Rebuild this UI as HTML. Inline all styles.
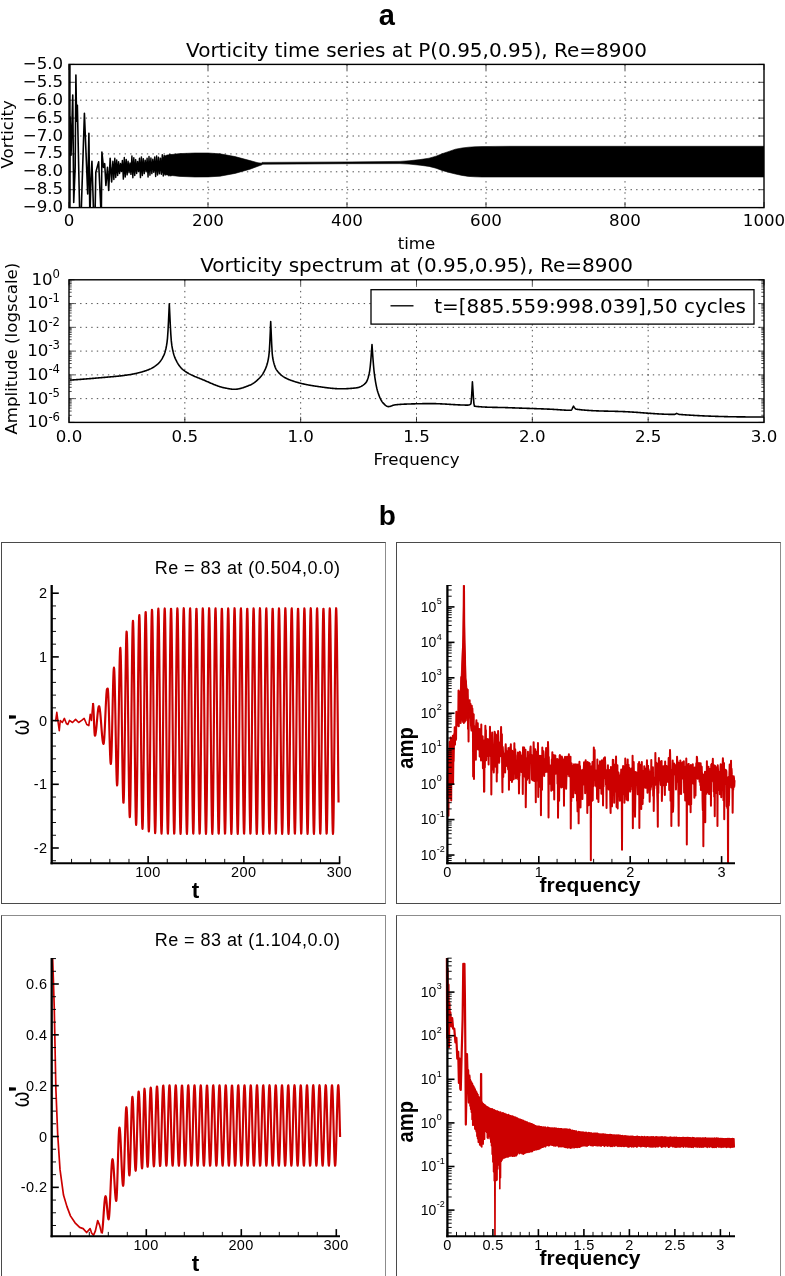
<!DOCTYPE html>
<html lang="en">
<head>
<meta charset="utf-8">
<title>Vorticity time series and spectra</title>
<style>
html,body{margin:0;padding:0;background:#fff;}
body{width:785px;height:1276px;overflow:hidden;}
svg{display:block;}
text{white-space:pre;}
</style>
</head>
<body>
<svg width="785" height="1276" viewBox="0 0 785 1276">
<rect x="0" y="0" width="785" height="1276" fill="#ffffff"/>
<text x="386.8" y="24.9" font-family="'Liberation Sans','DejaVu Sans',sans-serif" font-weight="bold" font-size="29" text-anchor="middle" fill="#000">a</text>
<text x="387.3" y="524.7" font-family="'Liberation Sans','DejaVu Sans',sans-serif" font-weight="bold" font-size="28" text-anchor="middle" fill="#000">b</text>
<g id="a1">
<line x1="69" y1="82.3" x2="764" y2="82.3" stroke="#000" stroke-width="0.7" stroke-dasharray="1.39 4.17"/>
<line x1="69" y1="100.2" x2="764" y2="100.2" stroke="#000" stroke-width="0.7" stroke-dasharray="1.39 4.17"/>
<line x1="69" y1="118.1" x2="764" y2="118.1" stroke="#000" stroke-width="0.7" stroke-dasharray="1.39 4.17"/>
<line x1="69" y1="136" x2="764" y2="136" stroke="#000" stroke-width="0.7" stroke-dasharray="1.39 4.17"/>
<line x1="69" y1="153.9" x2="764" y2="153.9" stroke="#000" stroke-width="0.7" stroke-dasharray="1.39 4.17"/>
<line x1="69" y1="171.8" x2="764" y2="171.8" stroke="#000" stroke-width="0.7" stroke-dasharray="1.39 4.17"/>
<line x1="69" y1="189.7" x2="764" y2="189.7" stroke="#000" stroke-width="0.7" stroke-dasharray="1.39 4.17"/>
<line x1="208" y1="64.4" x2="208" y2="207.6" stroke="#000" stroke-width="0.7" stroke-dasharray="1.39 4.17"/>
<line x1="347" y1="64.4" x2="347" y2="207.6" stroke="#000" stroke-width="0.7" stroke-dasharray="1.39 4.17"/>
<line x1="486" y1="64.4" x2="486" y2="207.6" stroke="#000" stroke-width="0.7" stroke-dasharray="1.39 4.17"/>
<line x1="625" y1="64.4" x2="625" y2="207.6" stroke="#000" stroke-width="0.7" stroke-dasharray="1.39 4.17"/>
<line x1="69" y1="64.4" x2="74.56" y2="64.4" stroke="#000" stroke-width="0.7"/>
<line x1="764" y1="64.4" x2="758.44" y2="64.4" stroke="#000" stroke-width="0.7"/>
<line x1="69" y1="82.3" x2="74.56" y2="82.3" stroke="#000" stroke-width="0.7"/>
<line x1="764" y1="82.3" x2="758.44" y2="82.3" stroke="#000" stroke-width="0.7"/>
<line x1="69" y1="100.2" x2="74.56" y2="100.2" stroke="#000" stroke-width="0.7"/>
<line x1="764" y1="100.2" x2="758.44" y2="100.2" stroke="#000" stroke-width="0.7"/>
<line x1="69" y1="118.1" x2="74.56" y2="118.1" stroke="#000" stroke-width="0.7"/>
<line x1="764" y1="118.1" x2="758.44" y2="118.1" stroke="#000" stroke-width="0.7"/>
<line x1="69" y1="136" x2="74.56" y2="136" stroke="#000" stroke-width="0.7"/>
<line x1="764" y1="136" x2="758.44" y2="136" stroke="#000" stroke-width="0.7"/>
<line x1="69" y1="153.9" x2="74.56" y2="153.9" stroke="#000" stroke-width="0.7"/>
<line x1="764" y1="153.9" x2="758.44" y2="153.9" stroke="#000" stroke-width="0.7"/>
<line x1="69" y1="171.8" x2="74.56" y2="171.8" stroke="#000" stroke-width="0.7"/>
<line x1="764" y1="171.8" x2="758.44" y2="171.8" stroke="#000" stroke-width="0.7"/>
<line x1="69" y1="189.7" x2="74.56" y2="189.7" stroke="#000" stroke-width="0.7"/>
<line x1="764" y1="189.7" x2="758.44" y2="189.7" stroke="#000" stroke-width="0.7"/>
<line x1="69" y1="207.6" x2="74.56" y2="207.6" stroke="#000" stroke-width="0.7"/>
<line x1="764" y1="207.6" x2="758.44" y2="207.6" stroke="#000" stroke-width="0.7"/>
<line x1="69" y1="207.6" x2="69" y2="202.04" stroke="#000" stroke-width="0.7"/>
<line x1="69" y1="64.4" x2="69" y2="69.96" stroke="#000" stroke-width="0.7"/>
<line x1="208" y1="207.6" x2="208" y2="202.04" stroke="#000" stroke-width="0.7"/>
<line x1="208" y1="64.4" x2="208" y2="69.96" stroke="#000" stroke-width="0.7"/>
<line x1="347" y1="207.6" x2="347" y2="202.04" stroke="#000" stroke-width="0.7"/>
<line x1="347" y1="64.4" x2="347" y2="69.96" stroke="#000" stroke-width="0.7"/>
<line x1="486" y1="207.6" x2="486" y2="202.04" stroke="#000" stroke-width="0.7"/>
<line x1="486" y1="64.4" x2="486" y2="69.96" stroke="#000" stroke-width="0.7"/>
<line x1="625" y1="207.6" x2="625" y2="202.04" stroke="#000" stroke-width="0.7"/>
<line x1="625" y1="64.4" x2="625" y2="69.96" stroke="#000" stroke-width="0.7"/>
<line x1="764" y1="207.6" x2="764" y2="202.04" stroke="#000" stroke-width="0.7"/>
<line x1="764" y1="64.4" x2="764" y2="69.96" stroke="#000" stroke-width="0.7"/>
<clipPath id="ca1"><rect x="69" y="64.4" width="695" height="143.2"/></clipPath>
<g clip-path="url(#ca1)" stroke="#000" fill="none" stroke-width="1.6" stroke-linejoin="round">
<path d="M69.9 64.4 L69.9 207.6 L70.2 118 L70.07 116.31 L71.05 155.18 L72.75 95.05 L73.72 202.56 L75.18 167.33 L75.9 75.01 L76.63 121.17 L77.36 105.38 L79.79 218.35 L81.01 218.35 L84.41 113.27 L87.69 194.05 L88.9 133.32 L89.87 218.35 L90.97 179.48 L91.94 161.26 L93.76 218.35 L94.98 218.35 L95.83 172.19 L98.62 161.86 L101.29 218.35 L101.9 152.14 L103.48 167.33 L104.69 163.69 L105.91 185.55 L107.49 167.33 L108.7 190.41 L110.16 158.22 L111.62 181.91 L112.59 167.33"/>
<path d="M111 169.35 L111.95 171.81 L112.9 161.33 L113.85 179.51 L114.8 158.33 L115.75 177.49 L116.7 160.09 L117.65 175.48 L118.6 161.83 L119.55 173.5 L120.5 163.54 L121.45 171.55 L122.4 160.36 L123.35 179.12 L124.3 157.51 L125.25 176.98 L126.2 159.39 L127.15 174.86 L128.1 161.24 L129.05 172.76 L130 163.08 L130.95 174.35 L131.9 156.03 L132.85 177.74 L133.8 157.71 L134.75 175.56 L135.7 159.6 L136.65 173.51 L137.6 161.36 L138.55 171.58 L139.5 158.31 L140.45 177.63 L141.4 156.86 L142.35 175.55 L143.3 158.65 L144.25 173.6 L145.2 160.3 L146.15 171.78 L147.1 158.13 L148.05 176.99 L149 156.47 L149.95 175.15 L150.9 157.96 L151.85 173.61 L152.8 159.21 L153.75 172.25 L154.7 157.07 L155.65 176.5 L156.6 155.99 L157.55 175.04 L158.5 157.16 L159.45 173.79 L160.4 158.12 L161.35 174.16 L162.3 154.66 L163.25 175.92 L164.2 155.59 L165.15 174.91 L166.1 156.23 L167.05 174.3 L168 156.29 L168.95 175.78 L169.9 154.38 L170.85 175.83 L171.8 154.67" stroke-width="1.45"/>
</g>
<path d="M162 158.5 L164 156.5 L167 155 L180 153.6 L195 153 L208 153 L220 153.8 L235 156.6 L250 160.6 L258 162.8 L262 163.2 L262 164.8 L258 166.2 L250 169.2 L235 173.4 L220 176.2 L208 176.9 L195 177 L180 176.4 L167 175 L164 174 L162 172Z" fill="#000" stroke="#000" stroke-width="0.6" stroke-linejoin="round"/>
<g clip-path="url(#ca1)">
<path d="M262 162.4 L300 162.2 L350 161.9 L400 161.4 L409 160.8 L420 159.6 L429 158.2 L436 156.2 L442 153.8 L449 151.4 L455.4 149.2 L462 148 L468.6 147.2 L475 146.8 L482 146.6 L495 146.4 L510 146.3 L764.6 146.3 L764.6 177 L510 177 L495 177 L482 177 L475 176.8 L468.6 176.4 L462 175.4 L455.4 174 L449 172.4 L442 170.4 L436 168.2 L429 166.4 L420 165.2 L409 164.1 L400 163.6 L350 163.7 L300 164 L262 164.2Z" fill="#000" stroke="#000" stroke-width="0.6" stroke-linejoin="round"/>
</g>
<rect x="69" y="64.4" width="695" height="143.2" fill="none" stroke="#000" stroke-width="1.4"/>
<text x="63.2" y="68.9" font-family="'DejaVu Sans','Liberation Sans',sans-serif" font-size="16.67" text-anchor="end" fill="#000">−5.0</text>
<text x="63.2" y="86.8" font-family="'DejaVu Sans','Liberation Sans',sans-serif" font-size="16.67" text-anchor="end" fill="#000">−5.5</text>
<text x="63.2" y="104.7" font-family="'DejaVu Sans','Liberation Sans',sans-serif" font-size="16.67" text-anchor="end" fill="#000">−6.0</text>
<text x="63.2" y="122.6" font-family="'DejaVu Sans','Liberation Sans',sans-serif" font-size="16.67" text-anchor="end" fill="#000">−6.5</text>
<text x="63.2" y="140.5" font-family="'DejaVu Sans','Liberation Sans',sans-serif" font-size="16.67" text-anchor="end" fill="#000">−7.0</text>
<text x="63.2" y="158.4" font-family="'DejaVu Sans','Liberation Sans',sans-serif" font-size="16.67" text-anchor="end" fill="#000">−7.5</text>
<text x="63.2" y="176.3" font-family="'DejaVu Sans','Liberation Sans',sans-serif" font-size="16.67" text-anchor="end" fill="#000">−8.0</text>
<text x="63.2" y="194.2" font-family="'DejaVu Sans','Liberation Sans',sans-serif" font-size="16.67" text-anchor="end" fill="#000">−8.5</text>
<text x="63.2" y="212.1" font-family="'DejaVu Sans','Liberation Sans',sans-serif" font-size="16.67" text-anchor="end" fill="#000">−9.0</text>
<text x="69" y="226" font-family="'DejaVu Sans','Liberation Sans',sans-serif" font-size="16.67" text-anchor="middle" fill="#000">0</text>
<text x="208" y="226" font-family="'DejaVu Sans','Liberation Sans',sans-serif" font-size="16.67" text-anchor="middle" fill="#000">200</text>
<text x="347" y="226" font-family="'DejaVu Sans','Liberation Sans',sans-serif" font-size="16.67" text-anchor="middle" fill="#000">400</text>
<text x="486" y="226" font-family="'DejaVu Sans','Liberation Sans',sans-serif" font-size="16.67" text-anchor="middle" fill="#000">600</text>
<text x="625" y="226" font-family="'DejaVu Sans','Liberation Sans',sans-serif" font-size="16.67" text-anchor="middle" fill="#000">800</text>
<text x="764" y="226" font-family="'DejaVu Sans','Liberation Sans',sans-serif" font-size="16.67" text-anchor="middle" fill="#000">1000</text>
<text x="416.5" y="57" font-family="'DejaVu Sans','Liberation Sans',sans-serif" font-size="20" text-anchor="middle" fill="#000">Vorticity time series at P(0.95,0.95), Re=8900</text>
<text x="416.5" y="248.6" font-family="'DejaVu Sans','Liberation Sans',sans-serif" font-size="16.67" text-anchor="middle" fill="#000">time</text>
<text transform="translate(12.8 134.3) rotate(-90)" font-family="'DejaVu Sans','Liberation Sans',sans-serif" font-size="16.67" text-anchor="middle" fill="#000">Vorticity</text>
</g>
<g id="a2">
<line x1="69" y1="303.57" x2="764" y2="303.57" stroke="#000" stroke-width="0.7" stroke-dasharray="1.39 4.17"/>
<line x1="69" y1="327.33" x2="764" y2="327.33" stroke="#000" stroke-width="0.7" stroke-dasharray="1.39 4.17"/>
<line x1="69" y1="351.1" x2="764" y2="351.1" stroke="#000" stroke-width="0.7" stroke-dasharray="1.39 4.17"/>
<line x1="69" y1="374.87" x2="764" y2="374.87" stroke="#000" stroke-width="0.7" stroke-dasharray="1.39 4.17"/>
<line x1="69" y1="398.63" x2="764" y2="398.63" stroke="#000" stroke-width="0.7" stroke-dasharray="1.39 4.17"/>
<line x1="184.83" y1="279.8" x2="184.83" y2="422.4" stroke="#000" stroke-width="0.7" stroke-dasharray="1.39 4.17"/>
<line x1="300.67" y1="279.8" x2="300.67" y2="422.4" stroke="#000" stroke-width="0.7" stroke-dasharray="1.39 4.17"/>
<line x1="416.5" y1="279.8" x2="416.5" y2="422.4" stroke="#000" stroke-width="0.7" stroke-dasharray="1.39 4.17"/>
<line x1="532.33" y1="279.8" x2="532.33" y2="422.4" stroke="#000" stroke-width="0.7" stroke-dasharray="1.39 4.17"/>
<line x1="648.17" y1="279.8" x2="648.17" y2="422.4" stroke="#000" stroke-width="0.7" stroke-dasharray="1.39 4.17"/>
<line x1="69" y1="279.8" x2="74.56" y2="279.8" stroke="#000" stroke-width="0.7"/>
<line x1="764" y1="279.8" x2="758.44" y2="279.8" stroke="#000" stroke-width="0.7"/>
<line x1="69" y1="296.41" x2="71.7" y2="296.41" stroke="#000" stroke-width="0.7"/>
<line x1="764" y1="296.41" x2="761.3" y2="296.41" stroke="#000" stroke-width="0.7"/>
<line x1="69" y1="292.23" x2="71.7" y2="292.23" stroke="#000" stroke-width="0.7"/>
<line x1="764" y1="292.23" x2="761.3" y2="292.23" stroke="#000" stroke-width="0.7"/>
<line x1="69" y1="289.26" x2="71.7" y2="289.26" stroke="#000" stroke-width="0.7"/>
<line x1="764" y1="289.26" x2="761.3" y2="289.26" stroke="#000" stroke-width="0.7"/>
<line x1="69" y1="286.95" x2="71.7" y2="286.95" stroke="#000" stroke-width="0.7"/>
<line x1="764" y1="286.95" x2="761.3" y2="286.95" stroke="#000" stroke-width="0.7"/>
<line x1="69" y1="285.07" x2="71.7" y2="285.07" stroke="#000" stroke-width="0.7"/>
<line x1="764" y1="285.07" x2="761.3" y2="285.07" stroke="#000" stroke-width="0.7"/>
<line x1="69" y1="283.48" x2="71.7" y2="283.48" stroke="#000" stroke-width="0.7"/>
<line x1="764" y1="283.48" x2="761.3" y2="283.48" stroke="#000" stroke-width="0.7"/>
<line x1="69" y1="282.1" x2="71.7" y2="282.1" stroke="#000" stroke-width="0.7"/>
<line x1="764" y1="282.1" x2="761.3" y2="282.1" stroke="#000" stroke-width="0.7"/>
<line x1="69" y1="280.89" x2="71.7" y2="280.89" stroke="#000" stroke-width="0.7"/>
<line x1="764" y1="280.89" x2="761.3" y2="280.89" stroke="#000" stroke-width="0.7"/>
<line x1="69" y1="303.57" x2="74.56" y2="303.57" stroke="#000" stroke-width="0.7"/>
<line x1="764" y1="303.57" x2="758.44" y2="303.57" stroke="#000" stroke-width="0.7"/>
<line x1="69" y1="320.18" x2="71.7" y2="320.18" stroke="#000" stroke-width="0.7"/>
<line x1="764" y1="320.18" x2="761.3" y2="320.18" stroke="#000" stroke-width="0.7"/>
<line x1="69" y1="315.99" x2="71.7" y2="315.99" stroke="#000" stroke-width="0.7"/>
<line x1="764" y1="315.99" x2="761.3" y2="315.99" stroke="#000" stroke-width="0.7"/>
<line x1="69" y1="313.02" x2="71.7" y2="313.02" stroke="#000" stroke-width="0.7"/>
<line x1="764" y1="313.02" x2="761.3" y2="313.02" stroke="#000" stroke-width="0.7"/>
<line x1="69" y1="310.72" x2="71.7" y2="310.72" stroke="#000" stroke-width="0.7"/>
<line x1="764" y1="310.72" x2="761.3" y2="310.72" stroke="#000" stroke-width="0.7"/>
<line x1="69" y1="308.84" x2="71.7" y2="308.84" stroke="#000" stroke-width="0.7"/>
<line x1="764" y1="308.84" x2="761.3" y2="308.84" stroke="#000" stroke-width="0.7"/>
<line x1="69" y1="307.25" x2="71.7" y2="307.25" stroke="#000" stroke-width="0.7"/>
<line x1="764" y1="307.25" x2="761.3" y2="307.25" stroke="#000" stroke-width="0.7"/>
<line x1="69" y1="305.87" x2="71.7" y2="305.87" stroke="#000" stroke-width="0.7"/>
<line x1="764" y1="305.87" x2="761.3" y2="305.87" stroke="#000" stroke-width="0.7"/>
<line x1="69" y1="304.65" x2="71.7" y2="304.65" stroke="#000" stroke-width="0.7"/>
<line x1="764" y1="304.65" x2="761.3" y2="304.65" stroke="#000" stroke-width="0.7"/>
<line x1="69" y1="327.33" x2="74.56" y2="327.33" stroke="#000" stroke-width="0.7"/>
<line x1="764" y1="327.33" x2="758.44" y2="327.33" stroke="#000" stroke-width="0.7"/>
<line x1="69" y1="343.95" x2="71.7" y2="343.95" stroke="#000" stroke-width="0.7"/>
<line x1="764" y1="343.95" x2="761.3" y2="343.95" stroke="#000" stroke-width="0.7"/>
<line x1="69" y1="339.76" x2="71.7" y2="339.76" stroke="#000" stroke-width="0.7"/>
<line x1="764" y1="339.76" x2="761.3" y2="339.76" stroke="#000" stroke-width="0.7"/>
<line x1="69" y1="336.79" x2="71.7" y2="336.79" stroke="#000" stroke-width="0.7"/>
<line x1="764" y1="336.79" x2="761.3" y2="336.79" stroke="#000" stroke-width="0.7"/>
<line x1="69" y1="334.49" x2="71.7" y2="334.49" stroke="#000" stroke-width="0.7"/>
<line x1="764" y1="334.49" x2="761.3" y2="334.49" stroke="#000" stroke-width="0.7"/>
<line x1="69" y1="332.61" x2="71.7" y2="332.61" stroke="#000" stroke-width="0.7"/>
<line x1="764" y1="332.61" x2="761.3" y2="332.61" stroke="#000" stroke-width="0.7"/>
<line x1="69" y1="331.01" x2="71.7" y2="331.01" stroke="#000" stroke-width="0.7"/>
<line x1="764" y1="331.01" x2="761.3" y2="331.01" stroke="#000" stroke-width="0.7"/>
<line x1="69" y1="329.64" x2="71.7" y2="329.64" stroke="#000" stroke-width="0.7"/>
<line x1="764" y1="329.64" x2="761.3" y2="329.64" stroke="#000" stroke-width="0.7"/>
<line x1="69" y1="328.42" x2="71.7" y2="328.42" stroke="#000" stroke-width="0.7"/>
<line x1="764" y1="328.42" x2="761.3" y2="328.42" stroke="#000" stroke-width="0.7"/>
<line x1="69" y1="351.1" x2="74.56" y2="351.1" stroke="#000" stroke-width="0.7"/>
<line x1="764" y1="351.1" x2="758.44" y2="351.1" stroke="#000" stroke-width="0.7"/>
<line x1="69" y1="367.71" x2="71.7" y2="367.71" stroke="#000" stroke-width="0.7"/>
<line x1="764" y1="367.71" x2="761.3" y2="367.71" stroke="#000" stroke-width="0.7"/>
<line x1="69" y1="363.53" x2="71.7" y2="363.53" stroke="#000" stroke-width="0.7"/>
<line x1="764" y1="363.53" x2="761.3" y2="363.53" stroke="#000" stroke-width="0.7"/>
<line x1="69" y1="360.56" x2="71.7" y2="360.56" stroke="#000" stroke-width="0.7"/>
<line x1="764" y1="360.56" x2="761.3" y2="360.56" stroke="#000" stroke-width="0.7"/>
<line x1="69" y1="358.25" x2="71.7" y2="358.25" stroke="#000" stroke-width="0.7"/>
<line x1="764" y1="358.25" x2="761.3" y2="358.25" stroke="#000" stroke-width="0.7"/>
<line x1="69" y1="356.37" x2="71.7" y2="356.37" stroke="#000" stroke-width="0.7"/>
<line x1="764" y1="356.37" x2="761.3" y2="356.37" stroke="#000" stroke-width="0.7"/>
<line x1="69" y1="354.78" x2="71.7" y2="354.78" stroke="#000" stroke-width="0.7"/>
<line x1="764" y1="354.78" x2="761.3" y2="354.78" stroke="#000" stroke-width="0.7"/>
<line x1="69" y1="353.4" x2="71.7" y2="353.4" stroke="#000" stroke-width="0.7"/>
<line x1="764" y1="353.4" x2="761.3" y2="353.4" stroke="#000" stroke-width="0.7"/>
<line x1="69" y1="352.19" x2="71.7" y2="352.19" stroke="#000" stroke-width="0.7"/>
<line x1="764" y1="352.19" x2="761.3" y2="352.19" stroke="#000" stroke-width="0.7"/>
<line x1="69" y1="374.87" x2="74.56" y2="374.87" stroke="#000" stroke-width="0.7"/>
<line x1="764" y1="374.87" x2="758.44" y2="374.87" stroke="#000" stroke-width="0.7"/>
<line x1="69" y1="391.48" x2="71.7" y2="391.48" stroke="#000" stroke-width="0.7"/>
<line x1="764" y1="391.48" x2="761.3" y2="391.48" stroke="#000" stroke-width="0.7"/>
<line x1="69" y1="387.29" x2="71.7" y2="387.29" stroke="#000" stroke-width="0.7"/>
<line x1="764" y1="387.29" x2="761.3" y2="387.29" stroke="#000" stroke-width="0.7"/>
<line x1="69" y1="384.32" x2="71.7" y2="384.32" stroke="#000" stroke-width="0.7"/>
<line x1="764" y1="384.32" x2="761.3" y2="384.32" stroke="#000" stroke-width="0.7"/>
<line x1="69" y1="382.02" x2="71.7" y2="382.02" stroke="#000" stroke-width="0.7"/>
<line x1="764" y1="382.02" x2="761.3" y2="382.02" stroke="#000" stroke-width="0.7"/>
<line x1="69" y1="380.14" x2="71.7" y2="380.14" stroke="#000" stroke-width="0.7"/>
<line x1="764" y1="380.14" x2="761.3" y2="380.14" stroke="#000" stroke-width="0.7"/>
<line x1="69" y1="378.55" x2="71.7" y2="378.55" stroke="#000" stroke-width="0.7"/>
<line x1="764" y1="378.55" x2="761.3" y2="378.55" stroke="#000" stroke-width="0.7"/>
<line x1="69" y1="377.17" x2="71.7" y2="377.17" stroke="#000" stroke-width="0.7"/>
<line x1="764" y1="377.17" x2="761.3" y2="377.17" stroke="#000" stroke-width="0.7"/>
<line x1="69" y1="375.95" x2="71.7" y2="375.95" stroke="#000" stroke-width="0.7"/>
<line x1="764" y1="375.95" x2="761.3" y2="375.95" stroke="#000" stroke-width="0.7"/>
<line x1="69" y1="398.63" x2="74.56" y2="398.63" stroke="#000" stroke-width="0.7"/>
<line x1="764" y1="398.63" x2="758.44" y2="398.63" stroke="#000" stroke-width="0.7"/>
<line x1="69" y1="415.25" x2="71.7" y2="415.25" stroke="#000" stroke-width="0.7"/>
<line x1="764" y1="415.25" x2="761.3" y2="415.25" stroke="#000" stroke-width="0.7"/>
<line x1="69" y1="411.06" x2="71.7" y2="411.06" stroke="#000" stroke-width="0.7"/>
<line x1="764" y1="411.06" x2="761.3" y2="411.06" stroke="#000" stroke-width="0.7"/>
<line x1="69" y1="408.09" x2="71.7" y2="408.09" stroke="#000" stroke-width="0.7"/>
<line x1="764" y1="408.09" x2="761.3" y2="408.09" stroke="#000" stroke-width="0.7"/>
<line x1="69" y1="405.79" x2="71.7" y2="405.79" stroke="#000" stroke-width="0.7"/>
<line x1="764" y1="405.79" x2="761.3" y2="405.79" stroke="#000" stroke-width="0.7"/>
<line x1="69" y1="403.91" x2="71.7" y2="403.91" stroke="#000" stroke-width="0.7"/>
<line x1="764" y1="403.91" x2="761.3" y2="403.91" stroke="#000" stroke-width="0.7"/>
<line x1="69" y1="402.31" x2="71.7" y2="402.31" stroke="#000" stroke-width="0.7"/>
<line x1="764" y1="402.31" x2="761.3" y2="402.31" stroke="#000" stroke-width="0.7"/>
<line x1="69" y1="400.94" x2="71.7" y2="400.94" stroke="#000" stroke-width="0.7"/>
<line x1="764" y1="400.94" x2="761.3" y2="400.94" stroke="#000" stroke-width="0.7"/>
<line x1="69" y1="399.72" x2="71.7" y2="399.72" stroke="#000" stroke-width="0.7"/>
<line x1="764" y1="399.72" x2="761.3" y2="399.72" stroke="#000" stroke-width="0.7"/>
<line x1="69" y1="422.4" x2="74.56" y2="422.4" stroke="#000" stroke-width="0.7"/>
<line x1="764" y1="422.4" x2="758.44" y2="422.4" stroke="#000" stroke-width="0.7"/>
<line x1="69" y1="422.4" x2="69" y2="416.84" stroke="#000" stroke-width="0.7"/>
<line x1="69" y1="279.8" x2="69" y2="285.36" stroke="#000" stroke-width="0.7"/>
<line x1="184.83" y1="422.4" x2="184.83" y2="416.84" stroke="#000" stroke-width="0.7"/>
<line x1="184.83" y1="279.8" x2="184.83" y2="285.36" stroke="#000" stroke-width="0.7"/>
<line x1="300.67" y1="422.4" x2="300.67" y2="416.84" stroke="#000" stroke-width="0.7"/>
<line x1="300.67" y1="279.8" x2="300.67" y2="285.36" stroke="#000" stroke-width="0.7"/>
<line x1="416.5" y1="422.4" x2="416.5" y2="416.84" stroke="#000" stroke-width="0.7"/>
<line x1="416.5" y1="279.8" x2="416.5" y2="285.36" stroke="#000" stroke-width="0.7"/>
<line x1="532.33" y1="422.4" x2="532.33" y2="416.84" stroke="#000" stroke-width="0.7"/>
<line x1="532.33" y1="279.8" x2="532.33" y2="285.36" stroke="#000" stroke-width="0.7"/>
<line x1="648.17" y1="422.4" x2="648.17" y2="416.84" stroke="#000" stroke-width="0.7"/>
<line x1="648.17" y1="279.8" x2="648.17" y2="285.36" stroke="#000" stroke-width="0.7"/>
<line x1="764" y1="422.4" x2="764" y2="416.84" stroke="#000" stroke-width="0.7"/>
<line x1="764" y1="279.8" x2="764" y2="285.36" stroke="#000" stroke-width="0.7"/>
<path d="M70 380.1 L70.5 380.07 L71 380.03 L71.5 380 L72 379.97 L72.5 379.93 L73 379.9 L73.5 379.87 L74 379.83 L74.5 379.8 L75 379.76 L75.5 379.73 L76 379.69 L76.5 379.66 L77 379.62 L77.5 379.58 L78 379.55 L78.5 379.51 L79 379.47 L79.5 379.44 L80 379.4 L80.5 379.36 L81 379.33 L81.5 379.29 L82 379.25 L82.5 379.21 L83 379.17 L83.5 379.14 L84 379.1 L84.5 379.06 L85 379.02 L85.5 378.98 L86 378.94 L86.5 378.9 L87 378.86 L87.5 378.82 L88 378.78 L88.5 378.74 L89 378.7 L89.5 378.66 L90 378.62 L90.5 378.58 L91 378.54 L91.5 378.5 L92 378.45 L92.5 378.41 L93 378.37 L93.5 378.33 L94 378.29 L94.5 378.24 L95 378.2 L95.5 378.16 L96 378.12 L96.5 378.07 L97 378.03 L97.5 377.99 L98 377.94 L98.5 377.9 L99 377.86 L99.5 377.81 L100 377.77 L100.5 377.72 L101 377.68 L101.5 377.64 L102 377.59 L102.5 377.55 L103 377.5 L103.5 377.46 L104 377.42 L104.5 377.37 L105 377.33 L105.5 377.29 L106 377.24 L106.5 377.2 L107 377.16 L107.5 377.12 L108 377.07 L108.5 377.03 L109 376.99 L109.5 376.94 L110 376.9 L110.5 376.86 L111 376.81 L111.5 376.77 L112 376.72 L112.5 376.68 L113 376.63 L113.5 376.59 L114 376.54 L114.5 376.5 L115 376.45 L115.5 376.4 L116 376.35 L116.5 376.3 L117 376.25 L117.5 376.2 L118 376.15 L118.5 376.1 L119 376.05 L119.5 375.99 L120 375.94 L120.5 375.88 L121 375.83 L121.5 375.77 L122 375.71 L122.5 375.65 L123 375.59 L123.5 375.53 L124 375.46 L124.5 375.4 L125 375.33 L125.5 375.27 L126 375.2 L126.5 375.13 L127 375.06 L127.5 374.99 L128 374.91 L128.5 374.83 L129 374.76 L129.5 374.68 L130 374.59 L130.5 374.51 L131 374.42 L131.5 374.33 L132 374.24 L132.5 374.15 L133 374.05 L133.5 373.96 L134 373.86 L134.5 373.75 L135 373.65 L135.5 373.54 L136 373.43 L136.5 373.32 L137 373.2 L137.5 373.09 L138 372.97 L138.5 372.84 L139 372.72 L139.5 372.59 L140 372.46 L140.5 372.32 L141 372.18 L141.5 372.04 L142 371.9 L142.5 371.75 L143 371.6 L143.5 371.45 L144 371.29 L144.5 371.13 L145 370.97 L145.5 370.81 L146 370.64 L146.5 370.46 L147 370.29 L147.5 370.11 L148 369.93 L148.5 369.73 L149 369.53 L149.5 369.32 L150 369.1 L150.5 368.86 L151 368.62 L151.5 368.36 L152 368.09 L152.5 367.81 L153 367.52 L153.5 367.21 L154 366.89 L154.5 366.56 L155 366.21 L155.5 365.85 L156 365.47 L156.5 365.07 L157 364.67 L157.5 364.24 L158 363.8 L158.5 363.33 L159 362.83 L159.5 362.29 L160 361.71 L160.5 361.07 L161 360.38 L161.5 359.63 L162 358.82 L162.5 357.94 L163 356.98 L163.5 355.95 L164 354.83 L164.5 353.6 L165 352.15 L165.5 350.4 L166 348.27 L166.5 345.69 L167 342.59 L167.5 338.05 L168 330.73 L168.5 321.3 L169 310.52 L169.3 303.7 L169.3 303.7 L169.8 314.61 L170.3 324.93 L170.8 333.94 L171.3 340.9 L171.8 345.14 L172.3 348.04 L172.8 350.54 L173.3 352.68 L173.8 354.51 L174.3 356.07 L174.8 357.43 L175.3 358.62 L175.8 359.7 L176.3 360.71 L176.8 361.67 L177.3 362.57 L177.8 363.42 L178.3 364.22 L178.8 364.98 L179.3 365.68 L179.8 366.35 L180.3 366.97 L180.8 367.55 L181.3 368.09 L181.8 368.6 L182.3 369.07 L182.8 369.51 L183.3 369.92 L183.8 370.31 L184.3 370.68 L184.8 371.05 L185.3 371.4 L185.8 371.74 L186.3 372.07 L186.8 372.39 L187.3 372.7 L187.8 373 L188.3 373.29 L188.8 373.58 L189.3 373.85 L189.8 374.12 L190.3 374.38 L190.8 374.64 L191.3 374.88 L191.8 375.12 L192.3 375.36 L192.8 375.59 L193.3 375.82 L193.8 376.04 L194.3 376.25 L194.8 376.47 L195.3 376.67 L195.8 376.88 L196.3 377.08 L196.8 377.29 L197.3 377.49 L197.8 377.68 L198.3 377.88 L198.8 378.08 L199.3 378.28 L199.8 378.47 L200.3 378.67 L200.8 378.87 L201.3 379.07 L201.8 379.27 L202.3 379.47 L202.8 379.68 L203.3 379.89 L203.8 380.1 L204.3 380.32 L204.8 380.53 L205.3 380.75 L205.8 380.97 L206.3 381.19 L206.8 381.41 L207.3 381.63 L207.8 381.85 L208.3 382.07 L208.8 382.29 L209.3 382.52 L209.8 382.74 L210.3 382.95 L210.8 383.17 L211.3 383.39 L211.8 383.6 L212.3 383.82 L212.8 384.03 L213.3 384.24 L213.8 384.45 L214.3 384.65 L214.8 384.85 L215.3 385.05 L215.8 385.24 L216.3 385.43 L216.8 385.62 L217.3 385.8 L217.8 385.98 L218.3 386.16 L218.8 386.33 L219.3 386.49 L219.8 386.65 L220.3 386.81 L220.8 386.96 L221.3 387.1 L221.8 387.23 L222.3 387.37 L222.8 387.49 L223.3 387.61 L223.8 387.72 L224.3 387.82 L224.8 387.92 L225.3 388.03 L225.8 388.13 L226.3 388.23 L226.8 388.33 L227.3 388.43 L227.8 388.53 L228.3 388.63 L228.8 388.72 L229.3 388.81 L229.8 388.89 L230.3 388.97 L230.8 389.04 L231.3 389.1 L231.8 389.16 L232.3 389.2 L232.8 389.24 L233.3 389.27 L233.8 389.29 L234.3 389.3 L234.8 389.3 L235.3 389.28 L235.8 389.25 L236.3 389.21 L236.8 389.16 L237.3 389.1 L237.8 389.02 L238.3 388.94 L238.8 388.84 L239.3 388.74 L239.8 388.63 L240.3 388.51 L240.8 388.38 L241.3 388.25 L241.8 388.1 L242.3 387.95 L242.8 387.8 L243.3 387.63 L243.8 387.47 L244.3 387.29 L244.8 387.11 L245.3 386.93 L245.8 386.74 L246.3 386.55 L246.8 386.36 L247.3 386.17 L247.8 385.97 L248.3 385.77 L248.8 385.57 L249.3 385.36 L249.8 385.16 L250.3 384.94 L250.8 384.71 L251.3 384.46 L251.8 384.19 L252.3 383.91 L252.8 383.61 L253.3 383.29 L253.8 382.96 L254.3 382.61 L254.8 382.24 L255.3 381.86 L255.8 381.46 L256.3 381.04 L256.8 380.61 L257.3 380.17 L257.8 379.7 L258.3 379.23 L258.8 378.74 L259.3 378.23 L259.8 377.71 L260.3 377.16 L260.8 376.59 L261.3 375.98 L261.8 375.32 L262.3 374.61 L262.8 373.85 L263.3 373.04 L263.8 372.16 L264.3 371.21 L264.8 370.18 L265.3 369.08 L265.8 367.9 L266.3 366.63 L266.8 365.23 L267.3 363.59 L267.8 361.59 L268.3 359.11 L268.8 356.03 L269.3 351.45 L269.8 342.82 L270.3 331.44 L270.7 321.5 L270.7 321.5 L271.2 333.36 L271.7 344.58 L272.2 353.29 L272.7 357.74 L273.2 360.24 L273.7 362.41 L274.2 364.27 L274.7 365.87 L275.2 367.22 L275.7 368.37 L276.2 369.34 L276.7 370.16 L277.2 370.87 L277.7 371.5 L278.2 372.08 L278.7 372.64 L279.2 373.17 L279.7 373.67 L280.2 374.15 L280.7 374.6 L281.2 375.03 L281.7 375.44 L282.2 375.83 L282.7 376.2 L283.2 376.55 L283.7 376.88 L284.2 377.2 L284.7 377.5 L285.2 377.78 L285.7 378.05 L286.2 378.31 L286.7 378.55 L287.2 378.79 L287.7 379.01 L288.2 379.23 L288.7 379.44 L289.2 379.64 L289.7 379.83 L290.2 380.03 L290.7 380.21 L291.2 380.39 L291.7 380.57 L292.2 380.75 L292.7 380.92 L293.2 381.09 L293.7 381.26 L294.2 381.42 L294.7 381.59 L295.2 381.74 L295.7 381.9 L296.2 382.05 L296.7 382.2 L297.2 382.35 L297.7 382.49 L298.2 382.63 L298.7 382.77 L299.2 382.9 L299.7 383.04 L300.2 383.17 L300.7 383.29 L301.2 383.42 L301.7 383.54 L302.2 383.66 L302.7 383.78 L303.2 383.9 L303.7 384.01 L304.2 384.12 L304.7 384.23 L305.2 384.34 L305.7 384.44 L306.2 384.54 L306.7 384.65 L307.2 384.74 L307.7 384.84 L308.2 384.94 L308.7 385.03 L309.2 385.12 L309.7 385.21 L310.2 385.3 L310.7 385.39 L311.2 385.47 L311.7 385.55 L312.2 385.64 L312.7 385.72 L313.2 385.8 L313.7 385.87 L314.2 385.95 L314.7 386.03 L315.2 386.1 L315.7 386.17 L316.2 386.24 L316.7 386.31 L317.2 386.39 L317.7 386.46 L318.2 386.53 L318.7 386.6 L319.2 386.68 L319.7 386.75 L320.2 386.82 L320.7 386.89 L321.2 386.97 L321.7 387.04 L322.2 387.11 L322.7 387.18 L323.2 387.25 L323.7 387.32 L324.2 387.39 L324.7 387.45 L325.2 387.52 L325.7 387.59 L326.2 387.65 L326.7 387.72 L327.2 387.78 L327.7 387.84 L328.2 387.9 L328.7 387.96 L329.2 388.02 L329.7 388.08 L330.2 388.13 L330.7 388.18 L331.2 388.23 L331.7 388.28 L332.2 388.33 L332.7 388.38 L333.2 388.42 L333.7 388.46 L334.2 388.5 L334.7 388.54 L335.2 388.58 L335.7 388.61 L336.2 388.64 L336.7 388.67 L337.2 388.69 L337.7 388.72 L338.2 388.74 L338.7 388.76 L339.2 388.77 L339.7 388.78 L340.2 388.79 L340.7 388.8 L341.2 388.8 L341.7 388.8 L342.2 388.8 L342.7 388.79 L343.2 388.79 L343.7 388.78 L344.2 388.76 L344.7 388.75 L345.2 388.73 L345.7 388.72 L346.2 388.7 L346.7 388.67 L347.2 388.65 L347.7 388.62 L348.2 388.59 L348.7 388.56 L349.2 388.53 L349.7 388.49 L350.2 388.46 L350.7 388.42 L351.2 388.38 L351.7 388.33 L352.2 388.29 L352.7 388.24 L353.2 388.19 L353.7 388.14 L354.2 388.09 L354.7 388.04 L355.2 387.98 L355.7 387.92 L356.2 387.86 L356.7 387.8 L357.2 387.73 L357.7 387.63 L358.2 387.52 L358.7 387.38 L359.2 387.22 L359.7 387.04 L360.2 386.83 L360.7 386.61 L361.2 386.35 L361.7 386.07 L362.2 385.77 L362.7 385.44 L363.2 385.09 L363.7 384.71 L364.2 384.3 L364.7 383.86 L365.2 383.4 L365.7 382.91 L366.2 382.34 L366.7 381.52 L367.2 380.42 L367.7 379.06 L368.2 377.44 L368.7 375.56 L369.2 373.42 L369.7 370.79 L370.2 366.77 L370.7 361.55 L371.2 355.43 L371.7 348.7 L372 344.5 L372 344.5 L372.5 351.94 L373 358.95 L373.5 365.29 L374 370.72 L374.5 375 L375 378.45 L375.5 381.57 L376 384.37 L376.5 386.86 L377 389.05 L377.5 390.96 L378 392.6 L378.5 394.04 L379 395.39 L379.5 396.65 L380 397.83 L380.5 398.91 L381 399.89 L381.5 400.79 L382 401.59 L382.5 402.29 L383 402.89 L383.5 403.41 L384 403.91 L384.5 404.4 L385 404.87 L385.5 405.3 L386 405.69 L386.5 406.02 L387 406.29 L387.5 406.48 L388 406.58 L388.5 406.6 L389 406.55 L389.5 406.47 L390 406.36 L390.5 406.22 L391 406.06 L391.5 405.88 L392 405.71 L392.5 405.53 L393 405.36 L393.5 405.2 L394 405.07 L394.5 404.96 L395 404.89 L395.5 404.83 L396 404.77 L396.5 404.72 L397 404.67 L397.5 404.62 L398 404.57 L398.5 404.53 L399 404.49 L399.5 404.45 L400 404.41 L400.5 404.37 L401 404.34 L401.5 404.3 L402 404.27 L402.5 404.25 L403 404.22 L403.5 404.19 L404 404.17 L404.5 404.15 L405 404.13 L405.5 404.11 L406 404.09 L406.5 404.08 L407 404.06 L407.5 404.04 L408 404.03 L408.5 404.01 L409 404 L409.5 403.98 L410 403.97 L410.5 403.95 L411 403.94 L411.5 403.92 L412 403.91 L412.5 403.89 L413 403.88 L413.5 403.87 L414 403.85 L414.5 403.84 L415 403.83 L415.5 403.82 L416 403.8 L416.5 403.79 L417 403.78 L417.5 403.77 L418 403.76 L418.5 403.75 L419 403.74 L419.5 403.73 L420 403.72 L420.5 403.71 L421 403.7 L421.5 403.69 L422 403.68 L422.5 403.67 L423 403.67 L423.5 403.66 L424 403.65 L424.5 403.65 L425 403.64 L425.5 403.63 L426 403.63 L426.5 403.62 L427 403.62 L427.5 403.62 L428 403.61 L428.5 403.61 L429 403.61 L429.5 403.6 L430 403.6 L430.5 403.6 L431 403.6 L431.5 403.6 L432 403.6 L432.5 403.6 L433 403.61 L433.5 403.61 L434 403.62 L434.5 403.63 L435 403.64 L435.5 403.65 L436 403.66 L436.5 403.68 L437 403.69 L437.5 403.71 L438 403.72 L438.5 403.74 L439 403.76 L439.5 403.78 L440 403.81 L440.5 403.83 L441 403.85 L441.5 403.88 L442 403.9 L442.5 403.93 L443 403.95 L443.5 403.98 L444 404.01 L444.5 404.04 L445 404.07 L445.5 404.1 L446 404.13 L446.5 404.16 L447 404.19 L447.5 404.22 L448 404.25 L448.5 404.28 L449 404.31 L449.5 404.34 L450 404.37 L450.5 404.4 L451 404.43 L451.5 404.46 L452 404.5 L452.5 404.53 L453 404.56 L453.5 404.59 L454 404.62 L454.5 404.65 L455 404.67 L455.5 404.7 L456 404.73 L456.5 404.76 L457 404.78 L457.5 404.81 L458 404.83 L458.5 404.86 L459 404.88 L459.5 404.9 L460 404.92 L460.5 404.94 L461 404.96 L461.5 404.98 L462 405 L462.5 405.02 L463 405.03 L463.5 405.04 L464 405.06 L464.5 405.07 L465 405.08 L465.5 405.08 L466 405.09 L466.5 405.1 L467 405.1 L467.5 405.1 L468 405.09 L468.5 405.04 L469 404.94 L469.5 404.79 L470 404.57 L470.5 404.3 L471 403.44 L471.5 398.1 L472 389.48 L472.4 381.9 L472.4 381.9 L472.9 389.29 L473.4 397.22 L473.9 403.57 L474.4 406.2 L474.9 406.26 L475.4 406.32 L475.9 406.37 L476.4 406.43 L476.9 406.48 L477.4 406.53 L477.9 406.58 L478.4 406.62 L478.9 406.67 L479.4 406.71 L479.9 406.75 L480.4 406.79 L480.9 406.82 L481.4 406.86 L481.9 406.89 L482.4 406.93 L482.9 406.96 L483.4 406.99 L483.9 407.01 L484.4 407.04 L484.9 407.07 L485.4 407.09 L485.9 407.11 L486.4 407.14 L486.9 407.16 L487.4 407.18 L487.9 407.19 L488.4 407.21 L488.9 407.23 L489.4 407.25 L489.9 407.26 L490.4 407.27 L490.9 407.29 L491.4 407.3 L491.9 407.31 L492.4 407.33 L492.9 407.34 L493.4 407.35 L493.9 407.36 L494.4 407.37 L494.9 407.38 L495.4 407.39 L495.9 407.39 L496.4 407.4 L496.9 407.41 L497.4 407.42 L497.9 407.43 L498.4 407.44 L498.9 407.45 L499.4 407.45 L499.9 407.46 L500.4 407.47 L500.9 407.48 L501.4 407.49 L501.9 407.5 L502.4 407.51 L502.9 407.52 L503.4 407.53 L503.9 407.54 L504.4 407.56 L504.9 407.57 L505.4 407.58 L505.9 407.6 L506.4 407.61 L506.9 407.63 L507.4 407.64 L507.9 407.66 L508.4 407.68 L508.9 407.7 L509.4 407.72 L509.9 407.74 L510.4 407.75 L510.9 407.77 L511.4 407.79 L511.9 407.81 L512.4 407.83 L512.9 407.85 L513.4 407.87 L513.9 407.89 L514.4 407.9 L514.9 407.92 L515.4 407.94 L515.9 407.96 L516.4 407.98 L516.9 407.99 L517.4 408.01 L517.9 408.03 L518.4 408.05 L518.9 408.06 L519.4 408.08 L519.9 408.1 L520.4 408.12 L520.9 408.13 L521.4 408.15 L521.9 408.17 L522.4 408.18 L522.9 408.2 L523.4 408.22 L523.9 408.23 L524.4 408.25 L524.9 408.27 L525.4 408.28 L525.9 408.3 L526.4 408.32 L526.9 408.33 L527.4 408.35 L527.9 408.37 L528.4 408.38 L528.9 408.4 L529.4 408.42 L529.9 408.43 L530.4 408.45 L530.9 408.47 L531.4 408.49 L531.9 408.5 L532.4 408.52 L532.9 408.54 L533.4 408.55 L533.9 408.57 L534.4 408.59 L534.9 408.61 L535.4 408.62 L535.9 408.64 L536.4 408.66 L536.9 408.68 L537.4 408.69 L537.9 408.71 L538.4 408.73 L538.9 408.75 L539.4 408.76 L539.9 408.78 L540.4 408.8 L540.9 408.82 L541.4 408.84 L541.9 408.86 L542.4 408.88 L542.9 408.9 L543.4 408.91 L543.9 408.93 L544.4 408.95 L544.9 408.97 L545.4 408.99 L545.9 409.01 L546.4 409.03 L546.9 409.05 L547.4 409.08 L547.9 409.1 L548.4 409.12 L548.9 409.14 L549.4 409.16 L549.9 409.18 L550.4 409.2 L550.9 409.23 L551.4 409.25 L551.9 409.28 L552.4 409.31 L552.9 409.34 L553.4 409.37 L553.9 409.4 L554.4 409.43 L554.9 409.46 L555.4 409.5 L555.9 409.53 L556.4 409.57 L556.9 409.6 L557.4 409.64 L557.9 409.67 L558.4 409.71 L558.9 409.74 L559.4 409.78 L559.9 409.81 L560.4 409.85 L560.9 409.88 L561.4 409.92 L561.9 409.95 L562.4 409.98 L562.9 410.02 L563.4 410.05 L563.9 410.07 L564.4 410.1 L564.9 410.13 L565.4 410.15 L565.9 410.18 L566.4 410.2 L566.9 410.22 L567.4 410.24 L567.9 410.25 L568.4 410.27 L568.9 410.28 L569.4 410.29 L569.9 410.29 L570.4 410.3 L570.9 410.3 L571.4 410.04 L571.9 409.36 L572.4 408.42 L572.9 407.38 L573.4 406.38 L573.5 406.2 L573.5 406.2 L574 406.87 L574.5 407.62 L575 408.32 L575.5 408.88 L576 409.18 L576.5 409.25 L577 409.32 L577.5 409.38 L578 409.44 L578.5 409.5 L579 409.56 L579.5 409.62 L580 409.67 L580.5 409.73 L581 409.78 L581.5 409.83 L582 409.88 L582.5 409.93 L583 409.98 L583.5 410.02 L584 410.07 L584.5 410.11 L585 410.15 L585.5 410.19 L586 410.23 L586.5 410.27 L587 410.31 L587.5 410.34 L588 410.38 L588.5 410.41 L589 410.45 L589.5 410.48 L590 410.51 L590.5 410.54 L591 410.57 L591.5 410.6 L592 410.62 L592.5 410.65 L593 410.68 L593.5 410.7 L594 410.72 L594.5 410.75 L595 410.77 L595.5 410.79 L596 410.81 L596.5 410.83 L597 410.85 L597.5 410.87 L598 410.89 L598.5 410.91 L599 410.93 L599.5 410.94 L600 410.96 L600.5 410.98 L601 410.99 L601.5 411.01 L602 411.02 L602.5 411.03 L603 411.05 L603.5 411.06 L604 411.08 L604.5 411.09 L605 411.1 L605.5 411.11 L606 411.13 L606.5 411.14 L607 411.15 L607.5 411.16 L608 411.17 L608.5 411.18 L609 411.2 L609.5 411.21 L610 411.22 L610.5 411.23 L611 411.24 L611.5 411.25 L612 411.26 L612.5 411.28 L613 411.29 L613.5 411.3 L614 411.31 L614.5 411.32 L615 411.34 L615.5 411.35 L616 411.36 L616.5 411.37 L617 411.39 L617.5 411.4 L618 411.42 L618.5 411.43 L619 411.45 L619.5 411.46 L620 411.48 L620.5 411.49 L621 411.51 L621.5 411.53 L622 411.55 L622.5 411.57 L623 411.58 L623.5 411.6 L624 411.63 L624.5 411.65 L625 411.67 L625.5 411.69 L626 411.71 L626.5 411.74 L627 411.76 L627.5 411.79 L628 411.82 L628.5 411.84 L629 411.87 L629.5 411.9 L630 411.93 L630.5 411.96 L631 411.99 L631.5 412.02 L632 412.05 L632.5 412.08 L633 412.11 L633.5 412.15 L634 412.18 L634.5 412.21 L635 412.25 L635.5 412.28 L636 412.32 L636.5 412.35 L637 412.39 L637.5 412.42 L638 412.46 L638.5 412.49 L639 412.53 L639.5 412.57 L640 412.6 L640.5 412.64 L641 412.68 L641.5 412.71 L642 412.75 L642.5 412.79 L643 412.83 L643.5 412.86 L644 412.9 L644.5 412.94 L645 412.98 L645.5 413.01 L646 413.05 L646.5 413.09 L647 413.12 L647.5 413.16 L648 413.2 L648.5 413.24 L649 413.27 L649.5 413.31 L650 413.34 L650.5 413.38 L651 413.42 L651.5 413.45 L652 413.49 L652.5 413.52 L653 413.55 L653.5 413.59 L654 413.62 L654.5 413.65 L655 413.69 L655.5 413.72 L656 413.75 L656.5 413.78 L657 413.81 L657.5 413.84 L658 413.87 L658.5 413.9 L659 413.93 L659.5 413.96 L660 413.98 L660.5 414.01 L661 414.04 L661.5 414.06 L662 414.09 L662.5 414.11 L663 414.13 L663.5 414.15 L664 414.18 L664.5 414.2 L665 414.22 L665.5 414.23 L666 414.25 L666.5 414.27 L667 414.28 L667.5 414.3 L668 414.31 L668.5 414.33 L669 414.34 L669.5 414.35 L670 414.36 L670.5 414.37 L671 414.38 L671.5 414.38 L672 414.39 L672.5 414.39 L673 414.4 L673.5 414.4 L674 414.4 L674.5 414.36 L675 414.21 L675.5 413.98 L676 413.73 L676.5 413.49 L676.7 413.4 L676.7 413.4 L677.2 413.62 L677.7 413.86 L678.2 414.09 L678.7 414.28 L679.2 414.39 L679.7 414.43 L680.2 414.47 L680.7 414.51 L681.2 414.54 L681.7 414.58 L682.2 414.62 L682.7 414.66 L683.2 414.69 L683.7 414.73 L684.2 414.76 L684.7 414.8 L685.2 414.83 L685.7 414.87 L686.2 414.9 L686.7 414.93 L687.2 414.97 L687.7 415 L688.2 415.03 L688.7 415.07 L689.2 415.1 L689.7 415.13 L690.2 415.16 L690.7 415.19 L691.2 415.22 L691.7 415.25 L692.2 415.28 L692.7 415.31 L693.2 415.34 L693.7 415.37 L694.2 415.4 L694.7 415.43 L695.2 415.45 L695.7 415.48 L696.2 415.51 L696.7 415.54 L697.2 415.56 L697.7 415.59 L698.2 415.62 L698.7 415.64 L699.2 415.67 L699.7 415.69 L700.2 415.72 L700.7 415.74 L701.2 415.77 L701.7 415.79 L702.2 415.81 L702.7 415.84 L703.2 415.86 L703.7 415.88 L704.2 415.9 L704.7 415.93 L705.2 415.95 L705.7 415.97 L706.2 415.99 L706.7 416.01 L707.2 416.03 L707.7 416.05 L708.2 416.07 L708.7 416.09 L709.2 416.11 L709.7 416.13 L710.2 416.15 L710.7 416.17 L711.2 416.19 L711.7 416.21 L712.2 416.23 L712.7 416.24 L713.2 416.26 L713.7 416.28 L714.2 416.3 L714.7 416.31 L715.2 416.33 L715.7 416.35 L716.2 416.36 L716.7 416.38 L717.2 416.39 L717.7 416.41 L718.2 416.42 L718.7 416.44 L719.2 416.45 L719.7 416.47 L720.2 416.48 L720.7 416.5 L721.2 416.51 L721.7 416.52 L722.2 416.54 L722.7 416.55 L723.2 416.56 L723.7 416.57 L724.2 416.59 L724.7 416.6 L725.2 416.61 L725.7 416.62 L726.2 416.63 L726.7 416.64 L727.2 416.66 L727.7 416.67 L728.2 416.68 L728.7 416.69 L729.2 416.7 L729.7 416.71 L730.2 416.72 L730.7 416.73 L731.2 416.74 L731.7 416.75 L732.2 416.75 L732.7 416.76 L733.2 416.77 L733.7 416.78 L734.2 416.79 L734.7 416.8 L735.2 416.8 L735.7 416.81 L736.2 416.82 L736.7 416.83 L737.2 416.83 L737.7 416.84 L738.2 416.85 L738.7 416.85 L739.2 416.86 L739.7 416.87 L740.2 416.87 L740.7 416.88 L741.2 416.88 L741.7 416.89 L742.2 416.9 L742.7 416.9 L743.2 416.91 L743.7 416.91 L744.2 416.92 L744.7 416.92 L745.2 416.92 L745.7 416.93 L746.2 416.93 L746.7 416.94 L747.2 416.94 L747.7 416.94 L748.2 416.95 L748.7 416.95 L749.2 416.96 L749.7 416.96 L750.2 416.96 L750.7 416.96 L751.2 416.97 L751.7 416.97 L752.2 416.97 L752.7 416.97 L753.2 416.98 L753.7 416.98 L754.2 416.98 L754.7 416.98 L755.2 416.99 L755.7 416.99 L756.2 416.99 L756.7 416.99 L757.2 416.99 L757.7 416.99 L758.2 416.99 L758.7 416.99 L759.2 417 L759.7 417 L760.2 417 L760.7 417 L761.2 417 L761.7 417 L762.2 417 L762.7 417 L763.2 417 L763.7 417 L764 417" fill="none" stroke="#000" stroke-width="1.6" stroke-linejoin="round"/>
<rect x="69" y="279.8" width="695" height="142.6" fill="none" stroke="#000" stroke-width="1.4"/>
<rect x="371" y="289.7" width="383" height="34.4" fill="#fff" stroke="#000" stroke-width="1.3"/>
<line x1="390.5" y1="305.8" x2="413.5" y2="305.8" stroke="#000" stroke-width="1.35"/>
<text x="434.2" y="312.6" font-family="'DejaVu Sans','Liberation Sans',sans-serif" font-size="19.95" text-anchor="start" fill="#000">t=[885.559:998.039],50 cycles</text>
<text x="60" y="284.7" font-family="'DejaVu Sans','Liberation Sans',sans-serif" font-size="16.67" text-anchor="end" fill="#000">10<tspan font-size="11.67" dy="-6.6">0</tspan></text>
<text x="60" y="308.47" font-family="'DejaVu Sans','Liberation Sans',sans-serif" font-size="16.67" text-anchor="end" fill="#000">10<tspan font-size="11.67" dy="-6.6">-1</tspan></text>
<text x="60" y="332.23" font-family="'DejaVu Sans','Liberation Sans',sans-serif" font-size="16.67" text-anchor="end" fill="#000">10<tspan font-size="11.67" dy="-6.6">-2</tspan></text>
<text x="60" y="356" font-family="'DejaVu Sans','Liberation Sans',sans-serif" font-size="16.67" text-anchor="end" fill="#000">10<tspan font-size="11.67" dy="-6.6">-3</tspan></text>
<text x="60" y="379.77" font-family="'DejaVu Sans','Liberation Sans',sans-serif" font-size="16.67" text-anchor="end" fill="#000">10<tspan font-size="11.67" dy="-6.6">-4</tspan></text>
<text x="60" y="403.53" font-family="'DejaVu Sans','Liberation Sans',sans-serif" font-size="16.67" text-anchor="end" fill="#000">10<tspan font-size="11.67" dy="-6.6">-5</tspan></text>
<text x="60" y="427.3" font-family="'DejaVu Sans','Liberation Sans',sans-serif" font-size="16.67" text-anchor="end" fill="#000">10<tspan font-size="11.67" dy="-6.6">-6</tspan></text>
<text x="69" y="441.6" font-family="'DejaVu Sans','Liberation Sans',sans-serif" font-size="16.67" text-anchor="middle" fill="#000">0.0</text>
<text x="184.83" y="441.6" font-family="'DejaVu Sans','Liberation Sans',sans-serif" font-size="16.67" text-anchor="middle" fill="#000">0.5</text>
<text x="300.67" y="441.6" font-family="'DejaVu Sans','Liberation Sans',sans-serif" font-size="16.67" text-anchor="middle" fill="#000">1.0</text>
<text x="416.5" y="441.6" font-family="'DejaVu Sans','Liberation Sans',sans-serif" font-size="16.67" text-anchor="middle" fill="#000">1.5</text>
<text x="532.33" y="441.6" font-family="'DejaVu Sans','Liberation Sans',sans-serif" font-size="16.67" text-anchor="middle" fill="#000">2.0</text>
<text x="648.17" y="441.6" font-family="'DejaVu Sans','Liberation Sans',sans-serif" font-size="16.67" text-anchor="middle" fill="#000">2.5</text>
<text x="764" y="441.6" font-family="'DejaVu Sans','Liberation Sans',sans-serif" font-size="16.67" text-anchor="middle" fill="#000">3.0</text>
<text x="416.5" y="272.2" font-family="'DejaVu Sans','Liberation Sans',sans-serif" font-size="20" text-anchor="middle" fill="#000">Vorticity spectrum at (0.95,0.95), Re=8900</text>
<text x="416.5" y="464.5" font-family="'DejaVu Sans','Liberation Sans',sans-serif" font-size="16.67" text-anchor="middle" fill="#000">Frequency</text>
<text transform="translate(17 348.6) rotate(-90)" font-family="'DejaVu Sans','Liberation Sans',sans-serif" font-size="16.67" text-anchor="middle" fill="#000">Amplitude (logscale)</text>
</g>
<rect x="1.5" y="542.5" width="384" height="361" fill="#fff"/>
<line x1="1" y1="542.5" x2="386" y2="542.5" stroke="#4a4a4a" stroke-width="1"/>
<line x1="1" y1="903.5" x2="386" y2="903.5" stroke="#4a4a4a" stroke-width="1"/>
<line x1="1.5" y1="542.5" x2="1.5" y2="903.5" stroke="#4a4a4a" stroke-width="1"/>
<line x1="385.5" y1="542.5" x2="385.5" y2="903.5" stroke="#8c8c8c" stroke-width="1"/>
<rect x="396.5" y="542.5" width="384" height="361" fill="#fff"/>
<line x1="396" y1="542.5" x2="781" y2="542.5" stroke="#4a4a4a" stroke-width="1"/>
<line x1="396" y1="903.5" x2="781" y2="903.5" stroke="#4a4a4a" stroke-width="1"/>
<line x1="396.5" y1="542.5" x2="396.5" y2="903.5" stroke="#4a4a4a" stroke-width="1"/>
<line x1="780.5" y1="542.5" x2="780.5" y2="903.5" stroke="#8c8c8c" stroke-width="1"/>
<rect x="1.5" y="915.5" width="384" height="364" fill="#fff"/>
<line x1="1" y1="915.5" x2="386" y2="915.5" stroke="#8c8c8c" stroke-width="1"/>
<line x1="1" y1="1279.5" x2="386" y2="1279.5" stroke="#4a4a4a" stroke-width="1"/>
<line x1="1.5" y1="915.5" x2="1.5" y2="1279.5" stroke="#4a4a4a" stroke-width="1"/>
<line x1="385.5" y1="915.5" x2="385.5" y2="1279.5" stroke="#8c8c8c" stroke-width="1"/>
<rect x="396.5" y="915.5" width="384" height="364" fill="#fff"/>
<line x1="396" y1="915.5" x2="781" y2="915.5" stroke="#8c8c8c" stroke-width="1"/>
<line x1="396" y1="1279.5" x2="781" y2="1279.5" stroke="#4a4a4a" stroke-width="1"/>
<line x1="396.5" y1="915.5" x2="396.5" y2="1279.5" stroke="#4a4a4a" stroke-width="1"/>
<line x1="780.5" y1="915.5" x2="780.5" y2="1279.5" stroke="#8c8c8c" stroke-width="1"/>
<g id="p1">
<path d="M55.6 721.47 L56.82 712.3 L57.84 720.45 L59.27 730.64 L60.29 720.45 L62.33 722.49 L64.36 718.41 L66.4 723.51 L67.83 724.53 L69.46 720.45 L72.52 722.49 L75.57 719.43 L78.63 722.49 L81.69 720.45 L84.14 718.41 L86.79 724.53 L88.82 725.55 L90.25 714.34 L91.47 720.45 L92.9 703.13" fill="none" stroke="#cc0000" stroke-width="1.6" stroke-linejoin="round"/>
<path d="M92.9 703.13 L93.1 703.92 L93.31 706.24 L93.51 709.85 L93.72 714.39 L93.92 719.43 L94.12 724.47 L94.33 729.02 L94.53 732.63 L94.74 734.94 L94.94 735.74 L95.14 735.56 L95.35 735.02 L95.55 734.13 L95.75 732.92 L95.96 731.41 L96.16 729.65 L96.37 727.67 L96.57 725.53 L96.77 723.27 L96.98 720.96 L97.18 718.65 L97.38 716.4 L97.59 714.25 L97.79 712.28 L98 710.51 L98.2 709.01 L98.4 707.79 L98.61 706.91 L98.81 706.37 L99.02 706.18 L99.22 706.38 L99.42 706.95 L99.63 707.89 L99.83 709.18 L100.03 710.79 L100.24 712.69 L100.44 714.85 L100.65 717.21 L100.85 719.73 L101.05 722.36 L101.26 725.04 L101.46 727.72 L101.67 730.35 L101.87 732.87 L102.07 735.23 L102.28 737.39 L102.48 739.29 L102.68 740.9 L102.89 742.19 L103.09 743.13 L103.3 743.7 L103.5 743.89 L103.7 743.48 L103.91 742.23 L104.11 740.21 L104.32 737.46 L104.52 734.06 L104.72 730.13 L104.93 725.79 L105.13 721.15 L105.33 716.38 L105.54 711.6 L105.74 706.96 L105.95 702.62 L106.15 698.69 L106.35 695.3 L106.56 692.55 L106.76 690.52 L106.96 689.28 L107.17 688.86 L107.55 688.56 L107.75 688.56 L107.95 689.89 L108.15 692.53 L108.35 696.43 L108.55 701.47 L108.75 707.49 L108.95 714.27 L109.15 721.57 L109.35 729.1 L109.55 736.56 L109.75 743.66 L109.95 750.08 L110.15 755.54 L110.35 759.8 L110.55 762.63 L110.75 763.91 L110.95 763.52 L111.15 761.42 L111.35 757.63 L111.55 752.27 L111.75 745.49 L111.95 737.54 L112.15 728.71 L112.35 719.31 L112.55 709.72 L112.75 700.32 L112.95 691.5 L113.15 683.61 L113.35 677.01 L113.55 672 L113.75 668.81 L113.95 667.62 L114.15 668.54 L114.35 671.56 L114.55 676.63 L114.75 683.59 L114.95 692.21 L115.15 702.2 L115.35 713.19 L115.55 724.75 L115.75 736.44 L115.95 747.79 L116.15 758.35 L116.35 767.66 L116.55 775.34 L116.75 781.04 L116.95 784.48 L117.15 785.48 L117.35 783.95 L117.55 779.8 L117.75 773.23 L117.95 764.49 L118.15 753.89 L118.35 741.82 L118.55 728.72 L118.75 715.12 L118.95 701.52 L119.15 688.48 L119.35 676.52 L119.55 666.12 L119.75 657.74 L119.95 651.72 L120.15 648.34 L120.35 647.78 L120.55 650.11 L120.75 655.27 L120.95 663.13 L121.15 673.38 L121.35 685.66 L121.55 699.51 L121.75 714.4 L121.95 729.76 L122.15 744.99 L122.35 759.49 L122.55 772.67 L122.75 783.99 L122.95 792.99 L123.15 799.28 L123.35 802.57 L123.55 802.7 L123.75 799.62 L123.95 793.4 L124.15 784.26 L124.35 772.52 L124.55 758.6 L124.75 743.02 L124.95 726.4 L125.15 709.4 L125.35 692.66 L125.55 676.86 L125.75 662.63 L125.95 650.54 L126.15 641.09 L126.35 634.69 L126.55 631.61 L126.75 632.02 L126.95 635.93 L127.15 643.23 L127.35 653.67 L127.55 666.86 L127.75 682.35 L127.95 699.5 L128.15 717.64 L128.35 736.07 L128.55 754.06 L128.75 770.91 L128.95 785.94 L129.15 798.55 L129.35 808.22 L129.55 814.56 L129.75 817.28 L129.95 816.24 L130.15 811.47 L130.35 803.12 L130.55 791.48 L130.75 776.92 L130.95 760.08 L131.15 741.64 L131.35 722.32 L131.55 702.86 L131.75 684.04 L131.95 666.58 L132.15 651.18 L132.35 638.45 L132.55 628.89 L132.75 622.91 L132.95 620.74 L133.15 622.49 L133.35 628.1 L133.55 637.38 L133.75 649.97 L133.95 665.4 L134.15 683.07 L134.35 702.31 L134.55 722.36 L134.75 742.45 L134.95 761.8 L135.15 779.63 L135.35 795.24 L135.55 808.03 L135.75 817.46 L135.95 823.17 L136.15 824.9 L136.35 822.59 L136.55 816.29 L136.75 806.24 L136.95 792.82 L137.15 776.52 L137.35 757.97 L137.55 737.93 L137.75 717.2 L137.95 696.56 L138.15 676.84 L138.35 658.81 L138.55 643.16 L138.75 630.53 L138.95 621.41 L139.15 616.16 L139.35 615.01 L139.55 617.99 L139.75 625.02 L139.95 635.81 L140.15 649.96 L140.35 666.93 L140.55 686.05 L140.75 706.58 L140.95 727.72 L141.15 748.66 L141.35 768.56 L141.55 786.65 L141.75 802.22 L141.95 814.66 L142.15 823.46 L142.35 828.29 L142.55 828.93 L142.75 825.37 L142.95 817.72 L143.15 806.28 L143.35 791.48 L143.55 773.9 L143.75 754.22 L143.95 733.2 L144.15 711.67 L144.35 690.49 L144.55 670.48 L144.75 652.42 L144.95 637.03 L145.15 624.9 L145.35 616.52 L145.55 612.21 L145.75 612.15 L145.95 616.35 L146.15 624.64 L146.35 636.71 L146.55 652.08 L146.75 670.17 L146.95 690.27 L147.15 711.59 L147.35 733.32 L147.55 754.61 L147.75 774.62 L147.95 792.58 L148.15 807.77 L148.35 819.6 L148.55 827.6 L148.75 831.45 L148.95 831 L149.15 826.25 L149.35 817.39 L149.55 804.75 L149.75 788.83 L149.95 770.23 L150.15 749.67 L150.35 727.98 L150.55 706.01 L150.75 684.61 L150.95 664.64 L151.15 646.85 L151.35 631.96 L151.55 620.54 L151.75 613.05 L151.95 609.76 L152.15 610.83 L152.35 616.2 L152.55 625.66 L152.75 638.86 L152.95 655.28 L153.15 674.27 L153.35 695.1 L153.55 716.96 L153.75 738.99 L153.95 760.35 L154.15 780.18 L154.35 797.73 L154.55 812.29 L154.75 823.3 L154.95 830.33 L155.15 833.1 L155.35 831.5 L155.55 825.59 L155.75 815.59 L155.95 801.89 L156.15 785.02 L156.35 765.65 L156.55 744.53 L156.75 722.49 L156.95 700.38 L157.15 679.08 L157.35 659.41 L157.55 642.14 L157.75 627.95 L157.95 617.39 L158.15 610.87 L158.35 608.66 L158.55 610.84 L158.75 617.32 L158.95 627.85 L159.15 642.04 L159.35 659.31 L159.55 679 L159.75 700.34 L159.95 722.49 L160.15 744.59 L160.35 765.78 L160.55 785.23 L160.75 802.18 L160.95 815.96 L161.15 826.05 L161.35 832.04 L161.55 833.7 L161.75 830.96 L161.95 823.93 L162.15 812.89 L162.35 798.27 L162.55 780.63 L162.75 760.66 L162.95 739.14 L163.15 716.92 L163.35 694.85 L163.55 673.81 L163.75 654.61 L163.95 638 L164.15 624.63 L164.35 615.03 L164.55 609.56 L164.75 608.45 L164.95 611.74 L165.15 619.3 L165.35 630.83 L165.55 645.89 L165.75 663.89 L165.95 684.12 L166.15 705.8 L166.35 728.07 L166.55 750.07 L166.75 770.95 L166.95 789.87 L167.15 806.12 L167.35 819.04 L167.55 828.14 L167.75 833.07 L167.95 833.62 L168.15 829.78 L168.35 821.7 L168.55 809.69 L168.75 794.22 L168.95 775.9 L169.15 755.44 L169.35 733.64 L169.55 711.34 L169.75 689.43 L169.95 668.75 L170.15 650.12 L170.35 634.25 L170.55 621.78 L170.75 613.18 L170.95 608.79 L171.15 608.79 L171.35 613.17 L171.55 621.77 L171.75 634.24 L171.95 650.1 L172.15 668.74 L172.35 689.42 L172.55 711.34 L172.75 733.64 L172.95 755.45 L173.15 775.92 L173.35 794.25 L173.55 809.73 L173.75 821.75 L173.95 829.84 L174.15 833.68 L174.35 833.13 L174.55 828.21 L174.75 819.1 L174.95 806.17 L175.15 789.92 L175.35 770.98 L175.55 750.1 L175.75 728.08 L175.95 705.79 L176.15 684.09 L176.35 663.85 L176.55 645.83 L176.75 630.76 L176.95 619.21 L177.15 611.64 L177.35 608.34 L177.55 609.44 L177.75 614.9 L177.95 624.51 L178.15 637.89 L178.35 654.51 L178.55 673.74 L178.75 694.81 L178.95 716.91 L179.15 739.18 L179.35 760.73 L179.55 780.74 L179.75 798.43 L179.95 813.09 L180.15 824.16 L180.35 831.21 L180.55 833.97 L180.75 832.31 L180.95 826.32 L181.15 816.21 L181.35 802.4 L181.55 785.41 L181.75 765.91 L181.95 744.66 L182.15 722.5 L182.35 700.27 L182.55 678.86 L182.75 659.1 L182.95 641.76 L183.15 627.52 L183.35 616.93 L183.55 610.4 L183.75 608.2 L183.95 610.4 L184.15 616.93 L184.35 627.52 L184.55 641.76 L184.75 659.1 L184.95 678.86 L185.15 700.27 L185.35 722.5 L185.55 744.66 L185.75 765.91 L185.95 785.41 L186.15 802.4 L186.35 816.21 L186.55 826.32 L186.75 832.31 L186.95 833.97 L187.15 831.21 L187.35 824.16 L187.55 813.09 L187.75 798.43 L187.95 780.74 L188.15 760.73 L188.35 739.18 L188.55 716.91 L188.75 694.81 L188.95 673.74 L189.15 654.51 L189.35 637.89 L189.55 624.51 L189.75 614.9 L189.95 609.44 L190.15 608.34 L190.35 611.64 L190.55 619.21 L190.75 630.76 L190.95 645.83 L191.15 663.85 L191.35 684.09 L191.55 705.79 L191.75 728.08 L191.95 750.1 L192.15 770.98 L192.35 789.92 L192.55 806.17 L192.75 819.11 L192.95 828.21 L193.15 833.14 L193.35 833.69 L193.55 829.85 L193.75 821.76 L193.95 809.74 L194.15 794.26 L194.35 775.93 L194.55 755.46 L194.75 733.64 L194.95 711.34 L195.15 689.41 L195.35 668.73 L195.55 650.09 L195.75 634.22 L195.95 621.74 L196.15 613.14 L196.35 608.75 L196.55 608.75 L196.75 613.14 L196.95 621.74 L197.15 634.22 L197.35 650.09 L197.55 668.73 L197.75 689.41 L197.95 711.34 L198.15 733.64 L198.35 755.46 L198.55 775.93 L198.75 794.26 L198.95 809.74 L199.15 821.76 L199.35 829.85 L199.55 833.69 L199.75 833.14 L199.95 828.21 L200.15 819.11 L200.35 806.17 L200.55 789.92 L200.75 770.98 L200.95 750.1 L201.15 728.08 L201.35 705.79 L201.55 684.09 L201.75 663.85 L201.95 645.83 L202.15 630.76 L202.35 619.21 L202.55 611.64 L202.75 608.34 L202.95 609.44 L203.15 614.9 L203.35 624.51 L203.55 637.89 L203.75 654.51 L203.95 673.74 L204.15 694.81 L204.35 716.91 L204.55 739.18 L204.75 760.73 L204.95 780.74 L205.15 798.43 L205.35 813.09 L205.55 824.16 L205.75 831.21 L205.95 833.97 L206.15 832.31 L206.35 826.32 L206.55 816.21 L206.75 802.4 L206.95 785.41 L207.15 765.91 L207.35 744.66 L207.55 722.5 L207.75 700.27 L207.95 678.86 L208.15 659.1 L208.35 641.76 L208.55 627.52 L208.75 616.93 L208.95 610.4 L209.15 608.2 L209.35 610.4 L209.55 616.93 L209.75 627.52 L209.95 641.76 L210.15 659.1 L210.35 678.86 L210.55 700.27 L210.75 722.5 L210.95 744.66 L211.15 765.91 L211.35 785.41 L211.55 802.4 L211.75 816.21 L211.95 826.32 L212.15 832.31 L212.35 833.97 L212.55 831.21 L212.75 824.16 L212.95 813.09 L213.15 798.43 L213.35 780.74 L213.55 760.73 L213.75 739.18 L213.95 716.91 L214.15 694.81 L214.35 673.74 L214.55 654.51 L214.75 637.89 L214.95 624.51 L215.15 614.9 L215.35 609.44 L215.55 608.34 L215.75 611.64 L215.95 619.21 L216.15 630.76 L216.35 645.83 L216.55 663.85 L216.75 684.09 L216.95 705.79 L217.15 728.08 L217.35 750.1 L217.55 770.98 L217.75 789.92 L217.95 806.17 L218.15 819.11 L218.35 828.21 L218.55 833.14 L218.75 833.69 L218.95 829.85 L219.15 821.76 L219.35 809.74 L219.55 794.26 L219.75 775.93 L219.95 755.46 L220.15 733.64 L220.35 711.34 L220.55 689.41 L220.75 668.73 L220.95 650.09 L221.15 634.22 L221.35 621.74 L221.55 613.14 L221.75 608.75 L221.95 608.75 L222.15 613.14 L222.35 621.74 L222.55 634.22 L222.75 650.09 L222.95 668.73 L223.15 689.41 L223.35 711.34 L223.55 733.64 L223.75 755.46 L223.95 775.93 L224.15 794.26 L224.35 809.74 L224.55 821.76 L224.75 829.85 L224.95 833.69 L225.15 833.14 L225.35 828.21 L225.55 819.11 L225.75 806.17 L225.95 789.92 L226.15 770.98 L226.35 750.1 L226.55 728.08 L226.75 705.79 L226.95 684.09 L227.15 663.85 L227.35 645.83 L227.55 630.76 L227.75 619.21 L227.95 611.64 L228.15 608.34 L228.35 609.44 L228.55 614.9 L228.75 624.51 L228.95 637.89 L229.15 654.51 L229.35 673.74 L229.55 694.81 L229.75 716.91 L229.95 739.18 L230.15 760.73 L230.35 780.74 L230.55 798.43 L230.75 813.09 L230.95 824.16 L231.15 831.21 L231.35 833.97 L231.55 832.31 L231.75 826.32 L231.95 816.21 L232.15 802.4 L232.35 785.41 L232.55 765.91 L232.75 744.66 L232.95 722.5 L233.15 700.27 L233.35 678.86 L233.55 659.1 L233.75 641.76 L233.95 627.52 L234.15 616.93 L234.35 610.4 L234.55 608.2 L234.75 610.4 L234.95 616.93 L235.15 627.52 L235.35 641.76 L235.55 659.1 L235.75 678.86 L235.95 700.27 L236.15 722.5 L236.35 744.66 L236.55 765.91 L236.75 785.41 L236.95 802.4 L237.15 816.21 L237.35 826.32 L237.55 832.31 L237.75 833.97 L237.95 831.21 L238.15 824.16 L238.35 813.09 L238.55 798.43 L238.75 780.74 L238.95 760.73 L239.15 739.18 L239.35 716.91 L239.55 694.81 L239.75 673.74 L239.95 654.51 L240.15 637.89 L240.35 624.51 L240.55 614.9 L240.75 609.44 L240.95 608.34 L241.15 611.64 L241.35 619.21 L241.55 630.76 L241.75 645.83 L241.95 663.85 L242.15 684.09 L242.35 705.79 L242.55 728.08 L242.75 750.1 L242.95 770.98 L243.15 789.92 L243.35 806.17 L243.55 819.11 L243.75 828.21 L243.95 833.14 L244.15 833.69 L244.35 829.85 L244.55 821.76 L244.75 809.74 L244.95 794.26 L245.15 775.93 L245.35 755.46 L245.55 733.64 L245.75 711.34 L245.95 689.41 L246.15 668.73 L246.35 650.09 L246.55 634.22 L246.75 621.74 L246.95 613.14 L247.15 608.75 L247.35 608.75 L247.55 613.14 L247.75 621.74 L247.95 634.22 L248.15 650.09 L248.35 668.73 L248.55 689.41 L248.75 711.34 L248.95 733.64 L249.15 755.46 L249.35 775.93 L249.55 794.26 L249.75 809.74 L249.95 821.76 L250.15 829.85 L250.35 833.69 L250.55 833.14 L250.75 828.21 L250.95 819.11 L251.15 806.17 L251.35 789.92 L251.55 770.98 L251.75 750.1 L251.95 728.08 L252.15 705.79 L252.35 684.09 L252.55 663.85 L252.75 645.83 L252.95 630.76 L253.15 619.21 L253.35 611.64 L253.55 608.34 L253.75 609.44 L253.95 614.9 L254.15 624.51 L254.35 637.89 L254.55 654.51 L254.75 673.74 L254.95 694.81 L255.15 716.91 L255.35 739.18 L255.55 760.73 L255.75 780.74 L255.95 798.43 L256.15 813.09 L256.35 824.16 L256.55 831.21 L256.75 833.97 L256.95 832.31 L257.15 826.32 L257.35 816.21 L257.55 802.4 L257.75 785.41 L257.95 765.91 L258.15 744.66 L258.35 722.5 L258.55 700.27 L258.75 678.86 L258.95 659.1 L259.15 641.76 L259.35 627.52 L259.55 616.93 L259.75 610.4 L259.95 608.2 L260.15 610.4 L260.35 616.93 L260.55 627.52 L260.75 641.76 L260.95 659.1 L261.15 678.86 L261.35 700.27 L261.55 722.5 L261.75 744.66 L261.95 765.91 L262.15 785.41 L262.35 802.4 L262.55 816.21 L262.75 826.32 L262.95 832.31 L263.15 833.97 L263.35 831.21 L263.55 824.16 L263.75 813.09 L263.95 798.43 L264.15 780.74 L264.35 760.73 L264.55 739.18 L264.75 716.91 L264.95 694.81 L265.15 673.74 L265.35 654.51 L265.55 637.89 L265.75 624.51 L265.95 614.9 L266.15 609.44 L266.35 608.34 L266.55 611.64 L266.75 619.21 L266.95 630.76 L267.15 645.83 L267.35 663.85 L267.55 684.09 L267.75 705.79 L267.95 728.08 L268.15 750.1 L268.35 770.98 L268.55 789.92 L268.75 806.17 L268.95 819.11 L269.15 828.21 L269.35 833.14 L269.55 833.69 L269.75 829.85 L269.95 821.76 L270.15 809.74 L270.35 794.26 L270.55 775.93 L270.75 755.46 L270.95 733.64 L271.15 711.34 L271.35 689.41 L271.55 668.73 L271.75 650.09 L271.95 634.22 L272.15 621.74 L272.35 613.14 L272.55 608.75 L272.75 608.75 L272.95 613.14 L273.15 621.74 L273.35 634.22 L273.55 650.09 L273.75 668.73 L273.95 689.41 L274.15 711.34 L274.35 733.64 L274.55 755.46 L274.75 775.93 L274.95 794.26 L275.15 809.74 L275.35 821.76 L275.55 829.85 L275.75 833.69 L275.95 833.14 L276.15 828.21 L276.35 819.11 L276.55 806.17 L276.75 789.92 L276.95 770.98 L277.15 750.1 L277.35 728.08 L277.55 705.79 L277.75 684.09 L277.95 663.85 L278.15 645.83 L278.35 630.76 L278.55 619.21 L278.75 611.64 L278.95 608.34 L279.15 609.44 L279.35 614.9 L279.55 624.51 L279.75 637.89 L279.95 654.51 L280.15 673.74 L280.35 694.81 L280.55 716.91 L280.75 739.18 L280.95 760.73 L281.15 780.74 L281.35 798.43 L281.55 813.09 L281.75 824.16 L281.95 831.21 L282.15 833.97 L282.35 832.31 L282.55 826.32 L282.75 816.21 L282.95 802.4 L283.15 785.41 L283.35 765.91 L283.55 744.66 L283.75 722.5 L283.95 700.27 L284.15 678.86 L284.35 659.1 L284.55 641.76 L284.75 627.52 L284.95 616.93 L285.15 610.4 L285.35 608.2 L285.55 610.4 L285.75 616.93 L285.95 627.52 L286.15 641.76 L286.35 659.1 L286.55 678.86 L286.75 700.27 L286.95 722.5 L287.15 744.66 L287.35 765.91 L287.55 785.41 L287.75 802.4 L287.95 816.21 L288.15 826.32 L288.35 832.31 L288.55 833.97 L288.75 831.21 L288.95 824.16 L289.15 813.09 L289.35 798.43 L289.55 780.74 L289.75 760.73 L289.95 739.18 L290.15 716.91 L290.35 694.81 L290.55 673.74 L290.75 654.51 L290.95 637.89 L291.15 624.51 L291.35 614.9 L291.55 609.44 L291.75 608.34 L291.95 611.64 L292.15 619.21 L292.35 630.76 L292.55 645.83 L292.75 663.85 L292.95 684.09 L293.15 705.79 L293.35 728.08 L293.55 750.1 L293.75 770.98 L293.95 789.92 L294.15 806.17 L294.35 819.11 L294.55 828.21 L294.75 833.14 L294.95 833.69 L295.15 829.85 L295.35 821.76 L295.55 809.74 L295.75 794.26 L295.95 775.93 L296.15 755.46 L296.35 733.64 L296.55 711.34 L296.75 689.41 L296.95 668.73 L297.15 650.09 L297.35 634.22 L297.55 621.74 L297.75 613.14 L297.95 608.75 L298.15 608.75 L298.35 613.14 L298.55 621.74 L298.75 634.22 L298.95 650.09 L299.15 668.73 L299.35 689.41 L299.55 711.34 L299.75 733.64 L299.95 755.46 L300.15 775.93 L300.35 794.26 L300.55 809.74 L300.75 821.76 L300.95 829.85 L301.15 833.69 L301.35 833.14 L301.55 828.21 L301.75 819.11 L301.95 806.17 L302.15 789.92 L302.35 770.98 L302.55 750.1 L302.75 728.08 L302.95 705.79 L303.15 684.09 L303.35 663.85 L303.55 645.83 L303.75 630.76 L303.95 619.21 L304.15 611.64 L304.35 608.34 L304.55 609.44 L304.75 614.9 L304.95 624.51 L305.15 637.89 L305.35 654.51 L305.55 673.74 L305.75 694.81 L305.95 716.91 L306.15 739.18 L306.35 760.73 L306.55 780.74 L306.75 798.43 L306.95 813.09 L307.15 824.16 L307.35 831.21 L307.55 833.97 L307.75 832.31 L307.95 826.32 L308.15 816.21 L308.35 802.4 L308.55 785.41 L308.75 765.91 L308.95 744.66 L309.15 722.5 L309.35 700.27 L309.55 678.86 L309.75 659.1 L309.95 641.76 L310.15 627.52 L310.35 616.93 L310.55 610.4 L310.75 608.2 L310.95 610.4 L311.15 616.93 L311.35 627.52 L311.55 641.76 L311.75 659.1 L311.95 678.86 L312.15 700.27 L312.35 722.5 L312.55 744.66 L312.75 765.91 L312.95 785.41 L313.15 802.4 L313.35 816.21 L313.55 826.32 L313.75 832.31 L313.95 833.97 L314.15 831.21 L314.35 824.16 L314.55 813.09 L314.75 798.43 L314.95 780.74 L315.15 760.73 L315.35 739.18 L315.55 716.91 L315.75 694.81 L315.95 673.74 L316.15 654.51 L316.35 637.89 L316.55 624.51 L316.75 614.9 L316.95 609.44 L317.15 608.34 L317.35 611.64 L317.55 619.21 L317.75 630.76 L317.95 645.83 L318.15 663.85 L318.35 684.09 L318.55 705.79 L318.75 728.08 L318.95 750.1 L319.15 770.98 L319.35 789.92 L319.55 806.17 L319.75 819.11 L319.95 828.21 L320.15 833.14 L320.35 833.69 L320.55 829.85 L320.75 821.76 L320.95 809.74 L321.15 794.26 L321.35 775.93 L321.55 755.46 L321.75 733.64 L321.95 711.34 L322.15 689.41 L322.35 668.73 L322.55 650.09 L322.75 634.22 L322.95 621.74 L323.15 613.14 L323.35 608.75 L323.55 608.75 L323.75 613.14 L323.95 621.74 L324.15 634.22 L324.35 650.09 L324.55 668.73 L324.75 689.41 L324.95 711.34 L325.15 733.64 L325.35 755.46 L325.55 775.93 L325.75 794.26 L325.95 809.74 L326.15 821.76 L326.35 829.85 L326.55 833.69 L326.75 833.14 L326.95 828.21 L327.15 819.11 L327.35 806.17 L327.55 789.92 L327.75 770.98 L327.95 750.1 L328.15 728.08 L328.35 705.79 L328.55 684.09 L328.75 663.85 L328.95 645.83 L329.15 630.76 L329.35 619.21 L329.55 611.64 L329.75 608.34 L329.95 609.44 L330.15 614.9 L330.35 624.51 L330.55 637.89 L330.75 654.51 L330.95 673.74 L331.15 694.81 L331.35 716.91 L331.55 739.18 L331.75 760.73 L331.95 780.74 L332.15 798.43 L332.35 813.09 L332.55 824.16 L332.75 831.21 L332.95 833.97 L333.15 832.31 L333.35 826.32 L333.55 816.21 L333.75 802.4 L333.95 785.41 L334.15 765.91 L334.35 744.66 L334.55 722.5 L334.75 700.27 L334.95 678.86 L335.15 659.1 L335.35 641.76 L335.55 627.52 L335.75 616.93 L335.95 610.4 L336.15 608.2 L336.35 610.4 L336.55 616.93 L336.75 627.52 L336.95 641.76 L337.15 659.1 L337.35 678.86 L337.55 700.27 L337.75 722.5 L337.95 744.66 L338.15 765.91 L338.35 785.41 L338.55 802.4" fill="none" stroke="#cc0000" stroke-width="2.15" stroke-linejoin="round"/>
<line x1="51.7" y1="585" x2="51.7" y2="864.35" stroke="#000" stroke-width="2.3"/>
<line x1="50.55" y1="863.2" x2="340.3" y2="863.2" stroke="#000" stroke-width="1.9"/>
<line x1="51.7" y1="860.74" x2="56" y2="860.74" stroke="#000" stroke-width="0.95"/>
<line x1="51.7" y1="848" x2="58.8" y2="848" stroke="#000" stroke-width="1.6"/>
<text x="47.4" y="853" font-family="'Liberation Sans','DejaVu Sans',sans-serif" font-size="14.5" text-anchor="end" letter-spacing="0.4" fill="#000">-2</text>
<line x1="51.7" y1="835.26" x2="56" y2="835.26" stroke="#000" stroke-width="0.95"/>
<line x1="51.7" y1="822.52" x2="56" y2="822.52" stroke="#000" stroke-width="0.95"/>
<line x1="51.7" y1="809.78" x2="56" y2="809.78" stroke="#000" stroke-width="0.95"/>
<line x1="51.7" y1="797.04" x2="56" y2="797.04" stroke="#000" stroke-width="0.95"/>
<line x1="51.7" y1="784.3" x2="58.8" y2="784.3" stroke="#000" stroke-width="1.6"/>
<text x="47.4" y="789.3" font-family="'Liberation Sans','DejaVu Sans',sans-serif" font-size="14.5" text-anchor="end" letter-spacing="0.4" fill="#000">-1</text>
<line x1="51.7" y1="771.56" x2="56" y2="771.56" stroke="#000" stroke-width="0.95"/>
<line x1="51.7" y1="758.82" x2="56" y2="758.82" stroke="#000" stroke-width="0.95"/>
<line x1="51.7" y1="746.08" x2="56" y2="746.08" stroke="#000" stroke-width="0.95"/>
<line x1="51.7" y1="733.34" x2="56" y2="733.34" stroke="#000" stroke-width="0.95"/>
<line x1="51.7" y1="720.6" x2="58.8" y2="720.6" stroke="#000" stroke-width="1.6"/>
<text x="47.4" y="725.6" font-family="'Liberation Sans','DejaVu Sans',sans-serif" font-size="14.5" text-anchor="end" letter-spacing="0.4" fill="#000">0</text>
<line x1="51.7" y1="707.86" x2="56" y2="707.86" stroke="#000" stroke-width="0.95"/>
<line x1="51.7" y1="695.12" x2="56" y2="695.12" stroke="#000" stroke-width="0.95"/>
<line x1="51.7" y1="682.38" x2="56" y2="682.38" stroke="#000" stroke-width="0.95"/>
<line x1="51.7" y1="669.64" x2="56" y2="669.64" stroke="#000" stroke-width="0.95"/>
<line x1="51.7" y1="656.9" x2="58.8" y2="656.9" stroke="#000" stroke-width="1.6"/>
<text x="47.4" y="661.9" font-family="'Liberation Sans','DejaVu Sans',sans-serif" font-size="14.5" text-anchor="end" letter-spacing="0.4" fill="#000">1</text>
<line x1="51.7" y1="644.16" x2="56" y2="644.16" stroke="#000" stroke-width="0.95"/>
<line x1="51.7" y1="631.42" x2="56" y2="631.42" stroke="#000" stroke-width="0.95"/>
<line x1="51.7" y1="618.68" x2="56" y2="618.68" stroke="#000" stroke-width="0.95"/>
<line x1="51.7" y1="605.94" x2="56" y2="605.94" stroke="#000" stroke-width="0.95"/>
<line x1="51.7" y1="593.2" x2="58.8" y2="593.2" stroke="#000" stroke-width="1.6"/>
<text x="47.4" y="598.2" font-family="'Liberation Sans','DejaVu Sans',sans-serif" font-size="14.5" text-anchor="end" letter-spacing="0.4" fill="#000">2</text>
<line x1="71.55" y1="863.2" x2="71.55" y2="858.9" stroke="#000" stroke-width="0.95"/>
<line x1="90.69" y1="863.2" x2="90.69" y2="858.9" stroke="#000" stroke-width="0.95"/>
<line x1="109.84" y1="863.2" x2="109.84" y2="858.9" stroke="#000" stroke-width="0.95"/>
<line x1="128.98" y1="863.2" x2="128.98" y2="858.9" stroke="#000" stroke-width="0.95"/>
<line x1="148.13" y1="863.2" x2="148.13" y2="856.1" stroke="#000" stroke-width="1.6"/>
<text x="147.93" y="877.3" font-family="'Liberation Sans','DejaVu Sans',sans-serif" font-size="14.5" text-anchor="middle" letter-spacing="0.4" fill="#000">100</text>
<line x1="167.28" y1="863.2" x2="167.28" y2="858.9" stroke="#000" stroke-width="0.95"/>
<line x1="186.42" y1="863.2" x2="186.42" y2="858.9" stroke="#000" stroke-width="0.95"/>
<line x1="205.57" y1="863.2" x2="205.57" y2="858.9" stroke="#000" stroke-width="0.95"/>
<line x1="224.71" y1="863.2" x2="224.71" y2="858.9" stroke="#000" stroke-width="0.95"/>
<line x1="243.86" y1="863.2" x2="243.86" y2="856.1" stroke="#000" stroke-width="1.6"/>
<text x="243.66" y="877.3" font-family="'Liberation Sans','DejaVu Sans',sans-serif" font-size="14.5" text-anchor="middle" letter-spacing="0.4" fill="#000">200</text>
<line x1="263.01" y1="863.2" x2="263.01" y2="858.9" stroke="#000" stroke-width="0.95"/>
<line x1="282.15" y1="863.2" x2="282.15" y2="858.9" stroke="#000" stroke-width="0.95"/>
<line x1="301.3" y1="863.2" x2="301.3" y2="858.9" stroke="#000" stroke-width="0.95"/>
<line x1="320.44" y1="863.2" x2="320.44" y2="858.9" stroke="#000" stroke-width="0.95"/>
<line x1="339.59" y1="863.2" x2="339.59" y2="856.1" stroke="#000" stroke-width="1.6"/>
<text x="339.39" y="877.3" font-family="'Liberation Sans','DejaVu Sans',sans-serif" font-size="14.5" text-anchor="middle" letter-spacing="0.4" fill="#000">300</text>
<text x="154.7" y="573.5" font-family="'Liberation Sans','DejaVu Sans',sans-serif" font-size="18" text-anchor="start" textLength="185.2" lengthAdjust="spacing" fill="#000">Re = 83 at (0.504,0.0)</text>
<text x="195.5" y="898.3" font-family="'Liberation Sans','DejaVu Sans',sans-serif" font-size="22.5" text-anchor="middle" font-weight="bold" fill="#000">t</text>
<g transform="translate(29 727.4) rotate(-90)">
<text x="0" y="0" transform="scale(0.95 1.2)" font-family="'Liberation Sans','DejaVu Sans',sans-serif" font-size="21" text-anchor="middle" fill="#000">ω</text>
<text x="10.4" y="-0.8" font-family="'Liberation Sans','DejaVu Sans',sans-serif" font-size="27" font-weight="bold" text-anchor="middle" fill="#000">'</text>
</g>
</g>
<g id="p3">
<clipPath id="cp3"><rect x="40" y="957.1" width="320" height="279.1"/></clipPath>
<path clip-path="url(#cp3)" d="M52.63 958.09 L53.32 977.74 L54.25 1007.8 L55.87 1088.72 L57.72 1134.95 L60.03 1169.63 L63.5 1195.06 L66.96 1206.62 L70.43 1215.87 L75.06 1222.81 L79.68 1227.43 L83.15 1228.59 L86.61 1232.52 L90.08 1228.59 L91.7 1233.21 L93.55 1235.29 L95.4 1230.9 L97.71 1220.5 L99.56 1225.12 L101.64 1233.21" fill="none" stroke="#cc0000" stroke-width="1.7" stroke-linejoin="round"/>
<path clip-path="url(#cp3)" d="M101.64 1233.21 L101.85 1232.96 L102.06 1232.21 L102.26 1230.98 L102.47 1229.31 L102.68 1227.24 L102.88 1224.83 L103.09 1222.14 L103.3 1219.26 L103.5 1216.24 L103.71 1213.19 L103.92 1210.18 L104.12 1207.29 L104.33 1204.6 L104.54 1202.19 L104.75 1200.12 L104.95 1198.45 L105.16 1197.22 L105.37 1196.47 L105.57 1196.22 L105.77 1196.47 L105.97 1197.22 L106.17 1198.43 L106.37 1200.04 L106.57 1202 L106.77 1204.21 L106.98 1206.57 L107.18 1208.99 L107.38 1211.35 L107.58 1213.56 L107.78 1215.51 L107.98 1217.13 L108.18 1218.34 L108.38 1219.09 L108.58 1219.34 L108.78 1218.93 L108.99 1217.71 L109.2 1215.72 L109.41 1213 L109.61 1209.64 L109.82 1205.72 L110.03 1201.36 L110.23 1196.66 L110.44 1191.77 L110.65 1186.8 L110.85 1181.91 L111.06 1177.21 L111.27 1172.85 L111.47 1168.93 L111.68 1165.57 L111.89 1162.85 L112.09 1160.86 L112.3 1159.64 L112.51 1159.23 L112.71 1159.55 L112.92 1160.48 L113.12 1162.02 L113.33 1164.1 L113.54 1166.66 L113.74 1169.63 L113.95 1172.92 L114.15 1176.42 L114.36 1180.04 L114.56 1183.65 L114.77 1187.15 L114.97 1190.44 L115.18 1193.41 L115.39 1195.98 L115.59 1198.06 L115.8 1199.59 L116 1200.53 L116.21 1200.84 L116.41 1200.14 L116.61 1198.05 L116.81 1194.67 L117.02 1190.11 L117.22 1184.56 L117.42 1178.22 L117.62 1171.35 L117.83 1164.2 L118.03 1157.05 L118.23 1150.18 L118.43 1143.84 L118.63 1138.29 L118.84 1133.73 L119.04 1130.35 L119.24 1128.26 L119.44 1127.56 L119.65 1128 L119.85 1129.31 L120.06 1131.46 L120.27 1134.37 L120.47 1137.96 L120.68 1142.12 L120.88 1146.72 L121.09 1151.63 L121.29 1156.69 L121.5 1161.74 L121.7 1166.65 L121.91 1171.25 L122.12 1175.41 L122.32 1179 L122.53 1181.91 L122.73 1184.06 L122.94 1185.37 L123.14 1185.82 L123.35 1185.06 L123.55 1182.82 L123.75 1179.19 L123.95 1174.3 L124.15 1168.35 L124.36 1161.55 L124.56 1154.18 L124.76 1146.51 L124.96 1138.85 L125.17 1131.47 L125.37 1124.68 L125.57 1118.72 L125.77 1113.83 L125.98 1110.2 L126.18 1107.97 L126.38 1107.21 L126.58 1107.96 L126.78 1110.16 L126.98 1113.72 L127.18 1118.49 L127.38 1124.26 L127.58 1130.77 L127.78 1137.75 L127.98 1144.88 L128.18 1151.85 L128.38 1158.36 L128.58 1164.13 L128.78 1168.9 L128.98 1172.46 L129.18 1174.67 L129.39 1175.41 L129.59 1174.55 L129.79 1172.01 L129.99 1167.91 L130.19 1162.41 L130.39 1155.76 L130.59 1148.26 L130.79 1140.22 L130.99 1132 L131.19 1123.96 L131.39 1116.46 L131.59 1109.81 L131.79 1104.31 L131.99 1100.21 L132.19 1097.67 L132.39 1096.81 L132.59 1097.52 L132.8 1099.62 L133 1103.04 L133.2 1107.64 L133.4 1113.25 L133.6 1119.64 L133.81 1126.58 L134.01 1133.8 L134.21 1141.01 L134.41 1147.95 L134.62 1154.35 L134.82 1159.95 L135.02 1164.55 L135.22 1167.97 L135.43 1170.08 L135.63 1170.79 L135.83 1169.92 L136.03 1167.36 L136.23 1163.22 L136.43 1157.67 L136.63 1150.96 L136.83 1143.39 L137.03 1135.28 L137.23 1126.99 L137.43 1118.89 L137.63 1111.31 L137.83 1104.61 L138.03 1099.06 L138.23 1094.92 L138.43 1092.36 L138.63 1091.49 L138.84 1092.15 L139.04 1094.09 L139.24 1097.26 L139.45 1101.54 L139.65 1106.79 L139.86 1112.83 L140.06 1119.45 L140.26 1126.43 L140.47 1133.54 L140.67 1140.52 L140.88 1147.14 L141.08 1153.18 L141.28 1158.43 L141.49 1162.71 L141.69 1165.88 L141.9 1167.82 L142.1 1168.48 L142.32 1166.86 L142.54 1162.14 L142.76 1154.71 L142.97 1145.16 L143.19 1134.27 L143.41 1122.91 L143.63 1112.02 L143.85 1102.47 L144.06 1095.03 L144.28 1090.32 L144.5 1088.7 L144.5 1089.2 L144.7 1089.93 L144.9 1092.2 L145.1 1095.93 L145.3 1100.95 L145.5 1107.07 L145.7 1114.05 L145.9 1121.59 L146.1 1129.39 L146.3 1137.14 L146.5 1144.52 L146.7 1151.24 L146.9 1157.02 L147.1 1161.62 L147.3 1164.85 L147.5 1166.6 L147.7 1166.77 L147.9 1165.36 L148.1 1162.43 L148.3 1158.08 L148.5 1152.51 L148.7 1145.92 L148.9 1138.58 L149.1 1130.78 L149.3 1122.84 L149.5 1115.07 L149.7 1107.79 L149.9 1101.29 L150.1 1095.82 L150.3 1091.62 L150.5 1088.84 L150.7 1087.61 L150.9 1087.96 L151.1 1089.89 L151.3 1093.31 L151.5 1098.1 L151.7 1104.06 L151.9 1110.94 L152.1 1118.46 L152.3 1126.34 L152.5 1134.23 L152.7 1141.84 L152.9 1148.84 L153.1 1154.95 L153.3 1159.94 L153.5 1163.59 L153.7 1165.75 L153.9 1166.34 L154.1 1165.32 L154.3 1162.75 L154.5 1158.72 L154.7 1153.39 L154.9 1146.97 L155.1 1139.72 L155.3 1131.93 L155.5 1123.92 L155.7 1116 L155.9 1108.5 L156.1 1101.71 L156.3 1095.91 L156.5 1091.33 L156.7 1088.16 L156.9 1086.52 L157.1 1086.48 L157.3 1088.04 L157.5 1091.14 L157.7 1095.66 L157.9 1101.4 L158.1 1108.16 L158.3 1115.64 L158.5 1123.55 L158.7 1131.56 L158.9 1139.35 L159.1 1146.61 L159.3 1153.04 L159.5 1158.39 L159.7 1162.43 L159.9 1165 L160.1 1166 L160.3 1165.38 L160.5 1163.18 L160.7 1159.47 L160.9 1154.41 L161.1 1148.19 L161.3 1141.08 L161.5 1133.34 L161.7 1125.3 L161.9 1117.28 L162.1 1109.6 L162.3 1102.57 L162.5 1096.47 L162.7 1091.55 L162.9 1088 L163.1 1085.97 L163.3 1085.55 L163.5 1086.73 L163.7 1089.49 L163.9 1093.71 L164.1 1099.21 L164.3 1105.79 L164.5 1113.16 L164.7 1121.03 L164.9 1129.09 L165.1 1137.02 L165.3 1144.5 L165.5 1151.21 L165.7 1156.88 L165.9 1161.3 L166.1 1164.27 L166.3 1165.69 L166.5 1165.48 L166.7 1163.67 L166.9 1160.32 L167.1 1155.57 L167.3 1149.61 L167.5 1142.69 L167.7 1135.07 L167.9 1127.07 L168.1 1119 L168.3 1111.2 L168.5 1103.98 L168.7 1097.63 L168.9 1092.4 L169.1 1088.51 L169.3 1086.11 L169.5 1085.3 L169.7 1086.11 L169.9 1088.51 L170.1 1092.4 L170.3 1097.63 L170.5 1103.98 L170.7 1111.2 L170.9 1119 L171.1 1127.06 L171.3 1135.07 L171.5 1142.68 L171.7 1149.61 L171.9 1155.57 L172.1 1160.32 L172.3 1163.67 L172.5 1165.48 L172.7 1165.68 L172.9 1164.27 L173.1 1161.29 L173.3 1156.88 L173.5 1151.2 L173.7 1144.49 L173.9 1137.02 L174.1 1129.08 L174.3 1121 L174.5 1113.11 L174.7 1105.71 L174.9 1099.11 L175.1 1093.58 L175.3 1089.34 L175.5 1086.56 L175.7 1085.34 L175.9 1085.75 L176.1 1087.76 L176.3 1091.29 L176.5 1096.2 L176.7 1102.29 L176.9 1109.32 L177.1 1117.01 L177.3 1125.04 L177.5 1133.08 L177.7 1140.83 L177.9 1147.96 L178.1 1154.18 L178.3 1159.25 L178.5 1162.97 L178.7 1165.17 L178.9 1165.78 L179.1 1164.77 L179.3 1162.18 L179.5 1158.11 L179.7 1152.72 L179.9 1146.25 L180.1 1138.94 L180.3 1131.09 L180.5 1123.01 L180.7 1115.04 L180.9 1107.49 L181.1 1100.67 L181.3 1094.85 L181.5 1090.27 L181.7 1087.1 L181.9 1085.49 L182.1 1085.49 L182.3 1087.1 L182.5 1090.26 L182.7 1094.85 L182.9 1100.67 L183.1 1107.49 L183.3 1115.04 L183.5 1123.01 L183.7 1131.08 L183.9 1138.94 L184.1 1146.25 L184.3 1152.72 L184.5 1158.1 L184.7 1162.17 L184.9 1164.77 L185.1 1165.78 L185.3 1165.17 L185.5 1162.96 L185.7 1159.25 L185.9 1154.18 L186.1 1147.95 L186.3 1140.82 L186.5 1133.08 L186.7 1125.03 L186.9 1117 L187.1 1109.32 L187.3 1102.29 L187.5 1096.19 L187.7 1091.28 L187.9 1087.75 L188.1 1085.74 L188.3 1085.33 L188.5 1086.54 L188.7 1089.33 L188.9 1093.57 L189.1 1099.1 L189.3 1105.7 L189.5 1113.09 L189.7 1120.99 L189.9 1129.07 L190.1 1137.01 L190.3 1144.48 L190.5 1151.19 L190.7 1156.87 L190.9 1161.29 L191.1 1164.26 L191.3 1165.67 L191.5 1165.47 L191.7 1163.66 L191.9 1160.31 L192.1 1155.56 L192.3 1149.6 L192.5 1142.67 L192.7 1135.05 L192.9 1127.05 L193.1 1118.98 L193.3 1111.18 L193.5 1103.96 L193.7 1097.61 L193.9 1092.38 L194.1 1088.49 L194.3 1086.09 L194.5 1085.27 L194.7 1086.09 L194.9 1088.49 L195.1 1092.38 L195.3 1097.61 L195.5 1103.96 L195.7 1111.18 L195.9 1118.98 L196.1 1127.05 L196.3 1135.05 L196.5 1142.67 L196.7 1149.6 L196.9 1155.56 L197.1 1160.31 L197.3 1163.66 L197.5 1165.47 L197.7 1165.67 L197.9 1164.26 L198.1 1161.28 L198.3 1156.87 L198.5 1151.19 L198.7 1144.48 L198.9 1137 L199.1 1129.06 L199.3 1120.98 L199.5 1113.09 L199.7 1105.69 L199.9 1099.1 L200.1 1093.56 L200.3 1089.32 L200.5 1086.53 L200.7 1085.32 L200.9 1085.73 L201.1 1087.74 L201.3 1091.27 L201.5 1096.18 L201.7 1102.27 L201.9 1109.31 L202.1 1116.99 L202.3 1125.02 L202.5 1133.07 L202.7 1140.82 L202.9 1147.94 L203.1 1154.17 L203.3 1159.24 L203.5 1162.96 L203.7 1165.16 L203.9 1165.77 L204.1 1164.76 L204.3 1162.16 L204.5 1158.09 L204.7 1152.71 L204.9 1146.24 L205.1 1138.92 L205.3 1131.07 L205.5 1123 L205.7 1115.02 L205.9 1107.47 L206.1 1100.65 L206.3 1094.83 L206.5 1090.24 L206.7 1087.08 L206.9 1085.47 L207.1 1085.47 L207.3 1087.08 L207.5 1090.24 L207.7 1094.83 L207.9 1100.65 L208.1 1107.47 L208.3 1115.02 L208.5 1122.99 L208.7 1131.07 L208.9 1138.92 L209.1 1146.23 L209.3 1152.71 L209.5 1158.09 L209.7 1162.16 L209.9 1164.76 L210.1 1165.77 L210.3 1165.16 L210.5 1162.95 L210.7 1159.24 L210.9 1154.17 L211.1 1147.94 L211.3 1140.81 L211.5 1133.06 L211.7 1125.01 L211.9 1116.98 L212.1 1109.3 L212.3 1102.27 L212.5 1096.17 L212.7 1091.26 L212.9 1087.73 L213.1 1085.72 L213.3 1085.31 L213.5 1086.52 L213.7 1089.31 L213.9 1093.55 L214.1 1099.08 L214.3 1105.68 L214.5 1113.08 L214.7 1120.97 L214.9 1129.06 L215.1 1136.99 L215.3 1144.47 L215.5 1151.18 L215.7 1156.86 L215.9 1161.27 L216.1 1164.25 L216.3 1165.66 L216.5 1165.46 L216.7 1163.65 L216.9 1160.3 L217.1 1155.55 L217.3 1149.59 L217.5 1142.66 L217.7 1135.04 L217.9 1127.03 L218.1 1118.97 L218.3 1111.17 L218.5 1103.94 L218.7 1097.59 L218.9 1092.36 L219.1 1088.47 L219.3 1086.06 L219.5 1085.25 L219.7 1086.06 L219.9 1088.46 L220.1 1092.36 L220.3 1097.59 L220.5 1103.94 L220.7 1111.16 L220.9 1118.97 L221.1 1127.03 L221.3 1135.04 L221.5 1142.66 L221.7 1149.59 L221.9 1155.55 L222.1 1160.3 L222.3 1163.65 L222.5 1165.46 L222.7 1165.66 L222.9 1164.25 L223.1 1161.27 L223.3 1156.86 L223.5 1151.18 L223.7 1144.46 L223.9 1136.99 L224.1 1129.05 L224.3 1120.97 L224.5 1113.07 L224.7 1105.67 L224.9 1099.08 L225.1 1093.54 L225.3 1089.3 L225.5 1086.51 L225.7 1085.3 L225.9 1085.71 L226.1 1087.71 L226.3 1091.25 L226.5 1096.16 L226.7 1102.26 L226.9 1109.29 L227.1 1116.97 L227.3 1125 L227.5 1133.05 L227.7 1140.8 L227.9 1147.93 L228.1 1154.16 L228.3 1159.23 L228.5 1162.95 L228.7 1165.15 L228.9 1165.76 L229.1 1164.75 L229.3 1162.15 L229.5 1158.08 L229.7 1152.7 L229.9 1146.22 L230.1 1138.91 L230.3 1131.06 L230.5 1122.98 L230.7 1115.01 L230.9 1107.45 L231.1 1100.63 L231.3 1094.81 L231.5 1090.22 L231.7 1087.06 L231.9 1085.45 L232.1 1085.45 L232.3 1087.06 L232.5 1090.22 L232.7 1094.81 L232.9 1100.63 L233.1 1107.45 L233.3 1115 L233.5 1122.98 L233.7 1131.05 L233.9 1138.91 L234.1 1146.22 L234.3 1152.7 L234.5 1158.08 L234.7 1162.15 L234.9 1164.74 L235.1 1165.76 L235.3 1165.15 L235.5 1162.94 L235.7 1159.23 L235.9 1154.15 L236.1 1147.93 L236.3 1140.8 L236.5 1133.05 L236.7 1125 L236.9 1116.97 L237.1 1109.28 L237.3 1102.25 L237.5 1096.15 L237.7 1091.24 L237.9 1087.7 L238.1 1085.69 L238.3 1085.29 L238.5 1086.5 L238.7 1089.29 L238.9 1093.53 L239.1 1099.06 L239.3 1105.66 L239.5 1113.06 L239.7 1120.96 L239.9 1129.04 L240.1 1136.98 L240.3 1144.46 L240.5 1151.17 L240.7 1156.85 L240.9 1161.26 L241.1 1164.24 L241.3 1165.65 L241.5 1165.45 L241.7 1163.64 L241.9 1160.29 L242.1 1155.54 L242.3 1149.58 L242.5 1142.65 L242.7 1135.02 L242.9 1127.02 L243.1 1118.95 L243.3 1111.15 L243.5 1103.92 L243.7 1097.57 L243.9 1092.34 L244.1 1088.44 L244.3 1086.04 L244.5 1085.23 L244.7 1086.04 L244.9 1088.44 L245.1 1092.34 L245.3 1097.57 L245.5 1103.92 L245.7 1111.15 L245.9 1118.95 L246.1 1127.02 L246.3 1135.02 L246.5 1142.64 L246.7 1149.57 L246.9 1155.53 L247.1 1160.29 L247.3 1163.63 L247.5 1165.45 L247.7 1165.65 L247.9 1164.24 L248.1 1161.26 L248.3 1156.84 L248.5 1151.16 L248.7 1144.45 L248.9 1136.97 L249.1 1129.03 L249.3 1120.95 L249.5 1113.05 L249.7 1105.65 L249.9 1099.06 L250.1 1093.52 L250.3 1089.28 L250.5 1086.49 L250.7 1085.28 L250.9 1085.68 L251.1 1087.69 L251.3 1091.23 L251.5 1096.14 L251.7 1102.24 L251.9 1109.27 L252.1 1116.96 L252.3 1124.99 L252.5 1133.04 L252.7 1140.79 L252.9 1147.92 L253.1 1154.15 L253.3 1159.22 L253.5 1162.93 L253.7 1165.14 L253.9 1165.75 L254.1 1164.74 L254.3 1162.14 L254.5 1158.07 L254.7 1152.69 L254.9 1146.21 L255.1 1138.89 L255.3 1131.04 L255.5 1122.96 L255.7 1114.99 L255.9 1107.44 L256.1 1100.61 L256.3 1094.79 L256.5 1090.2 L256.7 1087.04 L256.9 1085.43 L257.1 1085.42 L257.3 1087.04 L257.5 1090.2 L257.7 1094.79 L257.9 1100.61 L258.1 1107.43 L258.3 1114.99 L258.5 1122.96 L258.7 1131.04 L258.9 1138.89 L259.1 1146.21 L259.3 1152.69 L259.5 1158.07 L259.7 1162.14 L259.9 1164.73 L260.1 1165.75 L260.3 1165.14 L260.5 1162.93 L260.7 1159.22 L260.9 1154.14 L261.1 1147.91 L261.3 1140.78 L261.5 1133.03 L261.7 1124.98 L261.9 1116.95 L262.1 1109.26 L262.3 1102.23 L262.5 1096.13 L262.7 1091.22 L262.9 1087.68 L263.1 1085.67 L263.3 1085.27 L263.5 1086.48 L263.7 1089.27 L263.9 1093.51 L264.1 1099.05 L264.3 1105.64 L264.5 1113.04 L264.7 1120.94 L264.9 1129.02 L265.1 1136.96 L265.3 1144.44 L265.5 1151.16 L265.7 1156.84 L265.9 1161.25 L266.1 1164.23 L266.3 1165.64 L266.5 1165.44 L266.7 1163.63 L266.9 1160.28 L267.1 1155.53 L267.3 1149.56 L267.5 1142.63 L267.7 1135.01 L267.9 1127 L268.1 1118.93 L268.3 1111.13 L268.5 1103.91 L268.7 1097.55 L268.9 1092.32 L269.1 1088.42 L269.3 1086.02 L269.5 1085.21 L269.7 1086.02 L269.9 1088.42 L270.1 1092.32 L270.3 1097.55 L270.5 1103.9 L270.7 1111.13 L270.9 1118.93 L271.1 1127 L271.3 1135.01 L271.5 1142.63 L271.7 1149.56 L271.9 1155.52 L272.1 1160.27 L272.3 1163.62 L272.5 1165.44 L272.7 1165.64 L272.9 1164.22 L273.1 1161.25 L273.3 1156.83 L273.5 1151.15 L273.7 1144.44 L273.9 1136.96 L274.1 1129.02 L274.3 1120.94 L274.5 1113.03 L274.7 1105.64 L274.9 1099.04 L275.1 1093.5 L275.3 1089.26 L275.5 1086.47 L275.7 1085.26 L275.9 1085.66 L276.1 1087.67 L276.3 1091.21 L276.5 1096.12 L276.7 1102.22 L276.9 1109.25 L277.1 1116.94 L277.3 1124.97 L277.5 1133.02 L277.7 1140.77 L277.9 1147.91 L278.1 1154.13 L278.3 1159.21 L278.5 1162.92 L278.7 1165.13 L278.9 1165.74 L279.1 1164.73 L279.3 1162.13 L279.5 1158.06 L279.7 1152.68 L279.9 1146.2 L280.1 1138.88 L280.3 1131.03 L280.5 1122.95 L280.7 1114.97 L280.9 1107.42 L281.1 1100.59 L281.3 1094.77 L281.5 1090.18 L281.7 1087.02 L281.9 1085.4 L282.1 1085.4 L282.3 1087.02 L282.5 1090.18 L282.7 1094.77 L282.9 1100.59 L283.1 1107.42 L283.3 1114.97 L283.5 1122.95 L283.7 1131.02 L283.9 1138.88 L284.1 1146.19 L284.3 1152.67 L284.5 1158.06 L284.7 1162.13 L284.9 1164.72 L285.1 1165.74 L285.3 1165.13 L285.5 1162.92 L285.7 1159.2 L285.9 1154.13 L286.1 1147.9 L286.3 1140.77 L286.5 1133.02 L286.7 1124.97 L286.9 1116.93 L287.1 1109.24 L287.3 1102.21 L287.5 1096.11 L287.7 1091.2 L287.9 1087.66 L288.1 1085.65 L288.3 1085.25 L288.5 1086.46 L288.7 1089.25 L288.9 1093.49 L289.1 1099.03 L289.3 1105.63 L289.5 1113.02 L289.7 1120.92 L289.9 1129.01 L290.1 1136.95 L290.3 1144.43 L290.5 1151.14 L290.7 1156.82 L290.9 1161.24 L291.1 1164.22 L291.3 1165.63 L291.5 1165.43 L291.7 1163.62 L291.9 1160.27 L292.1 1155.51 L292.3 1149.55 L292.5 1142.62 L292.7 1134.99 L292.9 1126.99 L293.1 1118.92 L293.3 1111.11 L293.5 1103.89 L293.7 1097.53 L293.9 1092.3 L294.1 1088.4 L294.3 1086 L294.5 1085.19 L294.7 1086 L294.9 1088.4 L295.1 1092.3 L295.3 1097.53 L295.5 1103.88 L295.7 1111.11 L295.9 1118.92 L296.1 1126.98 L296.3 1134.99 L296.5 1142.62 L296.7 1149.55 L296.9 1155.51 L297.1 1160.26 L297.3 1163.61 L297.5 1165.43 L297.7 1165.63 L297.9 1164.21 L298.1 1161.24 L298.3 1156.82 L298.5 1151.14 L298.7 1144.42 L298.9 1136.94 L299.1 1129 L299.3 1120.92 L299.5 1113.02 L299.7 1105.62 L299.9 1099.02 L300.1 1093.48 L300.3 1089.24 L300.5 1086.45 L300.7 1085.24 L300.9 1085.64 L301.1 1087.65 L301.3 1091.19 L301.5 1096.1 L301.7 1102.2 L301.9 1109.23 L302.1 1116.92 L302.3 1124.96 L302.5 1133.01 L302.7 1140.76 L302.9 1147.89 L303.1 1154.12 L303.3 1159.2 L303.5 1162.91 L303.7 1165.12 L303.9 1165.73 L304.1 1164.71 L304.3 1162.12 L304.5 1158.05 L304.7 1152.66 L304.9 1146.18 L305.1 1138.87 L305.3 1131.01 L305.5 1122.93 L305.7 1114.95 L305.9 1107.4 L306.1 1100.57 L306.3 1094.75 L306.5 1090.16 L306.7 1087 L306.9 1085.38 L307.1 1085.38 L307.3 1087 L307.5 1090.16 L307.7 1094.75 L307.9 1100.57 L308.1 1107.4 L308.3 1114.95 L308.5 1122.93 L308.7 1131.01 L308.9 1138.86 L309.1 1146.18 L309.3 1152.66 L309.5 1158.05 L309.7 1162.12 L309.9 1164.71 L310.1 1165.73 L310.3 1165.12 L310.5 1162.91 L310.7 1159.19 L310.9 1154.12 L311.1 1147.89 L311.3 1140.75 L311.5 1133 L311.7 1124.95 L311.9 1116.92 L312.1 1109.23 L312.3 1102.19 L312.5 1096.09 L312.7 1091.18 L312.9 1087.64 L313.1 1085.63 L313.3 1085.22 L313.5 1086.44 L313.7 1089.23 L313.9 1093.47 L314.1 1099.01 L314.3 1105.61 L314.5 1113.01 L314.7 1120.91 L314.9 1128.99 L315.1 1136.94 L315.3 1144.41 L315.5 1151.13 L315.7 1156.81 L315.9 1161.23 L316.1 1164.21 L316.3 1165.62 L316.5 1165.42 L316.7 1163.6 L316.9 1160.25 L317.1 1155.5 L317.3 1149.54 L317.5 1142.6 L317.7 1134.98 L317.9 1126.97 L318.1 1118.9 L318.3 1111.09 L318.5 1103.87 L318.7 1097.51 L318.9 1092.28 L319.1 1088.38 L319.3 1085.98 L319.5 1085.17 L319.7 1085.98 L319.9 1088.38 L320.1 1092.28 L320.3 1097.51 L320.5 1103.87 L320.7 1111.09 L320.9 1118.9 L321.1 1126.97 L321.3 1134.98 L321.5 1142.6 L321.7 1149.54 L321.9 1155.5 L322.1 1160.25 L322.3 1163.6 L322.5 1165.42 L322.7 1165.62 L322.9 1164.2 L323.1 1161.23 L323.3 1156.81 L323.5 1151.13 L323.7 1144.41 L323.9 1136.93 L324.1 1128.99 L324.3 1120.9 L324.5 1113 L324.7 1105.6 L324.9 1099 L325.1 1093.46 L325.3 1089.22 L325.5 1086.43 L325.7 1085.21 L325.9 1085.62 L326.1 1087.63 L326.3 1091.17 L326.5 1096.08 L326.7 1102.18 L326.9 1109.22 L327.1 1116.91 L327.3 1124.94 L327.5 1132.99 L327.7 1140.75 L327.9 1147.88 L328.1 1154.11 L328.3 1159.19 L328.5 1162.9 L328.7 1165.11 L328.9 1165.72 L329.1 1164.7 L329.3 1162.11 L329.5 1158.04 L329.7 1152.65 L329.9 1146.17 L330.1 1138.85 L330.3 1131 L330.5 1122.91 L330.7 1114.94 L330.9 1107.38 L331.1 1100.55 L331.3 1094.73 L331.5 1090.14 L331.7 1086.98 L331.9 1085.36 L332.1 1085.36 L332.3 1086.98 L332.5 1090.14 L332.7 1094.73 L332.9 1100.55 L333.1 1107.38 L333.3 1114.93 L333.5 1122.91 L333.7 1130.99 L333.9 1138.85 L334.1 1146.17 L334.3 1152.65 L334.5 1158.03 L334.7 1162.11 L334.9 1164.7 L335.1 1165.71 L335.3 1165.11 L335.5 1162.9 L335.7 1159.18 L335.9 1154.11 L336.1 1147.88 L336.3 1140.74 L336.5 1132.99 L336.7 1124.93 L336.9 1116.9 L337.1 1109.21 L337.3 1102.17 L337.5 1096.07 L337.7 1091.16 L337.9 1087.62 L338.1 1085.61 L338.3 1085.2 L338.5 1086.42 L338.7 1089.2 L338.9 1093.45 L339.1 1098.99 L339.3 1105.59 L339.5 1112.99 L339.7 1120.89 L339.9 1128.98 L340.1 1136.92" fill="none" stroke="#cc0000" stroke-width="2.15" stroke-linejoin="round"/>
<line x1="51.7" y1="957.9" x2="51.7" y2="1237.35" stroke="#000" stroke-width="2.3"/>
<line x1="50.55" y1="1236.2" x2="340" y2="1236.2" stroke="#000" stroke-width="1.9"/>
<line x1="51.7" y1="1225.49" x2="56" y2="1225.49" stroke="#000" stroke-width="0.95"/>
<line x1="51.7" y1="1212.78" x2="56" y2="1212.78" stroke="#000" stroke-width="0.95"/>
<line x1="51.7" y1="1200.07" x2="56" y2="1200.07" stroke="#000" stroke-width="0.95"/>
<line x1="51.7" y1="1187.36" x2="58.8" y2="1187.36" stroke="#000" stroke-width="1.6"/>
<text x="47.4" y="1192.36" font-family="'Liberation Sans','DejaVu Sans',sans-serif" font-size="14.5" text-anchor="end" letter-spacing="0.4" fill="#000">-0.2</text>
<line x1="51.7" y1="1174.65" x2="56" y2="1174.65" stroke="#000" stroke-width="0.95"/>
<line x1="51.7" y1="1161.94" x2="56" y2="1161.94" stroke="#000" stroke-width="0.95"/>
<line x1="51.7" y1="1149.23" x2="56" y2="1149.23" stroke="#000" stroke-width="0.95"/>
<line x1="51.7" y1="1136.52" x2="58.8" y2="1136.52" stroke="#000" stroke-width="1.6"/>
<text x="47.4" y="1141.52" font-family="'Liberation Sans','DejaVu Sans',sans-serif" font-size="14.5" text-anchor="end" letter-spacing="0.4" fill="#000">0</text>
<line x1="51.7" y1="1123.81" x2="56" y2="1123.81" stroke="#000" stroke-width="0.95"/>
<line x1="51.7" y1="1111.1" x2="56" y2="1111.1" stroke="#000" stroke-width="0.95"/>
<line x1="51.7" y1="1098.39" x2="56" y2="1098.39" stroke="#000" stroke-width="0.95"/>
<line x1="51.7" y1="1085.68" x2="58.8" y2="1085.68" stroke="#000" stroke-width="1.6"/>
<text x="47.4" y="1090.68" font-family="'Liberation Sans','DejaVu Sans',sans-serif" font-size="14.5" text-anchor="end" letter-spacing="0.4" fill="#000">0.2</text>
<line x1="51.7" y1="1072.97" x2="56" y2="1072.97" stroke="#000" stroke-width="0.95"/>
<line x1="51.7" y1="1060.26" x2="56" y2="1060.26" stroke="#000" stroke-width="0.95"/>
<line x1="51.7" y1="1047.55" x2="56" y2="1047.55" stroke="#000" stroke-width="0.95"/>
<line x1="51.7" y1="1034.84" x2="58.8" y2="1034.84" stroke="#000" stroke-width="1.6"/>
<text x="47.4" y="1039.84" font-family="'Liberation Sans','DejaVu Sans',sans-serif" font-size="14.5" text-anchor="end" letter-spacing="0.4" fill="#000">0.4</text>
<line x1="51.7" y1="1022.13" x2="56" y2="1022.13" stroke="#000" stroke-width="0.95"/>
<line x1="51.7" y1="1009.42" x2="56" y2="1009.42" stroke="#000" stroke-width="0.95"/>
<line x1="51.7" y1="996.71" x2="56" y2="996.71" stroke="#000" stroke-width="0.95"/>
<line x1="51.7" y1="984" x2="58.8" y2="984" stroke="#000" stroke-width="1.6"/>
<text x="47.4" y="989" font-family="'Liberation Sans','DejaVu Sans',sans-serif" font-size="14.5" text-anchor="end" letter-spacing="0.4" fill="#000">0.6</text>
<line x1="51.7" y1="971.29" x2="56" y2="971.29" stroke="#000" stroke-width="0.95"/>
<line x1="51.7" y1="958.58" x2="56" y2="958.58" stroke="#000" stroke-width="0.95"/>
<line x1="70.3" y1="1236.2" x2="70.3" y2="1231.9" stroke="#000" stroke-width="0.95"/>
<line x1="89.3" y1="1236.2" x2="89.3" y2="1231.9" stroke="#000" stroke-width="0.95"/>
<line x1="108.3" y1="1236.2" x2="108.3" y2="1231.9" stroke="#000" stroke-width="0.95"/>
<line x1="127.3" y1="1236.2" x2="127.3" y2="1231.9" stroke="#000" stroke-width="0.95"/>
<line x1="146.3" y1="1236.2" x2="146.3" y2="1229.1" stroke="#000" stroke-width="1.6"/>
<text x="146.1" y="1250.3" font-family="'Liberation Sans','DejaVu Sans',sans-serif" font-size="14.5" text-anchor="middle" letter-spacing="0.4" fill="#000">100</text>
<line x1="165.3" y1="1236.2" x2="165.3" y2="1231.9" stroke="#000" stroke-width="0.95"/>
<line x1="184.3" y1="1236.2" x2="184.3" y2="1231.9" stroke="#000" stroke-width="0.95"/>
<line x1="203.3" y1="1236.2" x2="203.3" y2="1231.9" stroke="#000" stroke-width="0.95"/>
<line x1="222.3" y1="1236.2" x2="222.3" y2="1231.9" stroke="#000" stroke-width="0.95"/>
<line x1="241.3" y1="1236.2" x2="241.3" y2="1229.1" stroke="#000" stroke-width="1.6"/>
<text x="241.1" y="1250.3" font-family="'Liberation Sans','DejaVu Sans',sans-serif" font-size="14.5" text-anchor="middle" letter-spacing="0.4" fill="#000">200</text>
<line x1="260.3" y1="1236.2" x2="260.3" y2="1231.9" stroke="#000" stroke-width="0.95"/>
<line x1="279.3" y1="1236.2" x2="279.3" y2="1231.9" stroke="#000" stroke-width="0.95"/>
<line x1="298.3" y1="1236.2" x2="298.3" y2="1231.9" stroke="#000" stroke-width="0.95"/>
<line x1="317.3" y1="1236.2" x2="317.3" y2="1231.9" stroke="#000" stroke-width="0.95"/>
<line x1="336.3" y1="1236.2" x2="336.3" y2="1229.1" stroke="#000" stroke-width="1.6"/>
<text x="336.1" y="1250.3" font-family="'Liberation Sans','DejaVu Sans',sans-serif" font-size="14.5" text-anchor="middle" letter-spacing="0.4" fill="#000">300</text>
<text x="154.7" y="946.4" font-family="'Liberation Sans','DejaVu Sans',sans-serif" font-size="18" text-anchor="start" textLength="185.2" lengthAdjust="spacing" fill="#000">Re = 83 at (1.104,0.0)</text>
<text x="195.5" y="1271.3" font-family="'Liberation Sans','DejaVu Sans',sans-serif" font-size="22.5" text-anchor="middle" font-weight="bold" fill="#000">t</text>
<g transform="translate(29 1099.5) rotate(-90)">
<text x="0" y="0" transform="scale(0.95 1.2)" font-family="'Liberation Sans','DejaVu Sans',sans-serif" font-size="21" text-anchor="middle" fill="#000">ω</text>
<text x="10.4" y="-0.8" font-family="'Liberation Sans','DejaVu Sans',sans-serif" font-size="27" font-weight="bold" text-anchor="middle" fill="#000">'</text>
</g>
</g>
<g id="p2">
<clipPath id="cp2"><rect x="446.4" y="585.2" width="300" height="278"/></clipPath>
<path clip-path="url(#cp2)" d="M447.4 799.47 L447.67 772.45 L447.94 786.63 L448.21 773.12 L448.48 815.79 L448.76 753.48 L449.03 751.5 L449.3 797.27 L449.57 742.04 L449.84 775.42 L450.11 764.8 L450.38 751.74 L450.65 737.48 L450.92 741.02 L451.2 800.49 L451.47 749.65 L451.74 747.45 L452.01 748.44 L452.28 738.13 L452.55 761.42 L452.82 735.85 L453.09 783.67 L453.37 760.38 L453.64 761.26 L453.91 747.6 L454.18 733.93 L454.45 739.39 L454.72 727.13 L454.99 744.62 L455.26 728.04 L455.53 728.05 L455.81 739.97 L456.08 738.69 L456.35 711.87 L456.62 726.6 L456.89 712.26 L457.16 718.09 L457.43 713.53 L457.7 724.95 L457.97 720.84 L458.25 720.17 L458.52 690.62 L458.79 726.28 L459.06 691.19 L459.33 707.52 L459.6 704.86 L459.87 701.11 L460.14 701.56 L460.41 696.03 L460.69 723.09 L460.96 709.85 L461.23 677.83 L461.5 676.69 L461.77 709.96 L462.04 679.72 L462.31 679.55 L462.58 659.17 L462.86 649.34 L463.13 645.9 L463.4 633.89 L463.67 609.79 L463.94 573.22 L464.21 620.84 L464.48 639.59 L464.75 649.85 L465.02 658.89 L465.3 678.38 L465.57 687.85 L465.84 680.93 L466.11 691.73 L466.38 693.41 L466.65 699.76 L466.92 700.25 L467.19 689.29 L467.46 714.17 L467.74 689.65 L468.01 729.05 L468.28 704.97 L468.55 741.43 L468.82 706.22 L469.09 708.63 L469.36 703.2 L469.63 700.31 L469.91 717.49 L470.18 711.77 L470.45 703.83 L470.72 714.89 L470.99 725.17 L471.26 728.47 L471.53 730.59 L471.8 705.86 L472.07 727.51 L472.35 708.41 L472.62 713.97 L472.89 720.71 L473.16 776.51 L473.43 714.54 L473.7 714.33 L473.97 778.96 L474.24 725.97 L474.51 735.16 L474.79 728.51 L475.06 728.56 L475.33 729.44 L475.6 740.29 L475.87 759.78 L476.14 724.47 L476.41 720.29 L476.68 748.68 L476.95 747.94 L477.23 740.2 L477.5 739.51 L477.77 723.23 L478.04 749.61 L478.31 739.76 L478.58 732.5 L478.85 737.12 L479.12 743.96 L479.4 729.11 L479.67 756.38 L479.94 752.28 L480.21 742.35 L480.48 729.95 L480.75 749.44 L481.02 760.42 L481.29 724.49 L481.56 759.22 L481.84 737.24 L482.11 749.04 L482.38 737.13 L482.65 736.38 L482.92 768.21 L483.19 747.31 L483.46 748.45 L483.73 757.23 L484 791.83 L484.28 791.56 L484.55 740.31 L484.82 767.51 L485.09 750.98 L485.36 725.73 L485.63 731.97 L485.9 730.34 L486.17 760.33 L486.44 752.35 L486.72 756.32 L486.99 746.31 L487.26 744.85 L487.53 749.89 L487.8 739.1 L488.07 742.54 L488.34 742.33 L488.61 764.47 L488.89 739.9 L489.16 743.41 L489.43 755.82 L489.7 752.66 L489.97 726.8 L490.24 754.19 L490.51 754.38 L490.78 745.1 L491.05 745.09 L491.33 794.55 L491.6 746.75 L491.87 740.36 L492.14 732.54 L492.41 743.1 L492.68 769.62 L492.95 760.18 L493.22 752.8 L493.49 745.89 L493.77 772.57 L494.04 754.28 L494.31 757.21 L494.58 731.8 L494.85 732.17 L495.12 743.15 L495.39 750.49 L495.66 766.8 L495.93 734.49 L496.21 736.45 L496.48 738.59 L496.75 781.58 L497.02 743.05 L497.29 773.09 L497.56 738.03 L497.83 749.46 L498.1 731.02 L498.38 755.05 L498.65 748.55 L498.92 743.96 L499.19 762.63 L499.46 748.68 L499.73 742.55 L500 752.7 L500.27 756.15 L500.54 752.65 L500.82 737.21 L501.09 726.88 L501.36 748.63 L501.63 744.86 L501.9 734.13 L502.17 771.97 L502.44 792.26 L502.71 746.88 L502.98 751.16 L503.26 776.89 L503.53 754.45 L503.8 755.07 L504.07 763.8 L504.34 765.82 L504.61 770.14 L504.88 753.15 L505.15 772.42 L505.42 749.38 L505.7 744.28 L505.97 750.46 L506.24 765.91 L506.51 760.32 L506.78 756.39 L507.05 762.63 L507.32 755.48 L507.59 751.12 L507.87 764.81 L508.14 769.32 L508.41 747.96 L508.68 748.47 L508.95 789.63 L509.22 752.85 L509.49 776.28 L509.76 756.09 L510.03 765.79 L510.31 747.12 L510.58 779.95 L510.85 744.21 L511.12 763.85 L511.39 776.43 L511.66 759.62 L511.93 782.05 L512.2 750.65 L512.47 763.33 L512.75 764.66 L513.02 779.54 L513.29 772.64 L513.56 758.07 L513.83 779.08 L514.1 759.39 L514.37 743.31 L514.64 762.57 L514.92 773.49 L515.19 749.23 L515.46 754.1 L515.73 755.66 L516 778.5 L516.27 764.88 L516.54 760.44 L516.81 763.96 L517.08 771.41 L517.36 771.19 L517.63 777.19 L517.9 752.58 L518.17 779.19 L518.44 766.83 L518.71 763.97 L518.98 793.53 L519.25 776.61 L519.52 775.47 L519.8 751.74 L520.07 771.25 L520.34 752.67 L520.61 766.25 L520.88 755.58 L521.15 755.87 L521.42 771.97 L521.69 763.7 L521.96 755.4 L522.24 757.71 L522.51 757.68 L522.78 794.11 L523.05 747.19 L523.32 748.08 L523.59 776.02 L523.86 765.54 L524.13 747.38 L524.41 763.34 L524.68 764.08 L524.95 755.17 L525.22 777.8 L525.49 749.81 L525.76 807.17 L526.03 787.53 L526.3 766.68 L526.57 772.5 L526.85 761.96 L527.12 779.76 L527.39 758 L527.66 761.32 L527.93 751.85 L528.2 771.92 L528.47 777.92 L528.74 762.04 L529.01 773.58 L529.29 764.55 L529.56 783.02 L529.83 759.99 L530.1 752.19 L530.37 748.85 L530.64 746.48 L530.91 760.87 L531.18 763.1 L531.45 754.75 L531.73 758.24 L532 779.45 L532.27 766.39 L532.54 780.35 L532.81 761.87 L533.08 763.81 L533.35 765.76 L533.62 742.13 L533.9 750.47 L534.17 781.04 L534.44 761.02 L534.71 765.29 L534.98 753.85 L535.25 749.22 L535.52 754 L535.79 802.28 L536.06 751.55 L536.34 780.61 L536.61 771.25 L536.88 769.56 L537.15 754.84 L537.42 778.53 L537.69 780.11 L537.96 742.92 L538.23 796.93 L538.5 772.79 L538.78 768.78 L539.05 777.3 L539.32 774.93 L539.59 786.82 L539.86 755.87 L540.13 776.45 L540.4 761.87 L540.67 771.3 L540.94 815.25 L541.22 776.69 L541.49 755.63 L541.76 769.65 L542.03 789.66 L542.3 747.43 L542.57 761.91 L542.84 761.87 L543.11 751.56 L543.39 751.29 L543.66 754.26 L543.93 770.63 L544.2 775.91 L544.47 767.96 L544.74 759.17 L545.01 767.18 L545.28 772.03 L545.55 764.48 L545.83 763.16 L546.1 748.01 L546.37 763.96 L546.64 771.72 L546.91 752.19 L547.18 760.69 L547.45 770.57 L547.72 769.63 L547.99 742.1 L548.27 750.34 L548.54 817.43 L548.81 757.1 L549.08 773.62 L549.35 772.35 L549.62 776.73 L549.89 765.19 L550.16 783.63 L550.43 781.58 L550.71 781.18 L550.98 767.19 L551.25 790.64 L551.52 776.5 L551.79 759.44 L552.06 769.96 L552.33 752.21 L552.6 762.81 L552.88 789.75 L553.15 771.59 L553.42 769 L553.69 756.28 L553.96 755.1 L554.23 799.43 L554.5 755.83 L554.77 764.25 L555.04 767.94 L555.32 755.59 L555.59 773.84 L555.86 765.08 L556.13 760 L556.4 760.43 L556.67 768.85 L556.94 768.95 L557.21 759.02 L557.48 783.78 L557.76 764.25 L558.03 817.83 L558.3 790.88 L558.57 759.79 L558.84 790.43 L559.11 800.73 L559.38 772.59 L559.65 755.58 L559.93 755.02 L560.2 768.97 L560.47 761.61 L560.74 781.94 L561.01 767.38 L561.28 787.42 L561.55 781.95 L561.82 756.4 L562.09 758.32 L562.37 764.32 L562.64 773.02 L562.91 759.23 L563.18 787.32 L563.45 771.98 L563.72 769.08 L563.99 805.86 L564.26 762.07 L564.53 780.94 L564.81 757.2 L565.08 756.76 L565.35 763.22 L565.62 761.83 L565.89 780.12 L566.16 788.68 L566.43 777.49 L566.7 776.49 L566.97 756.85 L567.25 761.95 L567.52 761.58 L567.79 766.7 L568.06 763.25 L568.33 774.14 L568.6 759.12 L568.87 754.26 L569.14 776.17 L569.42 758.95 L569.69 766.36 L569.96 768.63 L570.23 772.36 L570.5 756.78 L570.77 828.46 L571.04 790.95 L571.31 801.21 L571.58 763.39 L571.86 772.21 L572.13 784.23 L572.4 779.34 L572.67 768.53 L572.94 765.65 L573.21 797.32 L573.48 769.76 L573.75 770.37 L574.02 764.21 L574.3 785.39 L574.57 789.65 L574.84 765.86 L575.11 777.9 L575.38 793.32 L575.65 776.14 L575.92 764.37 L576.19 779.74 L576.46 787.27 L576.74 765.62 L577.01 801.01 L577.28 796.53 L577.55 811.37 L577.82 764.52 L578.09 779.7 L578.36 787.07 L578.63 823.37 L578.91 783.69 L579.18 791.9 L579.45 761.87 L579.72 794.97 L579.99 766.1 L580.26 774.1 L580.53 807.6 L580.8 787.88 L581.07 780.56 L581.35 779.71 L581.62 782.66 L581.89 770.35 L582.16 797.69 L582.43 799 L582.7 773.72 L582.97 782.28 L583.24 769.61 L583.51 783.66 L583.79 769.45 L584.06 762.29 L584.33 780.87 L584.6 785.05 L584.87 767.44 L585.14 793.2 L585.41 774.59 L585.68 760.15 L585.95 783.45 L586.23 767.39 L586.5 778.73 L586.77 764.31 L587.04 767.63 L587.31 812.93 L587.58 761.98 L587.85 790.86 L588.12 762.68 L588.4 779.32 L588.67 805.16 L588.94 762.65 L589.21 771.46 L589.48 783.88 L589.75 763.4 L590.02 785.45 L590.29 782.17 L590.56 774.07 L590.84 860.37 L591.11 776.88 L591.38 766.48 L591.65 774.58 L591.92 770.77 L592.19 800.64 L592.46 761.91 L592.73 800.35 L593 770.01 L593.28 772.3 L593.55 785.91 L593.82 747.52 L594.09 764.15 L594.36 777 L594.63 750.09 L594.9 779.63 L595.17 778.5 L595.45 770.28 L595.72 785.72 L595.99 778.36 L596.26 770.88 L596.53 786.93 L596.8 778.26 L597.07 798.66 L597.34 759.6 L597.61 772.83 L597.89 794.1 L598.16 774.7 L598.43 801.92 L598.7 778.33 L598.97 765.58 L599.24 771.95 L599.51 780.27 L599.78 772.07 L600.05 761.34 L600.33 788.19 L600.6 763.05 L600.87 786.68 L601.14 772.91 L601.41 793.77 L601.68 777.07 L601.95 760.16 L602.22 778.6 L602.49 769.65 L602.77 777.72 L603.04 805.55 L603.31 777.68 L603.58 786.46 L603.85 758.16 L604.12 767.8 L604.39 764.01 L604.66 774.59 L604.94 757.33 L605.21 763.48 L605.48 778.51 L605.75 774.18 L606.02 785.1 L606.29 780.1 L606.56 808.08 L606.83 770.13 L607.1 783.14 L607.38 779.49 L607.65 781.03 L607.92 765.3 L608.19 786.21 L608.46 773.91 L608.73 789.42 L609 784.92 L609.27 770.08 L609.54 776.81 L609.82 780.44 L610.09 787.09 L610.36 804.66 L610.63 812.98 L610.9 767.1 L611.17 771.79 L611.44 769.26 L611.71 774.01 L611.98 806.37 L612.26 772.21 L612.53 794.56 L612.8 759.7 L613.07 760.84 L613.34 759.91 L613.61 780.24 L613.88 773.38 L614.15 802.7 L614.43 764.81 L614.7 770.84 L614.97 784.79 L615.24 777.88 L615.51 791.45 L615.78 774.02 L616.05 756.57 L616.32 787.18 L616.59 807.02 L616.87 800.71 L617.14 778.54 L617.41 765.18 L617.68 808.39 L617.95 778.44 L618.22 781.21 L618.49 772.62 L618.76 774.6 L619.03 775.21 L619.31 778.17 L619.58 777.77 L619.85 800.82 L620.12 779.74 L620.39 787.82 L620.66 782.67 L620.93 776.17 L621.2 769.51 L621.47 772.56 L621.75 789.25 L622.02 849.73 L622.29 777.17 L622.56 794.74 L622.83 774.47 L623.1 765.95 L623.37 776.07 L623.64 767.54 L623.92 767.16 L624.19 766.88 L624.46 802.72 L624.73 784.21 L625 791.54 L625.27 758.55 L625.54 773.6 L625.81 764.74 L626.08 777.31 L626.36 788.51 L626.63 799.84 L626.9 780.79 L627.17 775.63 L627.44 773.09 L627.71 759.51 L627.98 800.44 L628.25 782.05 L628.52 764.76 L628.8 778.67 L629.07 773.64 L629.34 767.87 L629.61 779.19 L629.88 768.81 L630.15 791.62 L630.42 772.95 L630.69 785.72 L630.96 769.64 L631.24 785.01 L631.51 773.12 L631.78 768.74 L632.05 768.11 L632.32 789.64 L632.59 755.68 L632.86 828.3 L633.13 782.6 L633.41 785.66 L633.68 762.06 L633.95 777.16 L634.22 771.47 L634.49 784.23 L634.76 793.27 L635.03 816.7 L635.3 797.76 L635.57 784.96 L635.85 771.91 L636.12 780.42 L636.39 772.73 L636.66 776.51 L636.93 784.97 L637.2 779.51 L637.47 779.17 L637.74 794.2 L638.01 778.76 L638.29 763.86 L638.56 775.28 L638.83 768.13 L639.1 761.95 L639.37 827.89 L639.64 773.8 L639.91 783.04 L640.18 764.84 L640.46 775.39 L640.73 783.74 L641 798.58 L641.27 808.91 L641.54 771.88 L641.81 761.98 L642.08 782.3 L642.35 787.28 L642.62 803.9 L642.9 770.8 L643.17 798.3 L643.44 776.92 L643.71 777.35 L643.98 787.62 L644.25 766.3 L644.52 780.64 L644.79 779.98 L645.06 768.33 L645.34 768.64 L645.61 781.7 L645.88 787.87 L646.15 770.97 L646.42 777.55 L646.69 772 L646.96 760.36 L647.23 770.15 L647.5 792.72 L647.78 779.74 L648.05 765.75 L648.32 788.16 L648.59 769.31 L648.86 775.98 L649.13 786.86 L649.4 771.31 L649.67 801.65 L649.95 788.13 L650.22 789.54 L650.49 789.53 L650.76 787.17 L651.03 786.96 L651.3 760.12 L651.57 783.33 L651.84 784.35 L652.11 770.68 L652.39 779.43 L652.66 778.35 L652.93 767.28 L653.2 796.11 L653.47 777.45 L653.74 811.06 L654.01 788 L654.28 788.74 L654.55 782.76 L654.83 784.32 L655.1 784.97 L655.37 752.88 L655.64 775.46 L655.91 782.43 L656.18 777.12 L656.45 762.73 L656.72 768.72 L656.99 778.85 L657.27 794.7 L657.54 803.37 L657.81 826.75 L658.08 763.65 L658.35 793.13 L658.62 769.97 L658.89 757.96 L659.16 775.03 L659.44 765.92 L659.71 767.17 L659.98 761.38 L660.25 770.05 L660.52 780.79 L660.79 784.93 L661.06 776.7 L661.33 784.19 L661.6 761.06 L661.88 800.98 L662.15 790.84 L662.42 780.92 L662.69 775.88 L662.96 774.75 L663.23 766.2 L663.5 785.13 L663.77 767.53 L664.04 784.76 L664.32 785.28 L664.59 766.05 L664.86 795.03 L665.13 761.49 L665.4 771.38 L665.67 775.29 L665.94 785.11 L666.21 771.33 L666.48 765.88 L666.76 771.12 L667.03 766.49 L667.3 774.5 L667.57 781.75 L667.84 778.31 L668.11 780.8 L668.38 771.81 L668.65 758.09 L668.93 765.66 L669.2 790.04 L669.47 777.11 L669.74 762.71 L670.01 749.89 L670.28 759.77 L670.55 800.79 L670.82 785.91 L671.09 769.79 L671.37 825.91 L671.64 770.09 L671.91 812.55 L672.18 792.29 L672.45 770.14 L672.72 760.53 L672.99 811.68 L673.26 805.62 L673.53 774.44 L673.81 774.93 L674.08 763.48 L674.35 764.17 L674.62 769.39 L674.89 771.04 L675.16 766.47 L675.43 765.19 L675.7 768.53 L675.97 789.46 L676.25 774.46 L676.52 781.78 L676.79 772.78 L677.06 756.7 L677.33 767.02 L677.6 761.35 L677.87 781.25 L678.14 773.99 L678.42 795.11 L678.69 825.69 L678.96 770.14 L679.23 790.31 L679.5 762.72 L679.77 783.56 L680.04 793.77 L680.31 760.43 L680.58 790.48 L680.86 763.12 L681.13 794.02 L681.4 778.94 L681.67 764.71 L681.94 765.04 L682.21 770.13 L682.48 762.16 L682.75 767.3 L683.02 766.92 L683.3 778.8 L683.57 772.83 L683.84 761.21 L684.11 792.55 L684.38 768.92 L684.65 780.22 L684.92 774.57 L685.19 800.52 L685.47 773.06 L685.74 766.44 L686.01 777.77 L686.28 758.62 L686.55 774.46 L686.82 844.41 L687.09 771.23 L687.36 765.59 L687.63 768.79 L687.91 798.58 L688.18 783.37 L688.45 763.88 L688.72 763.99 L688.99 804.41 L689.26 791.9 L689.53 782.33 L689.8 790.28 L690.07 773.13 L690.35 765.97 L690.62 812.23 L690.89 764.9 L691.16 804.14 L691.43 768.04 L691.7 780.34 L691.97 778.95 L692.24 782.34 L692.51 780.7 L692.79 764.14 L693.06 783.51 L693.33 771.48 L693.6 769.81 L693.87 783.87 L694.14 776.45 L694.41 797.73 L694.68 767.46 L694.96 779.02 L695.23 776.03 L695.5 795.43 L695.77 770.17 L696.04 772.4 L696.31 763.17 L696.58 774.32 L696.85 756.64 L697.12 758.55 L697.4 772.1 L697.67 778.82 L697.94 766.78 L698.21 770.78 L698.48 775.97 L698.75 771.27 L699.02 763.09 L699.29 774.89 L699.56 781.74 L699.84 772.7 L700.11 774.17 L700.38 785.34 L700.65 763.37 L700.92 789.95 L701.19 777.56 L701.46 772.2 L701.73 766.85 L702 777.36 L702.28 773.29 L702.55 800.28 L702.82 810.34 L703.09 788.74 L703.36 846.19 L703.63 787.03 L703.9 793.37 L704.17 774.53 L704.45 794.53 L704.72 788.07 L704.99 771.8 L705.26 822.18 L705.53 774.36 L705.8 789.98 L706.07 789.15 L706.34 783.08 L706.61 793.69 L706.89 761.28 L707.16 779.96 L707.43 786.59 L707.7 774.37 L707.97 792.07 L708.24 784.37 L708.51 766.66 L708.78 785.79 L709.05 794.06 L709.33 790.09 L709.6 769.35 L709.87 792.26 L710.14 769.16 L710.41 776.45 L710.68 779.19 L710.95 805.78 L711.22 764.81 L711.49 781.68 L711.77 763.78 L712.04 764.35 L712.31 767.55 L712.58 764.93 L712.85 758.79 L713.12 779.2 L713.39 770 L713.66 791.42 L713.94 765.2 L714.21 796.69 L714.48 765.64 L714.75 816.29 L715.02 765.76 L715.29 768.79 L715.56 793.03 L715.83 791.28 L716.1 767.35 L716.38 778.05 L716.65 777.34 L716.92 782.06 L717.19 772.42 L717.46 826.11 L717.73 765.31 L718 769.28 L718.27 789.92 L718.54 771.6 L718.82 773.47 L719.09 775.11 L719.36 779.48 L719.63 772.68 L719.9 794.36 L720.17 776.64 L720.44 768.13 L720.71 764.19 L720.99 777.29 L721.26 797.26 L721.53 776.22 L721.8 772.65 L722.07 772.7 L722.34 770.21 L722.61 767.41 L722.88 758.25 L723.15 763.59 L723.43 800.29 L723.7 790.92 L723.97 762.89 L724.24 819.35 L724.51 773.07 L724.78 772.57 L725.05 774.41 L725.32 769.78 L725.59 775.08 L725.87 784.07 L726.14 770.26 L726.41 771.85 L726.68 806.27 L726.95 787.74 L727.22 807.87 L727.49 788.58 L727.76 781.29 L728.03 869.23 L728.31 777.31 L728.58 779.52 L728.85 805.37 L729.12 797.4 L729.39 774.95 L729.66 764.41 L729.93 773.89 L730.2 780.43 L730.48 773.8 L730.75 778.38 L731.02 760.63 L731.29 787.5 L731.56 768.83 L731.83 774.41 L732.1 777.18 L732.37 781.18 L732.64 812.81 L732.92 787.54 L733.19 789.91 L733.46 783.22 L733.73 776.31 L734 778.23 L734.27 786.64 L734.54 780.32" fill="none" stroke="#cc0000" stroke-width="2.0" stroke-linejoin="round"/>
<path clip-path="url(#cp2)" d="M463.83 573.22 L463.96 573.22 L464.22 606.9 L464.77 642.35 L465.95 677.8 L467.69 695.52 L468.88 709.7 L466.59 720.34 L463.85 723.88 L461.11 720.34 L459.1 713.25 L459.74 699.07 L461.11 677.8 L462.85 642.35 L463.49 606.9Z" fill="#cc0000" stroke="#cc0000" stroke-width="0.8" stroke-linejoin="round"/>
<line x1="447.4" y1="585" x2="447.4" y2="864.35" stroke="#000" stroke-width="2.3"/>
<line x1="446.25" y1="863.2" x2="735" y2="863.2" stroke="#000" stroke-width="1.9"/>
<line x1="447.4" y1="862.91" x2="451.7" y2="862.91" stroke="#000" stroke-width="0.95"/>
<line x1="447.4" y1="860.54" x2="451.7" y2="860.54" stroke="#000" stroke-width="0.95"/>
<line x1="447.4" y1="858.49" x2="451.7" y2="858.49" stroke="#000" stroke-width="0.95"/>
<line x1="447.4" y1="856.67" x2="451.7" y2="856.67" stroke="#000" stroke-width="0.95"/>
<line x1="447.4" y1="855.05" x2="454.5" y2="855.05" stroke="#000" stroke-width="1.6"/>
<text x="436.3" y="859.65" font-family="'Liberation Sans','DejaVu Sans',sans-serif" font-size="14" text-anchor="end" fill="#000">10</text>
<text x="436.8" y="852.25" font-family="'Liberation Sans','DejaVu Sans',sans-serif" font-size="9" text-anchor="start" fill="#000">-2</text>
<line x1="447.4" y1="844.38" x2="451.7" y2="844.38" stroke="#000" stroke-width="0.95"/>
<line x1="447.4" y1="838.14" x2="451.7" y2="838.14" stroke="#000" stroke-width="0.95"/>
<line x1="447.4" y1="833.71" x2="451.7" y2="833.71" stroke="#000" stroke-width="0.95"/>
<line x1="447.4" y1="830.27" x2="451.7" y2="830.27" stroke="#000" stroke-width="0.95"/>
<line x1="447.4" y1="827.46" x2="451.7" y2="827.46" stroke="#000" stroke-width="0.95"/>
<line x1="447.4" y1="825.09" x2="451.7" y2="825.09" stroke="#000" stroke-width="0.95"/>
<line x1="447.4" y1="823.04" x2="451.7" y2="823.04" stroke="#000" stroke-width="0.95"/>
<line x1="447.4" y1="821.22" x2="451.7" y2="821.22" stroke="#000" stroke-width="0.95"/>
<line x1="447.4" y1="819.6" x2="454.5" y2="819.6" stroke="#000" stroke-width="1.6"/>
<text x="436.3" y="824.2" font-family="'Liberation Sans','DejaVu Sans',sans-serif" font-size="14" text-anchor="end" fill="#000">10</text>
<text x="436.8" y="816.8" font-family="'Liberation Sans','DejaVu Sans',sans-serif" font-size="9" text-anchor="start" fill="#000">-1</text>
<line x1="447.4" y1="808.93" x2="451.7" y2="808.93" stroke="#000" stroke-width="0.95"/>
<line x1="447.4" y1="802.69" x2="451.7" y2="802.69" stroke="#000" stroke-width="0.95"/>
<line x1="447.4" y1="798.26" x2="451.7" y2="798.26" stroke="#000" stroke-width="0.95"/>
<line x1="447.4" y1="794.82" x2="451.7" y2="794.82" stroke="#000" stroke-width="0.95"/>
<line x1="447.4" y1="792.01" x2="451.7" y2="792.01" stroke="#000" stroke-width="0.95"/>
<line x1="447.4" y1="789.64" x2="451.7" y2="789.64" stroke="#000" stroke-width="0.95"/>
<line x1="447.4" y1="787.59" x2="451.7" y2="787.59" stroke="#000" stroke-width="0.95"/>
<line x1="447.4" y1="785.77" x2="451.7" y2="785.77" stroke="#000" stroke-width="0.95"/>
<line x1="447.4" y1="784.15" x2="454.5" y2="784.15" stroke="#000" stroke-width="1.6"/>
<text x="436.3" y="788.75" font-family="'Liberation Sans','DejaVu Sans',sans-serif" font-size="14" text-anchor="end" fill="#000">10</text>
<text x="436.8" y="781.35" font-family="'Liberation Sans','DejaVu Sans',sans-serif" font-size="9" text-anchor="start" fill="#000">0</text>
<line x1="447.4" y1="773.48" x2="451.7" y2="773.48" stroke="#000" stroke-width="0.95"/>
<line x1="447.4" y1="767.24" x2="451.7" y2="767.24" stroke="#000" stroke-width="0.95"/>
<line x1="447.4" y1="762.81" x2="451.7" y2="762.81" stroke="#000" stroke-width="0.95"/>
<line x1="447.4" y1="759.37" x2="451.7" y2="759.37" stroke="#000" stroke-width="0.95"/>
<line x1="447.4" y1="756.56" x2="451.7" y2="756.56" stroke="#000" stroke-width="0.95"/>
<line x1="447.4" y1="754.19" x2="451.7" y2="754.19" stroke="#000" stroke-width="0.95"/>
<line x1="447.4" y1="752.14" x2="451.7" y2="752.14" stroke="#000" stroke-width="0.95"/>
<line x1="447.4" y1="750.32" x2="451.7" y2="750.32" stroke="#000" stroke-width="0.95"/>
<line x1="447.4" y1="748.7" x2="454.5" y2="748.7" stroke="#000" stroke-width="1.6"/>
<text x="436.3" y="753.3" font-family="'Liberation Sans','DejaVu Sans',sans-serif" font-size="14" text-anchor="end" fill="#000">10</text>
<text x="436.8" y="745.9" font-family="'Liberation Sans','DejaVu Sans',sans-serif" font-size="9" text-anchor="start" fill="#000">1</text>
<line x1="447.4" y1="738.03" x2="451.7" y2="738.03" stroke="#000" stroke-width="0.95"/>
<line x1="447.4" y1="731.79" x2="451.7" y2="731.79" stroke="#000" stroke-width="0.95"/>
<line x1="447.4" y1="727.36" x2="451.7" y2="727.36" stroke="#000" stroke-width="0.95"/>
<line x1="447.4" y1="723.92" x2="451.7" y2="723.92" stroke="#000" stroke-width="0.95"/>
<line x1="447.4" y1="721.11" x2="451.7" y2="721.11" stroke="#000" stroke-width="0.95"/>
<line x1="447.4" y1="718.74" x2="451.7" y2="718.74" stroke="#000" stroke-width="0.95"/>
<line x1="447.4" y1="716.69" x2="451.7" y2="716.69" stroke="#000" stroke-width="0.95"/>
<line x1="447.4" y1="714.87" x2="451.7" y2="714.87" stroke="#000" stroke-width="0.95"/>
<line x1="447.4" y1="713.25" x2="454.5" y2="713.25" stroke="#000" stroke-width="1.6"/>
<text x="436.3" y="717.85" font-family="'Liberation Sans','DejaVu Sans',sans-serif" font-size="14" text-anchor="end" fill="#000">10</text>
<text x="436.8" y="710.45" font-family="'Liberation Sans','DejaVu Sans',sans-serif" font-size="9" text-anchor="start" fill="#000">2</text>
<line x1="447.4" y1="702.58" x2="451.7" y2="702.58" stroke="#000" stroke-width="0.95"/>
<line x1="447.4" y1="696.34" x2="451.7" y2="696.34" stroke="#000" stroke-width="0.95"/>
<line x1="447.4" y1="691.91" x2="451.7" y2="691.91" stroke="#000" stroke-width="0.95"/>
<line x1="447.4" y1="688.47" x2="451.7" y2="688.47" stroke="#000" stroke-width="0.95"/>
<line x1="447.4" y1="685.66" x2="451.7" y2="685.66" stroke="#000" stroke-width="0.95"/>
<line x1="447.4" y1="683.29" x2="451.7" y2="683.29" stroke="#000" stroke-width="0.95"/>
<line x1="447.4" y1="681.24" x2="451.7" y2="681.24" stroke="#000" stroke-width="0.95"/>
<line x1="447.4" y1="679.42" x2="451.7" y2="679.42" stroke="#000" stroke-width="0.95"/>
<line x1="447.4" y1="677.8" x2="454.5" y2="677.8" stroke="#000" stroke-width="1.6"/>
<text x="436.3" y="682.4" font-family="'Liberation Sans','DejaVu Sans',sans-serif" font-size="14" text-anchor="end" fill="#000">10</text>
<text x="436.8" y="675" font-family="'Liberation Sans','DejaVu Sans',sans-serif" font-size="9" text-anchor="start" fill="#000">3</text>
<line x1="447.4" y1="667.13" x2="451.7" y2="667.13" stroke="#000" stroke-width="0.95"/>
<line x1="447.4" y1="660.89" x2="451.7" y2="660.89" stroke="#000" stroke-width="0.95"/>
<line x1="447.4" y1="656.46" x2="451.7" y2="656.46" stroke="#000" stroke-width="0.95"/>
<line x1="447.4" y1="653.02" x2="451.7" y2="653.02" stroke="#000" stroke-width="0.95"/>
<line x1="447.4" y1="650.21" x2="451.7" y2="650.21" stroke="#000" stroke-width="0.95"/>
<line x1="447.4" y1="647.84" x2="451.7" y2="647.84" stroke="#000" stroke-width="0.95"/>
<line x1="447.4" y1="645.79" x2="451.7" y2="645.79" stroke="#000" stroke-width="0.95"/>
<line x1="447.4" y1="643.97" x2="451.7" y2="643.97" stroke="#000" stroke-width="0.95"/>
<line x1="447.4" y1="642.35" x2="454.5" y2="642.35" stroke="#000" stroke-width="1.6"/>
<text x="436.3" y="646.95" font-family="'Liberation Sans','DejaVu Sans',sans-serif" font-size="14" text-anchor="end" fill="#000">10</text>
<text x="436.8" y="639.55" font-family="'Liberation Sans','DejaVu Sans',sans-serif" font-size="9" text-anchor="start" fill="#000">4</text>
<line x1="447.4" y1="631.68" x2="451.7" y2="631.68" stroke="#000" stroke-width="0.95"/>
<line x1="447.4" y1="625.44" x2="451.7" y2="625.44" stroke="#000" stroke-width="0.95"/>
<line x1="447.4" y1="621.01" x2="451.7" y2="621.01" stroke="#000" stroke-width="0.95"/>
<line x1="447.4" y1="617.57" x2="451.7" y2="617.57" stroke="#000" stroke-width="0.95"/>
<line x1="447.4" y1="614.76" x2="451.7" y2="614.76" stroke="#000" stroke-width="0.95"/>
<line x1="447.4" y1="612.39" x2="451.7" y2="612.39" stroke="#000" stroke-width="0.95"/>
<line x1="447.4" y1="610.34" x2="451.7" y2="610.34" stroke="#000" stroke-width="0.95"/>
<line x1="447.4" y1="608.52" x2="451.7" y2="608.52" stroke="#000" stroke-width="0.95"/>
<line x1="447.4" y1="606.9" x2="454.5" y2="606.9" stroke="#000" stroke-width="1.6"/>
<text x="436.3" y="611.5" font-family="'Liberation Sans','DejaVu Sans',sans-serif" font-size="14" text-anchor="end" fill="#000">10</text>
<text x="436.8" y="604.1" font-family="'Liberation Sans','DejaVu Sans',sans-serif" font-size="9" text-anchor="start" fill="#000">5</text>
<line x1="447.4" y1="596.23" x2="451.7" y2="596.23" stroke="#000" stroke-width="0.95"/>
<line x1="447.4" y1="589.99" x2="451.7" y2="589.99" stroke="#000" stroke-width="0.95"/>
<line x1="447.4" y1="585.56" x2="451.7" y2="585.56" stroke="#000" stroke-width="0.95"/>
<line x1="447.4" y1="863.2" x2="447.4" y2="856.1" stroke="#000" stroke-width="1.6"/>
<text x="447.6" y="877.2" font-family="'Liberation Sans','DejaVu Sans',sans-serif" font-size="14.5" text-anchor="middle" letter-spacing="0.4" fill="#000">0</text>
<line x1="465.68" y1="863.2" x2="465.68" y2="858.9" stroke="#000" stroke-width="0.95"/>
<line x1="483.96" y1="863.2" x2="483.96" y2="858.9" stroke="#000" stroke-width="0.95"/>
<line x1="502.24" y1="863.2" x2="502.24" y2="858.9" stroke="#000" stroke-width="0.95"/>
<line x1="520.52" y1="863.2" x2="520.52" y2="858.9" stroke="#000" stroke-width="0.95"/>
<line x1="538.8" y1="863.2" x2="538.8" y2="856.1" stroke="#000" stroke-width="1.6"/>
<text x="539" y="877.2" font-family="'Liberation Sans','DejaVu Sans',sans-serif" font-size="14.5" text-anchor="middle" letter-spacing="0.4" fill="#000">1</text>
<line x1="557.08" y1="863.2" x2="557.08" y2="858.9" stroke="#000" stroke-width="0.95"/>
<line x1="575.36" y1="863.2" x2="575.36" y2="858.9" stroke="#000" stroke-width="0.95"/>
<line x1="593.64" y1="863.2" x2="593.64" y2="858.9" stroke="#000" stroke-width="0.95"/>
<line x1="611.92" y1="863.2" x2="611.92" y2="858.9" stroke="#000" stroke-width="0.95"/>
<line x1="630.2" y1="863.2" x2="630.2" y2="856.1" stroke="#000" stroke-width="1.6"/>
<text x="630.4" y="877.2" font-family="'Liberation Sans','DejaVu Sans',sans-serif" font-size="14.5" text-anchor="middle" letter-spacing="0.4" fill="#000">2</text>
<line x1="648.48" y1="863.2" x2="648.48" y2="858.9" stroke="#000" stroke-width="0.95"/>
<line x1="666.76" y1="863.2" x2="666.76" y2="858.9" stroke="#000" stroke-width="0.95"/>
<line x1="685.04" y1="863.2" x2="685.04" y2="858.9" stroke="#000" stroke-width="0.95"/>
<line x1="703.32" y1="863.2" x2="703.32" y2="858.9" stroke="#000" stroke-width="0.95"/>
<line x1="721.6" y1="863.2" x2="721.6" y2="856.1" stroke="#000" stroke-width="1.6"/>
<text x="721.8" y="877.2" font-family="'Liberation Sans','DejaVu Sans',sans-serif" font-size="14.5" text-anchor="middle" letter-spacing="0.4" fill="#000">3</text>
<text x="590" y="892" font-family="'Liberation Sans','DejaVu Sans',sans-serif" font-size="21" text-anchor="middle" font-weight="bold" textLength="101" lengthAdjust="spacing" fill="#000">frequency</text>
<text transform="translate(413.2 748) rotate(-90) scale(0.94 1)" font-family="'Liberation Sans','DejaVu Sans',sans-serif" font-size="21.5" font-weight="bold" text-anchor="middle" fill="#000">amp</text>
</g>
<g id="p4">
<path d="M446.88 958.09 L447.11 1037.85 L447.57 968.5 L448.03 1044.79 L448.5 984.68 L448.96 1047.1 L449.42 1003.17 L449.88 1026.29 L450.34 1012.42 L451.27 1026.29 L452.19 1018.2 L453.12 1028.61 L454.28 1028.61 L455.43 1042.48 L456.36 1037.85 L457.28 1058.66 L458.21 1051.72 L458.9 1082.94 L459.59 1058.66 L460.29 1088.72 L460.75 1089.87 L461.67 1054.04 L462.6 1019.36 L463.29 963.87 L463.99 996.24 L464.45 963.87 L464.91 996.24 L465.37 1049.41 L465.83 1124.55 L466.53 1088.72 L466.99 1054.04 L467.68 1079.47 L468.15 1070.22 L468.84 1102.59 L469.3 1074.84" fill="none" stroke="#cc0000" stroke-width="2.2" stroke-linejoin="round"/>
<clipPath id="cp4"><rect x="446.4" y="958.1" width="300" height="278.1"/></clipPath>
<path clip-path="url(#cp4)" d="M469.3 1074.84 L469.3 1101.36 L469.65 1076.84 L470 1106.06 L470.34 1079.64 L470.69 1109.12 L471.04 1081.05 L471.38 1112.21 L471.73 1082.37 L472.08 1119.44 L472.42 1083.53 L472.77 1125.26 L473.12 1085.3 L473.46 1125.11 L473.81 1086.28 L474.16 1124.52 L474.5 1087.75 L474.85 1128.96 L475.2 1089.15 L475.54 1129.62 L475.89 1090.74 L476.24 1131.63 L476.59 1091.91 L476.93 1136.15 L477.28 1093.28 L477.63 1138.69 L477.97 1094.6 L478.32 1142.36 L478.67 1096.55 L479.01 1139.26 L479.36 1097.4 L479.71 1145.03 L480.05 1098.64 L480.4 1141.86 L480.75 1073.69 L481.09 1146.19 L481.44 1073.69 L481.79 1146.89 L482.13 1102.06 L482.48 1143.93 L482.83 1103.38 L483.17 1144.11 L483.52 1103.88 L483.87 1137.54 L484.21 1104.59 L484.56 1139.18 L484.91 1104.91 L485.26 1130.57 L485.6 1105.49 L485.95 1131.18 L486.3 1106.22 L486.64 1132.53 L486.99 1106.81 L487.34 1137.75 L487.68 1107.17 L488.03 1138.4 L488.38 1107.62 L488.72 1134.78 L489.07 1108.16 L489.42 1136.71 L489.76 1108.39 L490.11 1138.83 L490.46 1108.84 L490.8 1142.18 L491.15 1109.18 L491.5 1145.7 L491.84 1108.89 L492.19 1154.27 L492.54 1109.13 L492.88 1161.94 L493.23 1109.94 L493.58 1171.87 L493.92 1109.79 L494.27 1180.69 L494.62 1110.11 L494.97 1249.45 L495.31 1110.46 L495.66 1180.31 L496.01 1110.84 L496.35 1180.38 L496.7 1111.42 L497.05 1179.88 L497.39 1111.13 L497.74 1168.93 L498.09 1111.57 L498.43 1163.33 L498.78 1111.87 L499.13 1165.07 L499.47 1112.54 L499.82 1188.77 L500.17 1112.09 L500.51 1177.69 L500.86 1112.36 L501.21 1161.37 L501.55 1113.08 L501.9 1160.33 L502.25 1113.01 L502.59 1158.94 L502.94 1112.92 L503.29 1158.27 L503.63 1113.4 L503.98 1156.71 L504.33 1113.88 L504.68 1157.88 L505.02 1113.67 L505.37 1157.21 L505.72 1114.23 L506.06 1157.27 L506.41 1114.2 L506.76 1156.33 L507.1 1114.82 L507.45 1156.93 L507.8 1114.99 L508.14 1156.92 L508.49 1114.63 L508.84 1156.53 L509.18 1115.24 L509.53 1155.91 L509.88 1115.66 L510.22 1155.96 L510.57 1115.73 L510.92 1155.93 L511.26 1115.93 L511.61 1155.71 L511.96 1116.39 L512.3 1156.12 L512.65 1116.05 L513 1156.17 L513.34 1116.43 L513.69 1155.86 L514.04 1117.11 L514.39 1156.14 L514.73 1117.14 L515.08 1154.96 L515.43 1117.29 L515.77 1155.86 L516.12 1117.55 L516.47 1155.69 L516.81 1118.22 L517.16 1154.6 L517.51 1118.07 L517.85 1152.32 L518.2 1118.78 L518.55 1152.81 L518.89 1119.13 L519.24 1153.71 L519.59 1119.44 L519.93 1153.18 L520.28 1119.26 L520.63 1153 L520.97 1119.78 L521.32 1152.95 L521.67 1119.68 L522.01 1153.68 L522.36 1120.21 L522.71 1153.63 L523.05 1120.33 L523.4 1154.28 L523.75 1120.83 L524.1 1153.61 L524.44 1121.36 L524.79 1153.27 L525.14 1121.32 L525.48 1152.83 L525.83 1121.68 L526.18 1152.16 L526.52 1122.15 L526.87 1152.6 L527.22 1122.04 L527.56 1152.24 L527.91 1122.7 L528.26 1151.82 L528.6 1123.16 L528.95 1152.36 L529.3 1123.05 L529.64 1151.87 L529.99 1123.27 L530.34 1151.74 L530.68 1123.67 L531.03 1151.29 L531.38 1123.81 L531.72 1151.64 L532.07 1124.12 L532.42 1151.43 L532.77 1124.42 L533.11 1150.47 L533.46 1124.91 L533.81 1149.82 L534.15 1125.17 L534.5 1150.21 L534.85 1125.51 L535.19 1149.72 L535.54 1125.78 L535.89 1149.66 L536.23 1126.06 L536.58 1149.74 L536.93 1126.47 L537.27 1149.14 L537.62 1126.4 L537.97 1149.39 L538.31 1126.31 L538.66 1149 L539.01 1126.34 L539.35 1149.01 L539.7 1126.45 L540.05 1148.6 L540.39 1126.73 L540.74 1147.92 L541.09 1127.1 L541.43 1147.63 L541.78 1126.75 L542.13 1147.01 L542.48 1127.22 L542.82 1147.31 L543.17 1127.23 L543.52 1147.05 L543.86 1126.98 L544.21 1146.61 L544.56 1127.62 L544.9 1146.19 L545.25 1127.14 L545.6 1146.84 L545.94 1127.73 L546.29 1145.5 L546.64 1127.68 L546.98 1145.46 L547.33 1127.34 L547.68 1145.14 L548.02 1127.45 L548.37 1145.8 L548.72 1127.67 L549.06 1145.77 L549.41 1128.05 L549.76 1145.3 L550.1 1128.06 L550.45 1144.59 L550.8 1128.14 L551.14 1144.69 L551.49 1128.33 L551.84 1145.11 L552.19 1128.07 L552.53 1145.29 L552.88 1128.3 L553.23 1145.47 L553.57 1128.4 L553.92 1145.89 L554.27 1128.07 L554.61 1145.52 L554.96 1128.06 L555.31 1145.97 L555.65 1128.61 L556 1145.85 L556.35 1128.24 L556.69 1145.32 L557.04 1128.55 L557.39 1145.73 L557.73 1128.83 L558.08 1145.74 L558.43 1128.46 L558.77 1146.84 L559.12 1128.72 L559.47 1145.99 L559.81 1128.95 L560.16 1146.79 L560.51 1128.9 L560.85 1145.84 L561.2 1128.7 L561.55 1146.82 L561.9 1128.87 L562.24 1146.52 L562.59 1129.32 L562.94 1146.58 L563.28 1129.31 L563.63 1146.57 L563.98 1129.09 L564.32 1147.13 L564.67 1129.06 L565.02 1146.56 L565.36 1129 L565.71 1147.53 L566.06 1129.09 L566.4 1146.88 L566.75 1129.26 L567.1 1147.61 L567.44 1129.29 L567.79 1147.86 L568.14 1129.43 L568.48 1146.93 L568.83 1129.51 L569.18 1147.52 L569.52 1129.4 L569.87 1147.84 L570.22 1129.6 L570.57 1148.24 L570.91 1130.32 L571.26 1147.34 L571.61 1130.47 L571.95 1148.07 L572.3 1130.32 L572.65 1146.9 L572.99 1130.54 L573.34 1146.8 L573.69 1131.08 L574.03 1147.99 L574.38 1130.89 L574.73 1147.1 L575.07 1131.01 L575.42 1147.31 L575.77 1131.18 L576.11 1147.42 L576.46 1131.13 L576.81 1146.64 L577.15 1131.98 L577.5 1147.52 L577.85 1132.05 L578.19 1146.73 L578.54 1131.56 L578.89 1147.31 L579.23 1131.97 L579.58 1147.17 L579.93 1131.88 L580.28 1146.85 L580.62 1132.41 L580.97 1146.5 L581.32 1132.01 L581.66 1145.76 L582.01 1132.55 L582.36 1145.98 L582.7 1132.04 L583.05 1145.66 L583.4 1132.31 L583.74 1145.72 L584.09 1132.58 L584.44 1145.82 L584.78 1132.67 L585.13 1145.52 L585.48 1132.53 L585.82 1145.89 L586.17 1132.34 L586.52 1145.96 L586.86 1132.96 L587.21 1146.08 L587.56 1132.93 L587.9 1145.19 L588.25 1132.61 L588.6 1145.16 L588.94 1133 L589.29 1144.78 L589.64 1132.88 L589.99 1145 L590.33 1133.26 L590.68 1145.54 L591.03 1132.89 L591.37 1145.57 L591.72 1133.25 L592.07 1145.74 L592.41 1133.45 L592.76 1145.71 L593.11 1133.45 L593.45 1145.69 L593.8 1133.33 L594.15 1144.94 L594.49 1133.38 L594.84 1145.3 L595.19 1133.34 L595.53 1145.53 L595.88 1133.21 L596.23 1145.48 L596.57 1133.54 L596.92 1145.8 L597.27 1133.41 L597.61 1145.76 L597.96 1133.55 L598.31 1145.75 L598.65 1133.97 L599 1145.02 L599.35 1134.11 L599.7 1145.7 L600.04 1134.16 L600.39 1145.48 L600.74 1134.29 L601.08 1146.14 L601.43 1134.18 L601.78 1145.51 L602.12 1134.08 L602.47 1145.29 L602.82 1134.36 L603.16 1145.21 L603.51 1134.08 L603.86 1145.85 L604.2 1134.32 L604.55 1146.34 L604.9 1134.53 L605.24 1145.6 L605.59 1134.33 L605.94 1145.54 L606.28 1134.75 L606.63 1145.33 L606.98 1134.61 L607.32 1146.17 L607.67 1134.89 L608.02 1145.94 L608.37 1134.9 L608.71 1145.8 L609.06 1134.8 L609.41 1145.28 L609.75 1134.44 L610.1 1146.12 L610.45 1134.58 L610.79 1146.48 L611.14 1134.76 L611.49 1145.29 L611.83 1134.76 L612.18 1146.42 L612.53 1135.3 L612.87 1145.91 L613.22 1135.03 L613.57 1145.66 L613.91 1135.33 L614.26 1146.31 L614.61 1134.97 L614.95 1146.05 L615.3 1135.48 L615.65 1145.37 L615.99 1135.08 L616.34 1145.72 L616.69 1135.32 L617.03 1145.47 L617.38 1135.28 L617.73 1146.33 L618.08 1135.15 L618.42 1145.52 L618.77 1135.31 L619.12 1146.35 L619.46 1135.43 L619.81 1145.48 L620.16 1135.38 L620.5 1146.31 L620.85 1135.85 L621.2 1146.56 L621.54 1135.84 L621.89 1146.22 L622.24 1135.51 L622.58 1145.98 L622.93 1135.81 L623.28 1146.55 L623.62 1136.3 L623.97 1145.69 L624.32 1136 L624.66 1146.43 L625.01 1135.76 L625.36 1145.88 L625.7 1136 L626.05 1146.2 L626.4 1136.31 L626.74 1145.88 L627.09 1136.05 L627.44 1146.81 L627.79 1136.53 L628.13 1146.88 L628.48 1136.34 L628.83 1146.92 L629.17 1136.26 L629.52 1146.72 L629.87 1136.71 L630.21 1145.95 L630.56 1136.31 L630.91 1146.18 L631.25 1136.5 L631.6 1146.87 L631.95 1136.42 L632.29 1145.96 L632.64 1136.28 L632.99 1146.67 L633.33 1136.46 L633.68 1147 L634.03 1136.76 L634.37 1146.46 L634.72 1136.68 L635.07 1146.29 L635.41 1136.8 L635.76 1146.11 L636.11 1136.55 L636.45 1146.85 L636.8 1136.58 L637.15 1147.02 L637.5 1136.36 L637.84 1145.88 L638.19 1136.68 L638.54 1145.94 L638.88 1136.85 L639.23 1146.31 L639.58 1136.86 L639.92 1145.74 L640.27 1137.03 L640.62 1146.7 L640.96 1137.01 L641.31 1146.4 L641.66 1136.55 L642 1146.49 L642.35 1136.82 L642.7 1145.83 L643.04 1137.06 L643.39 1146.29 L643.74 1137.01 L644.08 1146.34 L644.43 1136.53 L644.78 1146.48 L645.12 1136.97 L645.47 1146.04 L645.82 1136.97 L646.16 1147.09 L646.51 1136.99 L646.86 1145.73 L647.21 1136.68 L647.55 1146.11 L647.9 1136.68 L648.25 1146.04 L648.59 1137.21 L648.94 1146.82 L649.29 1137.15 L649.63 1146.7 L649.98 1137.2 L650.33 1147.07 L650.67 1137.13 L651.02 1146.82 L651.37 1136.88 L651.71 1146.91 L652.06 1137.2 L652.41 1146.85 L652.75 1136.9 L653.1 1146.63 L653.45 1136.86 L653.79 1146.83 L654.14 1137.21 L654.49 1146.34 L654.83 1137.24 L655.18 1146.93 L655.53 1137.1 L655.88 1147.04 L656.22 1136.81 L656.57 1146.56 L656.92 1137.16 L657.26 1146.17 L657.61 1137.16 L657.96 1147.06 L658.3 1137.05 L658.65 1146.15 L659 1137.46 L659.34 1145.92 L659.69 1137.16 L660.04 1145.88 L660.38 1137.01 L660.73 1146.33 L661.08 1137.38 L661.42 1147.19 L661.77 1136.92 L662.12 1146.75 L662.46 1137.03 L662.81 1146.96 L663.16 1137.28 L663.5 1146.32 L663.85 1137.25 L664.2 1146.24 L664.54 1137.15 L664.89 1146.7 L665.24 1137.04 L665.59 1146.92 L665.93 1137.3 L666.28 1146.08 L666.63 1137.31 L666.97 1146 L667.32 1137.64 L667.67 1146.16 L668.01 1137.55 L668.36 1147.21 L668.71 1137.51 L669.05 1147.19 L669.4 1137.56 L669.75 1146.65 L670.09 1137.11 L670.44 1145.96 L670.79 1137.2 L671.13 1145.92 L671.48 1137.63 L671.83 1145.98 L672.17 1137.54 L672.52 1146.77 L672.87 1137.61 L673.21 1146.63 L673.56 1137.65 L673.91 1145.95 L674.25 1137.19 L674.6 1147.05 L674.95 1137.47 L675.3 1147.24 L675.64 1137.43 L675.99 1146.7 L676.34 1137.32 L676.68 1147.23 L677.03 1137.66 L677.38 1146.97 L677.72 1137.72 L678.07 1146.72 L678.42 1137.87 L678.76 1146.89 L679.11 1137.64 L679.46 1146.91 L679.8 1137.94 L680.15 1146.93 L680.5 1137.77 L680.84 1146.83 L681.19 1137.79 L681.54 1146.46 L681.88 1137.87 L682.23 1146.46 L682.58 1137.66 L682.92 1146.71 L683.27 1137.47 L683.62 1147.17 L683.96 1137.48 L684.31 1146.05 L684.66 1137.86 L685.01 1146.09 L685.35 1137.84 L685.7 1147.05 L686.05 1137.43 L686.39 1146.61 L686.74 1138.12 L687.09 1146.26 L687.43 1137.5 L687.78 1146.86 L688.13 1137.57 L688.47 1146.99 L688.82 1137.96 L689.17 1146.92 L689.51 1137.86 L689.86 1146.98 L690.21 1137.81 L690.55 1146.86 L690.9 1137.94 L691.25 1147.28 L691.59 1138.24 L691.94 1147.2 L692.29 1137.61 L692.63 1146.13 L692.98 1137.84 L693.33 1147.39 L693.68 1137.78 L694.02 1146.28 L694.37 1138.13 L694.72 1146.51 L695.06 1138.21 L695.41 1146.76 L695.76 1138.29 L696.1 1147.04 L696.45 1138.01 L696.8 1146.27 L697.14 1138.06 L697.49 1147.09 L697.84 1137.93 L698.18 1146.24 L698.53 1138.08 L698.88 1146.96 L699.22 1138.16 L699.57 1147.24 L699.92 1138.26 L700.26 1146.94 L700.61 1138.12 L700.96 1146.97 L701.3 1138.37 L701.65 1147.21 L702 1138.4 L702.34 1146.54 L702.69 1137.94 L703.04 1147.25 L703.39 1138.01 L703.73 1146.85 L704.08 1138.5 L704.43 1146.38 L704.77 1138.06 L705.12 1146.82 L705.47 1137.9 L705.81 1146.41 L706.16 1138.38 L706.51 1146.6 L706.85 1138.32 L707.2 1147.39 L707.55 1138.28 L707.89 1146.66 L708.24 1138.37 L708.59 1146.26 L708.93 1138.18 L709.28 1147.17 L709.63 1138.27 L709.97 1146.65 L710.32 1138.58 L710.67 1146.48 L711.01 1138.36 L711.36 1146.98 L711.71 1138.54 L712.05 1147.01 L712.4 1138.33 L712.75 1147.5 L713.1 1138.4 L713.44 1147.25 L713.79 1138.74 L714.14 1147.41 L714.48 1138.11 L714.83 1146.82 L715.18 1138.78 L715.52 1147.17 L715.87 1138.21 L716.22 1147.43 L716.56 1138.13 L716.91 1146.7 L717.26 1138.39 L717.6 1146.42 L717.95 1138.32 L718.3 1146.8 L718.64 1138.22 L718.99 1147.12 L719.34 1138.82 L719.68 1146.74 L720.03 1138.53 L720.38 1146.29 L720.72 1138.47 L721.07 1147.48 L721.42 1138.56 L721.76 1146.77 L722.11 1138.81 L722.46 1147.08 L722.81 1138.63 L723.15 1146.36 L723.5 1138.73 L723.85 1147.22 L724.19 1138.95 L724.54 1146.82 L724.89 1138.9 L725.23 1146.49 L725.58 1138.8 L725.93 1147.2 L726.27 1138.81 L726.62 1147.46 L726.97 1138.83 L727.31 1146.9 L727.66 1138.61 L728.01 1147.01 L728.35 1138.6 L728.7 1146.98 L729.05 1138.71 L729.39 1146.95 L729.74 1138.45 L730.09 1147.49 L730.43 1139.04 L730.78 1147.4 L731.13 1138.68 L731.48 1146.69 L731.82 1138.75 L732.17 1147.1 L732.52 1138.52 L732.86 1147.06 L733.21 1138.91 L733.56 1147.05 L733.9 1138.79 L734.25 1147.43" fill="none" stroke="#cc0000" stroke-width="1.6" stroke-linejoin="round"/>
<line x1="447.4" y1="957.9" x2="447.4" y2="1237.35" stroke="#000" stroke-width="2.3"/>
<line x1="446.25" y1="1236.2" x2="735" y2="1236.2" stroke="#000" stroke-width="1.9"/>
<line x1="447.4" y1="1232.9" x2="451.7" y2="1232.9" stroke="#000" stroke-width="0.95"/>
<line x1="447.4" y1="1227.45" x2="451.7" y2="1227.45" stroke="#000" stroke-width="0.95"/>
<line x1="447.4" y1="1223.22" x2="451.7" y2="1223.22" stroke="#000" stroke-width="0.95"/>
<line x1="447.4" y1="1219.77" x2="451.7" y2="1219.77" stroke="#000" stroke-width="0.95"/>
<line x1="447.4" y1="1216.85" x2="451.7" y2="1216.85" stroke="#000" stroke-width="0.95"/>
<line x1="447.4" y1="1214.33" x2="451.7" y2="1214.33" stroke="#000" stroke-width="0.95"/>
<line x1="447.4" y1="1212.1" x2="451.7" y2="1212.1" stroke="#000" stroke-width="0.95"/>
<line x1="447.4" y1="1210.1" x2="454.5" y2="1210.1" stroke="#000" stroke-width="1.6"/>
<text x="436.3" y="1214.7" font-family="'Liberation Sans','DejaVu Sans',sans-serif" font-size="14" text-anchor="end" fill="#000">10</text>
<text x="436.8" y="1207.3" font-family="'Liberation Sans','DejaVu Sans',sans-serif" font-size="9" text-anchor="start" fill="#000">-2</text>
<line x1="447.4" y1="1196.98" x2="451.7" y2="1196.98" stroke="#000" stroke-width="0.95"/>
<line x1="447.4" y1="1189.3" x2="451.7" y2="1189.3" stroke="#000" stroke-width="0.95"/>
<line x1="447.4" y1="1183.85" x2="451.7" y2="1183.85" stroke="#000" stroke-width="0.95"/>
<line x1="447.4" y1="1179.62" x2="451.7" y2="1179.62" stroke="#000" stroke-width="0.95"/>
<line x1="447.4" y1="1176.17" x2="451.7" y2="1176.17" stroke="#000" stroke-width="0.95"/>
<line x1="447.4" y1="1173.25" x2="451.7" y2="1173.25" stroke="#000" stroke-width="0.95"/>
<line x1="447.4" y1="1170.73" x2="451.7" y2="1170.73" stroke="#000" stroke-width="0.95"/>
<line x1="447.4" y1="1168.5" x2="451.7" y2="1168.5" stroke="#000" stroke-width="0.95"/>
<line x1="447.4" y1="1166.5" x2="454.5" y2="1166.5" stroke="#000" stroke-width="1.6"/>
<text x="436.3" y="1171.1" font-family="'Liberation Sans','DejaVu Sans',sans-serif" font-size="14" text-anchor="end" fill="#000">10</text>
<text x="436.8" y="1163.7" font-family="'Liberation Sans','DejaVu Sans',sans-serif" font-size="9" text-anchor="start" fill="#000">-1</text>
<line x1="447.4" y1="1153.38" x2="451.7" y2="1153.38" stroke="#000" stroke-width="0.95"/>
<line x1="447.4" y1="1145.7" x2="451.7" y2="1145.7" stroke="#000" stroke-width="0.95"/>
<line x1="447.4" y1="1140.25" x2="451.7" y2="1140.25" stroke="#000" stroke-width="0.95"/>
<line x1="447.4" y1="1136.02" x2="451.7" y2="1136.02" stroke="#000" stroke-width="0.95"/>
<line x1="447.4" y1="1132.57" x2="451.7" y2="1132.57" stroke="#000" stroke-width="0.95"/>
<line x1="447.4" y1="1129.65" x2="451.7" y2="1129.65" stroke="#000" stroke-width="0.95"/>
<line x1="447.4" y1="1127.13" x2="451.7" y2="1127.13" stroke="#000" stroke-width="0.95"/>
<line x1="447.4" y1="1124.9" x2="451.7" y2="1124.9" stroke="#000" stroke-width="0.95"/>
<line x1="447.4" y1="1122.9" x2="454.5" y2="1122.9" stroke="#000" stroke-width="1.6"/>
<text x="436.3" y="1127.5" font-family="'Liberation Sans','DejaVu Sans',sans-serif" font-size="14" text-anchor="end" fill="#000">10</text>
<text x="436.8" y="1120.1" font-family="'Liberation Sans','DejaVu Sans',sans-serif" font-size="9" text-anchor="start" fill="#000">0</text>
<line x1="447.4" y1="1109.78" x2="451.7" y2="1109.78" stroke="#000" stroke-width="0.95"/>
<line x1="447.4" y1="1102.1" x2="451.7" y2="1102.1" stroke="#000" stroke-width="0.95"/>
<line x1="447.4" y1="1096.65" x2="451.7" y2="1096.65" stroke="#000" stroke-width="0.95"/>
<line x1="447.4" y1="1092.42" x2="451.7" y2="1092.42" stroke="#000" stroke-width="0.95"/>
<line x1="447.4" y1="1088.97" x2="451.7" y2="1088.97" stroke="#000" stroke-width="0.95"/>
<line x1="447.4" y1="1086.05" x2="451.7" y2="1086.05" stroke="#000" stroke-width="0.95"/>
<line x1="447.4" y1="1083.53" x2="451.7" y2="1083.53" stroke="#000" stroke-width="0.95"/>
<line x1="447.4" y1="1081.3" x2="451.7" y2="1081.3" stroke="#000" stroke-width="0.95"/>
<line x1="447.4" y1="1079.3" x2="454.5" y2="1079.3" stroke="#000" stroke-width="1.6"/>
<text x="436.3" y="1083.9" font-family="'Liberation Sans','DejaVu Sans',sans-serif" font-size="14" text-anchor="end" fill="#000">10</text>
<text x="436.8" y="1076.5" font-family="'Liberation Sans','DejaVu Sans',sans-serif" font-size="9" text-anchor="start" fill="#000">1</text>
<line x1="447.4" y1="1066.18" x2="451.7" y2="1066.18" stroke="#000" stroke-width="0.95"/>
<line x1="447.4" y1="1058.5" x2="451.7" y2="1058.5" stroke="#000" stroke-width="0.95"/>
<line x1="447.4" y1="1053.05" x2="451.7" y2="1053.05" stroke="#000" stroke-width="0.95"/>
<line x1="447.4" y1="1048.82" x2="451.7" y2="1048.82" stroke="#000" stroke-width="0.95"/>
<line x1="447.4" y1="1045.37" x2="451.7" y2="1045.37" stroke="#000" stroke-width="0.95"/>
<line x1="447.4" y1="1042.45" x2="451.7" y2="1042.45" stroke="#000" stroke-width="0.95"/>
<line x1="447.4" y1="1039.93" x2="451.7" y2="1039.93" stroke="#000" stroke-width="0.95"/>
<line x1="447.4" y1="1037.7" x2="451.7" y2="1037.7" stroke="#000" stroke-width="0.95"/>
<line x1="447.4" y1="1035.7" x2="454.5" y2="1035.7" stroke="#000" stroke-width="1.6"/>
<text x="436.3" y="1040.3" font-family="'Liberation Sans','DejaVu Sans',sans-serif" font-size="14" text-anchor="end" fill="#000">10</text>
<text x="436.8" y="1032.9" font-family="'Liberation Sans','DejaVu Sans',sans-serif" font-size="9" text-anchor="start" fill="#000">2</text>
<line x1="447.4" y1="1022.58" x2="451.7" y2="1022.58" stroke="#000" stroke-width="0.95"/>
<line x1="447.4" y1="1014.9" x2="451.7" y2="1014.9" stroke="#000" stroke-width="0.95"/>
<line x1="447.4" y1="1009.45" x2="451.7" y2="1009.45" stroke="#000" stroke-width="0.95"/>
<line x1="447.4" y1="1005.22" x2="451.7" y2="1005.22" stroke="#000" stroke-width="0.95"/>
<line x1="447.4" y1="1001.77" x2="451.7" y2="1001.77" stroke="#000" stroke-width="0.95"/>
<line x1="447.4" y1="998.85" x2="451.7" y2="998.85" stroke="#000" stroke-width="0.95"/>
<line x1="447.4" y1="996.33" x2="451.7" y2="996.33" stroke="#000" stroke-width="0.95"/>
<line x1="447.4" y1="994.1" x2="451.7" y2="994.1" stroke="#000" stroke-width="0.95"/>
<line x1="447.4" y1="992.1" x2="454.5" y2="992.1" stroke="#000" stroke-width="1.6"/>
<text x="436.3" y="996.7" font-family="'Liberation Sans','DejaVu Sans',sans-serif" font-size="14" text-anchor="end" fill="#000">10</text>
<text x="436.8" y="989.3" font-family="'Liberation Sans','DejaVu Sans',sans-serif" font-size="9" text-anchor="start" fill="#000">3</text>
<line x1="447.4" y1="978.98" x2="451.7" y2="978.98" stroke="#000" stroke-width="0.95"/>
<line x1="447.4" y1="971.3" x2="451.7" y2="971.3" stroke="#000" stroke-width="0.95"/>
<line x1="447.4" y1="965.85" x2="451.7" y2="965.85" stroke="#000" stroke-width="0.95"/>
<line x1="447.4" y1="961.62" x2="451.7" y2="961.62" stroke="#000" stroke-width="0.95"/>
<line x1="447.4" y1="958.17" x2="451.7" y2="958.17" stroke="#000" stroke-width="0.95"/>
<line x1="447.4" y1="1236.2" x2="447.4" y2="1229.1" stroke="#000" stroke-width="1.6"/>
<text x="447.6" y="1250.2" font-family="'Liberation Sans','DejaVu Sans',sans-serif" font-size="14.5" text-anchor="middle" letter-spacing="0.4" fill="#000">0</text>
<line x1="456.5" y1="1236.2" x2="456.5" y2="1231.9" stroke="#000" stroke-width="0.95"/>
<line x1="465.6" y1="1236.2" x2="465.6" y2="1231.9" stroke="#000" stroke-width="0.95"/>
<line x1="474.7" y1="1236.2" x2="474.7" y2="1231.9" stroke="#000" stroke-width="0.95"/>
<line x1="483.8" y1="1236.2" x2="483.8" y2="1231.9" stroke="#000" stroke-width="0.95"/>
<line x1="492.9" y1="1236.2" x2="492.9" y2="1229.1" stroke="#000" stroke-width="1.6"/>
<text x="493.1" y="1250.2" font-family="'Liberation Sans','DejaVu Sans',sans-serif" font-size="14.5" text-anchor="middle" letter-spacing="0.4" fill="#000">0.5</text>
<line x1="502" y1="1236.2" x2="502" y2="1231.9" stroke="#000" stroke-width="0.95"/>
<line x1="511.1" y1="1236.2" x2="511.1" y2="1231.9" stroke="#000" stroke-width="0.95"/>
<line x1="520.2" y1="1236.2" x2="520.2" y2="1231.9" stroke="#000" stroke-width="0.95"/>
<line x1="529.3" y1="1236.2" x2="529.3" y2="1231.9" stroke="#000" stroke-width="0.95"/>
<line x1="538.4" y1="1236.2" x2="538.4" y2="1229.1" stroke="#000" stroke-width="1.6"/>
<text x="538.6" y="1250.2" font-family="'Liberation Sans','DejaVu Sans',sans-serif" font-size="14.5" text-anchor="middle" letter-spacing="0.4" fill="#000">1</text>
<line x1="547.5" y1="1236.2" x2="547.5" y2="1231.9" stroke="#000" stroke-width="0.95"/>
<line x1="556.6" y1="1236.2" x2="556.6" y2="1231.9" stroke="#000" stroke-width="0.95"/>
<line x1="565.7" y1="1236.2" x2="565.7" y2="1231.9" stroke="#000" stroke-width="0.95"/>
<line x1="574.8" y1="1236.2" x2="574.8" y2="1231.9" stroke="#000" stroke-width="0.95"/>
<line x1="583.9" y1="1236.2" x2="583.9" y2="1229.1" stroke="#000" stroke-width="1.6"/>
<text x="584.1" y="1250.2" font-family="'Liberation Sans','DejaVu Sans',sans-serif" font-size="14.5" text-anchor="middle" letter-spacing="0.4" fill="#000">1.5</text>
<line x1="593" y1="1236.2" x2="593" y2="1231.9" stroke="#000" stroke-width="0.95"/>
<line x1="602.1" y1="1236.2" x2="602.1" y2="1231.9" stroke="#000" stroke-width="0.95"/>
<line x1="611.2" y1="1236.2" x2="611.2" y2="1231.9" stroke="#000" stroke-width="0.95"/>
<line x1="620.3" y1="1236.2" x2="620.3" y2="1231.9" stroke="#000" stroke-width="0.95"/>
<line x1="629.4" y1="1236.2" x2="629.4" y2="1229.1" stroke="#000" stroke-width="1.6"/>
<text x="629.6" y="1250.2" font-family="'Liberation Sans','DejaVu Sans',sans-serif" font-size="14.5" text-anchor="middle" letter-spacing="0.4" fill="#000">2</text>
<line x1="638.5" y1="1236.2" x2="638.5" y2="1231.9" stroke="#000" stroke-width="0.95"/>
<line x1="647.6" y1="1236.2" x2="647.6" y2="1231.9" stroke="#000" stroke-width="0.95"/>
<line x1="656.7" y1="1236.2" x2="656.7" y2="1231.9" stroke="#000" stroke-width="0.95"/>
<line x1="665.8" y1="1236.2" x2="665.8" y2="1231.9" stroke="#000" stroke-width="0.95"/>
<line x1="674.9" y1="1236.2" x2="674.9" y2="1229.1" stroke="#000" stroke-width="1.6"/>
<text x="675.1" y="1250.2" font-family="'Liberation Sans','DejaVu Sans',sans-serif" font-size="14.5" text-anchor="middle" letter-spacing="0.4" fill="#000">2.5</text>
<line x1="684" y1="1236.2" x2="684" y2="1231.9" stroke="#000" stroke-width="0.95"/>
<line x1="693.1" y1="1236.2" x2="693.1" y2="1231.9" stroke="#000" stroke-width="0.95"/>
<line x1="702.2" y1="1236.2" x2="702.2" y2="1231.9" stroke="#000" stroke-width="0.95"/>
<line x1="711.3" y1="1236.2" x2="711.3" y2="1231.9" stroke="#000" stroke-width="0.95"/>
<line x1="720.4" y1="1236.2" x2="720.4" y2="1229.1" stroke="#000" stroke-width="1.6"/>
<text x="720.6" y="1250.2" font-family="'Liberation Sans','DejaVu Sans',sans-serif" font-size="14.5" text-anchor="middle" letter-spacing="0.4" fill="#000">3</text>
<line x1="729.5" y1="1236.2" x2="729.5" y2="1231.9" stroke="#000" stroke-width="0.95"/>
<text x="590" y="1265" font-family="'Liberation Sans','DejaVu Sans',sans-serif" font-size="21" text-anchor="middle" font-weight="bold" textLength="101" lengthAdjust="spacing" fill="#000">frequency</text>
<text transform="translate(413.2 1121.7) rotate(-90) scale(0.94 1)" font-family="'Liberation Sans','DejaVu Sans',sans-serif" font-size="21.5" font-weight="bold" text-anchor="middle" fill="#000">amp</text>
</g>
</svg>
</body>
</html>
